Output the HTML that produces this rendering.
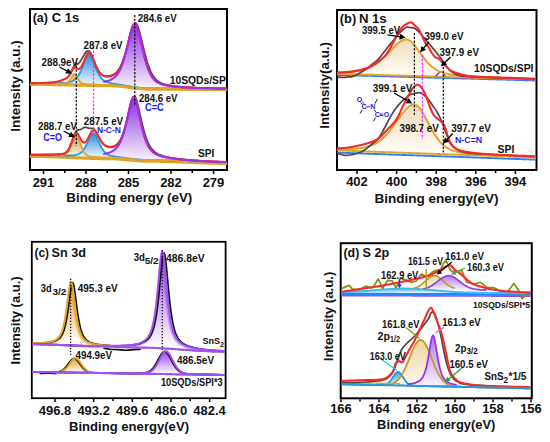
<!DOCTYPE html>
<html><head><meta charset="utf-8"><style>
html,body{margin:0;padding:0;background:#fff;width:550px;height:442px;overflow:hidden}
svg{display:block}
text{font-family:"Liberation Sans",sans-serif}
</style></head><body>
<svg width="550" height="442" viewBox="0 0 550 442">
<defs><linearGradient id="g1" gradientUnits="userSpaceOnUse" x1="0" y1="74.0" x2="0" y2="84.5"><stop offset="0" stop-color="#D4A060" stop-opacity="1"/><stop offset="1" stop-color="#FFF8EC" stop-opacity="1"/></linearGradient>
<linearGradient id="g2" gradientUnits="userSpaceOnUse" x1="0" y1="54.6" x2="0" y2="84.8"><stop offset="0" stop-color="#2F8FE0" stop-opacity="1"/><stop offset="1" stop-color="#EEF5FD" stop-opacity="1"/></linearGradient>
<linearGradient id="g3" gradientUnits="userSpaceOnUse" x1="0" y1="24.0" x2="0" y2="87.5"><stop offset="0" stop-color="#8A2BE2" stop-opacity="1"/><stop offset="1" stop-color="#F7F0FF" stop-opacity="1"/></linearGradient>
<linearGradient id="g4" gradientUnits="userSpaceOnUse" x1="0" y1="136.0" x2="0" y2="156.8"><stop offset="0" stop-color="#D4A060" stop-opacity="1"/><stop offset="1" stop-color="#FFF8EC" stop-opacity="1"/></linearGradient>
<linearGradient id="g5" gradientUnits="userSpaceOnUse" x1="0" y1="133.5" x2="0" y2="157.4"><stop offset="0" stop-color="#2F8FE0" stop-opacity="1"/><stop offset="1" stop-color="#EEF5FD" stop-opacity="1"/></linearGradient>
<linearGradient id="g6" gradientUnits="userSpaceOnUse" x1="0" y1="97.3" x2="0" y2="159.3"><stop offset="0" stop-color="#8A2BE2" stop-opacity="1"/><stop offset="1" stop-color="#F7F0FF" stop-opacity="1"/></linearGradient>
<linearGradient id="g7" gradientUnits="userSpaceOnUse" x1="0" y1="39.4" x2="0" y2="75.7"><stop offset="0" stop-color="#F1DCB8" stop-opacity="1"/><stop offset="1" stop-color="#FFFDF8" stop-opacity="1"/></linearGradient>
<linearGradient id="g8" gradientUnits="userSpaceOnUse" x1="0" y1="104.6" x2="0" y2="153.1"><stop offset="0" stop-color="#F1DCB8" stop-opacity="1"/><stop offset="1" stop-color="#FFFDF8" stop-opacity="1"/></linearGradient>
<linearGradient id="g9" gradientUnits="userSpaceOnUse" x1="0" y1="281.6" x2="0" y2="345.6"><stop offset="0" stop-color="#E2A030" stop-opacity="1"/><stop offset="1" stop-color="#FFFFFF" stop-opacity="1"/></linearGradient>
<clipPath id="clipc1"><path d="M33.00 343.40 L33.50 343.37 L34.00 343.35 L34.50 343.33 L35.00 343.31 L35.50 343.28 L36.00 343.26 L36.50 343.23 L37.00 343.21 L37.50 343.18 L38.00 343.15 L38.50 343.13 L39.00 343.10 L39.50 343.07 L40.00 343.03 L40.50 343.00 L41.00 342.97 L41.50 342.93 L42.00 342.89 L42.50 342.85 L43.00 342.81 L43.50 342.77 L44.00 342.72 L44.50 342.67 L45.00 342.61 L45.50 342.56 L46.00 342.50 L46.50 342.43 L47.00 342.36 L47.50 342.29 L48.00 342.21 L48.50 342.12 L49.00 342.03 L49.50 341.93 L50.00 341.83 L50.50 341.72 L51.00 341.59 L51.50 341.46 L52.00 341.32 L52.50 341.16 L53.00 340.99 L53.50 340.81 L54.00 340.61 L54.50 340.39 L55.00 340.15 L55.50 339.88 L56.00 339.59 L56.50 339.27 L57.00 338.91 L57.50 338.50 L58.00 338.05 L58.50 337.54 L59.00 336.96 L59.50 336.30 L60.00 335.54 L60.50 334.68 L61.00 333.70 L61.50 332.57 L62.00 331.28 L62.50 329.81 L63.00 328.13 L63.50 326.23 L64.00 324.08 L64.50 321.67 L65.00 318.97 L65.50 315.99 L66.00 312.72 L66.50 309.17 L67.00 305.39 L67.50 301.43 L68.00 297.39 L68.50 293.40 L69.00 289.66 L69.50 286.39 L70.00 283.83 L70.50 282.19 L71.00 281.64 L71.50 282.24 L72.00 283.92 L72.50 286.53 L73.00 289.85 L73.50 293.64 L74.00 297.67 L74.50 301.76 L75.00 305.77 L75.50 309.60 L76.00 313.19 L76.50 316.51 L77.00 319.54 L77.50 322.28 L78.00 324.74 L78.50 326.93 L79.00 328.88 L79.50 330.60 L80.00 332.12 L80.50 333.45 L81.00 334.62 L81.50 335.65 L82.00 336.55 L82.50 337.35 L83.00 338.05 L83.50 338.67 L84.00 339.22 L84.50 339.72 L85.00 340.16 L85.50 340.56 L86.00 340.92 L86.50 341.25 L87.00 341.55 L87.50 341.83 L88.00 342.09 L88.50 342.32 L89.00 342.54 L89.50 342.74 L90.00 342.93 L90.50 343.10 L91.00 343.27 L91.50 343.42 L92.00 343.56 L92.50 343.70 L93.00 343.82 L93.50 343.94 L94.00 344.05 L94.50 344.16 L95.00 344.25 L95.50 344.35 L96.00 344.43 L96.50 344.51 L97.00 344.59 L97.50 344.66 L98.00 344.73 L98.50 344.79 L99.00 344.85 L99.50 344.91 L100.00 344.96 L100.50 345.01 L101.00 345.06 L101.50 345.11 L102.00 345.16 L102.50 345.20 L103.00 345.25 L103.50 345.29 L104.00 345.34 L104.50 345.38 L105.00 345.42 L105.50 345.46 L106.00 345.50 L106.50 345.54 L107.00 345.58 L107.50 345.62 L108.00 345.66 L108.50 345.70 L109.00 345.74 L109.50 345.77 L110.00 345.81 L110.50 345.85 L111.00 345.88 L111.50 345.92 L112.00 345.96 L112.50 345.99 L113.00 346.03 L113.50 346.06 L114.00 346.10 L114.50 346.13 L115.00 346.17 L115.50 346.20 L116.00 346.24 L116.50 346.27 L117.00 346.31 L117.50 346.34 L118.00 346.37 L118.50 346.40 L119.00 346.44 L119.50 346.47 L120.00 346.50 L120.50 346.53 L121.00 346.56 L121.50 346.59 L122.00 346.63 L122.50 346.66 L123.00 346.69 L123.50 346.71 L124.00 346.74 L124.50 346.77 L125.00 346.80 L125.50 346.83 L126.00 346.85 L126.50 346.88 L127.00 346.91 L127.50 346.93 L128.00 346.96 L128.50 346.98 L129.00 347.00 L129.50 347.03 L130.00 347.05 L130.50 347.07 L131.00 347.09 L131.50 347.11 L132.00 347.13 L132.50 347.15 L133.00 347.17 L133.50 347.18 L134.00 347.20 L134.50 347.22 L135.00 347.23 L135.50 347.24 L136.00 347.26 L136.50 347.27 L137.00 347.28 L137.50 347.29 L138.00 347.30 L138.50 347.30 L139.00 347.31 L139.50 347.32 L140.00 347.32 L140.50 347.33 L141.00 347.33 L141.50 347.34 L142.00 347.34 L142.50 347.35 L143.00 347.36 L143.50 347.37 L144.00 347.38 L144.50 347.39 L145.00 347.40 L145.50 347.41 L146.00 347.42 L146.50 347.43 L147.00 347.45 L147.50 347.46 L148.00 347.48 L148.50 347.49 L149.00 347.51 L149.50 347.52 L150.00 347.54 L150.50 347.56 L151.00 347.58 L151.50 347.60 L152.00 347.61 L152.50 347.63 L153.00 347.65 L153.50 347.68 L154.00 347.70 L154.50 347.72 L155.00 347.74 L155.50 347.76 L156.00 347.79 L156.50 347.81 L157.00 347.84 L157.50 347.86 L158.00 347.89 L158.50 347.91 L159.00 347.94 L159.50 347.97 L160.00 347.99 L160.50 348.02 L161.00 348.05 L161.50 348.08 L162.00 348.10 L162.50 348.13 L163.00 348.16 L163.50 348.19 L164.00 348.22 L164.50 348.25 L165.00 348.28 L165.50 348.32 L166.00 348.35 L166.50 348.38 L167.00 348.41 L167.50 348.44 L168.00 348.48 L168.50 348.51 L169.00 348.54 L169.50 348.57 L170.00 348.61 L170.50 348.64 L171.00 348.68 L171.50 348.71 L172.00 348.74 L172.50 348.78 L173.00 348.81 L173.50 348.85 L174.00 348.88 L174.50 348.92 L175.00 348.95 L175.50 348.99 L176.00 349.02 L176.50 349.06 L177.00 349.10 L177.50 349.13 L178.00 349.17 L178.50 349.20 L179.00 349.24 L179.50 349.28 L180.00 349.31 L180.50 349.35 L181.00 349.38 L181.50 349.42 L182.00 349.46 L182.50 349.49 L183.00 349.53 L183.50 349.57 L184.00 349.60 L184.50 349.64 L185.00 349.67 L185.50 349.71 L186.00 349.75 L186.50 349.78 L187.00 349.82 L187.50 349.85 L188.00 349.89 L188.50 349.92 L189.00 349.96 L189.50 349.99 L190.00 350.03 L190.50 350.06 L191.00 350.10 L191.50 350.13 L192.00 350.17 L192.50 350.20 L193.00 350.24 L193.50 350.27 L194.00 350.30 L194.50 350.34 L195.00 350.37 L195.50 350.40 L196.00 350.44 L196.50 350.47 L197.00 350.50 L197.50 350.53 L198.00 350.56 L198.50 350.59 L199.00 350.63 L199.50 350.66 L200.00 350.69 L200.50 350.72 L201.00 350.74 L201.50 350.77 L202.00 350.80 L202.50 350.83 L203.00 350.86 L203.50 350.89 L204.00 350.91 L204.50 350.94 L205.00 350.97 L205.50 350.99 L206.00 351.02 L206.50 351.04 L207.00 351.07 L207.50 351.09 L208.00 351.11 L208.50 351.14 L209.00 351.16 L209.50 351.18 L210.00 351.20 L210.50 351.22 L211.00 351.24 L211.50 351.26 L212.00 351.28 L212.50 351.30 L213.00 351.32 L213.50 351.33 L214.00 351.35 L214.50 351.37 L215.00 351.38 L215.50 351.40 L216.00 351.41 L216.50 351.43 L217.00 351.44 L217.50 351.45 L218.00 351.46 L218.50 351.47 L219.00 351.48 L219.50 351.49 L220.00 351.50 L220.50 351.51 L221.00 351.52 L221.50 351.52 L222.00 351.53 L222.50 351.53 L223.00 351.54 L223.50 351.54 L224.00 351.54 L224.00 351.60 L33.00 344.30 Z"/></clipPath>
<linearGradient id="g10" gradientUnits="userSpaceOnUse" x1="0" y1="251.3" x2="0" y2="348.3"><stop offset="0" stop-color="#9A40F0" stop-opacity="1"/><stop offset="1" stop-color="#FFFFFF" stop-opacity="1"/></linearGradient>
<clipPath id="clipc2"><path d="M33.00 344.16 L33.50 344.16 L34.00 344.16 L34.50 344.16 L35.00 344.16 L35.50 344.17 L36.00 344.17 L36.50 344.17 L37.00 344.18 L37.50 344.18 L38.00 344.19 L38.50 344.20 L39.00 344.21 L39.50 344.21 L40.00 344.22 L40.50 344.23 L41.00 344.24 L41.50 344.25 L42.00 344.26 L42.50 344.27 L43.00 344.28 L43.50 344.30 L44.00 344.31 L44.50 344.32 L45.00 344.33 L45.50 344.35 L46.00 344.36 L46.50 344.38 L47.00 344.39 L47.50 344.41 L48.00 344.42 L48.50 344.44 L49.00 344.45 L49.50 344.47 L50.00 344.49 L50.50 344.51 L51.00 344.52 L51.50 344.54 L52.00 344.56 L52.50 344.58 L53.00 344.60 L53.50 344.62 L54.00 344.63 L54.50 344.65 L55.00 344.67 L55.50 344.69 L56.00 344.71 L56.50 344.73 L57.00 344.75 L57.50 344.78 L58.00 344.80 L58.50 344.82 L59.00 344.84 L59.50 344.86 L60.00 344.88 L60.50 344.90 L61.00 344.92 L61.50 344.94 L62.00 344.97 L62.50 344.99 L63.00 345.01 L63.50 345.03 L64.00 345.05 L64.50 345.07 L65.00 345.10 L65.50 345.12 L66.00 345.14 L66.50 345.16 L67.00 345.18 L67.50 345.20 L68.00 345.22 L68.50 345.25 L69.00 345.27 L69.50 345.29 L70.00 345.31 L70.50 345.33 L71.00 345.35 L71.50 345.37 L72.00 345.39 L72.50 345.41 L73.00 345.43 L73.50 345.45 L74.00 345.47 L74.50 345.49 L75.00 345.51 L75.50 345.53 L76.00 345.55 L76.50 345.56 L77.00 345.58 L77.50 345.60 L78.00 345.62 L78.50 345.63 L79.00 345.65 L79.50 345.67 L80.00 345.68 L80.50 345.70 L81.00 345.71 L81.50 345.73 L82.00 345.74 L82.50 345.76 L83.00 345.77 L83.50 345.78 L84.00 345.80 L84.50 345.81 L85.00 345.82 L85.50 345.83 L86.00 345.84 L86.50 345.85 L87.00 345.86 L87.50 345.87 L88.00 345.88 L88.50 345.89 L89.00 345.90 L89.50 345.90 L90.00 345.91 L90.50 345.91 L91.00 345.92 L91.50 345.92 L92.00 345.93 L92.50 345.93 L93.00 345.93 L93.50 345.93 L94.00 345.93 L94.50 345.93 L95.00 345.93 L95.50 345.93 L96.00 345.93 L96.50 345.93 L97.00 345.92 L97.50 345.92 L98.00 345.91 L98.50 345.90 L99.00 345.90 L99.50 345.89 L100.00 345.88 L100.50 345.87 L101.00 345.86 L101.50 345.85 L102.00 345.84 L102.50 345.84 L103.00 345.83 L103.50 345.83 L104.00 345.82 L104.50 345.82 L105.00 345.81 L105.50 345.81 L106.00 345.81 L106.50 345.80 L107.00 345.80 L107.50 345.80 L108.00 345.80 L108.50 345.80 L109.00 345.79 L109.50 345.79 L110.00 345.79 L110.50 345.79 L111.00 345.79 L111.50 345.79 L112.00 345.79 L112.50 345.79 L113.00 345.78 L113.50 345.78 L114.00 345.78 L114.50 345.78 L115.00 345.78 L115.50 345.77 L116.00 345.77 L116.50 345.76 L117.00 345.76 L117.50 345.75 L118.00 345.75 L118.50 345.74 L119.00 345.73 L119.50 345.72 L120.00 345.71 L120.50 345.70 L121.00 345.69 L121.50 345.68 L122.00 345.66 L122.50 345.65 L123.00 345.63 L123.50 345.61 L124.00 345.59 L124.50 345.57 L125.00 345.54 L125.50 345.51 L126.00 345.49 L126.50 345.46 L127.00 345.42 L127.50 345.39 L128.00 345.35 L128.50 345.31 L129.00 345.26 L129.50 345.21 L130.00 345.16 L130.50 345.11 L131.00 345.05 L131.50 344.99 L132.00 344.92 L132.50 344.85 L133.00 344.78 L133.50 344.70 L134.00 344.61 L134.50 344.52 L135.00 344.42 L135.50 344.31 L136.00 344.20 L136.50 344.08 L137.00 343.96 L137.50 343.82 L138.00 343.68 L138.50 343.52 L139.00 343.36 L139.50 343.18 L140.00 343.00 L140.50 342.80 L141.00 342.58 L141.50 342.36 L142.00 342.12 L142.50 341.86 L143.00 341.58 L143.50 341.29 L144.00 340.97 L144.50 340.63 L145.00 340.25 L145.50 339.85 L146.00 339.41 L146.50 338.93 L147.00 338.40 L147.50 337.82 L148.00 337.17 L148.50 336.45 L149.00 335.65 L149.50 334.75 L150.00 333.74 L150.50 332.61 L151.00 331.33 L151.50 329.88 L152.00 328.25 L152.50 326.41 L153.00 324.33 L153.50 322.00 L154.00 319.38 L154.50 316.46 L155.00 313.21 L155.50 309.61 L156.00 305.65 L156.50 301.33 L157.00 296.65 L157.50 291.65 L158.00 286.35 L158.50 280.85 L159.00 275.26 L159.50 269.74 L160.00 264.50 L160.50 259.79 L161.00 255.89 L161.50 253.06 L162.00 251.53 L162.50 251.41 L163.00 252.72 L163.50 255.36 L164.00 259.12 L164.50 263.75 L165.00 268.96 L165.50 274.49 L166.00 280.14 L166.50 285.72 L167.00 291.12 L167.50 296.24 L168.00 301.04 L168.50 305.49 L169.00 309.57 L169.50 313.29 L170.00 316.67 L170.50 319.71 L171.00 322.43 L171.50 324.87 L172.00 327.05 L172.50 328.99 L173.00 330.71 L173.50 332.24 L174.00 333.60 L174.50 334.81 L175.00 335.90 L175.50 336.86 L176.00 337.73 L176.50 338.51 L177.00 339.22 L177.50 339.86 L178.00 340.44 L178.50 340.98 L179.00 341.47 L179.50 341.92 L180.00 342.34 L180.50 342.73 L181.00 343.10 L181.50 343.44 L182.00 343.76 L182.50 344.06 L183.00 344.34 L183.50 344.61 L184.00 344.86 L184.50 345.10 L185.00 345.32 L185.50 345.54 L186.00 345.74 L186.50 345.94 L187.00 346.12 L187.50 346.30 L188.00 346.47 L188.50 346.63 L189.00 346.79 L189.50 346.93 L190.00 347.08 L190.50 347.21 L191.00 347.35 L191.50 347.47 L192.00 347.60 L192.50 347.71 L193.00 347.83 L193.50 347.94 L194.00 348.04 L194.50 348.15 L195.00 348.25 L195.50 348.34 L196.00 348.44 L196.50 348.53 L197.00 348.61 L197.50 348.70 L198.00 348.78 L198.50 348.86 L199.00 348.94 L199.50 349.02 L200.00 349.09 L200.50 349.16 L201.00 349.23 L201.50 349.30 L202.00 349.37 L202.50 349.43 L203.00 349.49 L203.50 349.55 L204.00 349.61 L204.50 349.67 L205.00 349.73 L205.50 349.78 L206.00 349.84 L206.50 349.89 L207.00 349.94 L207.50 349.99 L208.00 350.04 L208.50 350.08 L209.00 350.13 L209.50 350.17 L210.00 350.22 L210.50 350.26 L211.00 350.30 L211.50 350.34 L212.00 350.38 L212.50 350.41 L213.00 350.45 L213.50 350.48 L214.00 350.52 L214.50 350.55 L215.00 350.58 L215.50 350.61 L216.00 350.64 L216.50 350.67 L217.00 350.70 L217.50 350.72 L218.00 350.75 L218.50 350.77 L219.00 350.79 L219.50 350.82 L220.00 350.84 L220.50 350.86 L221.00 350.87 L221.50 350.89 L222.00 350.91 L222.50 350.92 L223.00 350.94 L223.50 350.95 L224.00 350.96 L224.00 351.60 L33.00 344.30 Z"/></clipPath>
<linearGradient id="g11" gradientUnits="userSpaceOnUse" x1="0" y1="358.4" x2="0" y2="372.7"><stop offset="0" stop-color="#E2A030" stop-opacity="1"/><stop offset="1" stop-color="#FFFFFF" stop-opacity="1"/></linearGradient>
<linearGradient id="g12" gradientUnits="userSpaceOnUse" x1="0" y1="351.3" x2="0" y2="374.1"><stop offset="0" stop-color="#9A40F0" stop-opacity="1"/><stop offset="1" stop-color="#FFFFFF" stop-opacity="1"/></linearGradient>
<linearGradient id="g13" gradientUnits="userSpaceOnUse" x1="0" y1="288.6" x2="0" y2="292.8"><stop offset="0" stop-color="#40B0F5" stop-opacity="1"/><stop offset="1" stop-color="#E6F5FF" stop-opacity="1"/></linearGradient>
<linearGradient id="g14" gradientUnits="userSpaceOnUse" x1="0" y1="275.7" x2="0" y2="289.2"><stop offset="0" stop-color="#EDD3A4" stop-opacity="1"/><stop offset="1" stop-color="#FFF8EC" stop-opacity="1"/></linearGradient>
<linearGradient id="g15" gradientUnits="userSpaceOnUse" x1="0" y1="275.7" x2="0" y2="290.2"><stop offset="0" stop-color="#B47CF0" stop-opacity="1"/><stop offset="1" stop-color="#F8F2FF" stop-opacity="1"/></linearGradient>
<linearGradient id="g16" gradientUnits="userSpaceOnUse" x1="0" y1="372.0" x2="0" y2="385.5"><stop offset="0" stop-color="#3AA0F0" stop-opacity="1"/><stop offset="1" stop-color="#E8F4FF" stop-opacity="1"/></linearGradient>
<linearGradient id="g17" gradientUnits="userSpaceOnUse" x1="0" y1="340.0" x2="0" y2="386.0"><stop offset="0" stop-color="#EDD3A4" stop-opacity="1"/><stop offset="1" stop-color="#FFF8EC" stop-opacity="1"/></linearGradient>
<linearGradient id="g18" gradientUnits="userSpaceOnUse" x1="0" y1="335.2" x2="0" y2="386.2"><stop offset="0" stop-color="#B47CF0" stop-opacity="1"/><stop offset="1" stop-color="#F6F0FF" stop-opacity="1"/></linearGradient></defs>
<rect width="550" height="442" fill="#fff"/>
<rect x="30.00" y="9.00" width="197.00" height="161.00" fill="none" stroke="#000" stroke-width="2"/>
<line x1="43.50" y1="171.00" x2="43.50" y2="174.00" stroke="#000" stroke-width="1.5" stroke-linecap="butt"/>
<text x="43.50" y="186.60" font-size="13.00" fill="#111" text-anchor="middle" font-weight="bold">291</text>
<line x1="86.00" y1="171.00" x2="86.00" y2="174.00" stroke="#000" stroke-width="1.5" stroke-linecap="butt"/>
<text x="86.00" y="186.60" font-size="13.00" fill="#111" text-anchor="middle" font-weight="bold">288</text>
<line x1="128.50" y1="171.00" x2="128.50" y2="174.00" stroke="#000" stroke-width="1.5" stroke-linecap="butt"/>
<text x="128.50" y="186.60" font-size="13.00" fill="#111" text-anchor="middle" font-weight="bold">285</text>
<line x1="171.00" y1="171.00" x2="171.00" y2="174.00" stroke="#000" stroke-width="1.5" stroke-linecap="butt"/>
<text x="171.00" y="186.60" font-size="13.00" fill="#111" text-anchor="middle" font-weight="bold">282</text>
<line x1="213.50" y1="171.00" x2="213.50" y2="174.00" stroke="#000" stroke-width="1.5" stroke-linecap="butt"/>
<text x="213.50" y="186.60" font-size="13.00" fill="#111" text-anchor="middle" font-weight="bold">279</text>
<line x1="64.75" y1="171.00" x2="64.75" y2="173.10" stroke="#000" stroke-width="1.5" stroke-linecap="butt"/>
<line x1="107.25" y1="171.00" x2="107.25" y2="173.10" stroke="#000" stroke-width="1.5" stroke-linecap="butt"/>
<line x1="149.75" y1="171.00" x2="149.75" y2="173.10" stroke="#000" stroke-width="1.5" stroke-linecap="butt"/>
<line x1="192.25" y1="171.00" x2="192.25" y2="173.10" stroke="#000" stroke-width="1.5" stroke-linecap="butt"/>
<text x="129.30" y="202.20" font-size="13.30" fill="#111" text-anchor="middle" font-weight="bold" textLength="126.0" lengthAdjust="spacingAndGlyphs">Binding energy (eV)</text>
<text x="20.40" y="86.00" font-size="13.50" fill="#111" text-anchor="middle" font-weight="bold" textLength="91.5" lengthAdjust="spacingAndGlyphs" transform="rotate(-90 20.40 86.00)">Intensity (a.u.)</text>
<path d="M31.00 83.76 L32.00 83.76 L33.00 83.76 L34.00 83.76 L35.00 83.76 L36.00 83.76 L37.00 83.77 L38.00 83.77 L39.00 83.78 L40.00 83.78 L41.00 83.79 L42.00 83.80 L43.00 83.80 L44.00 83.81 L45.00 83.82 L46.00 83.83 L47.00 83.84 L48.00 83.84 L49.00 83.85 L50.00 83.86 L51.00 83.86 L52.00 83.87 L53.00 83.87 L54.00 83.87 L55.00 83.87 L56.00 83.87 L57.00 83.87 L58.00 83.85 L59.00 83.84 L60.00 83.81 L61.00 83.78 L62.00 83.73 L63.00 83.66 L64.00 83.54 L65.00 83.36 L66.00 83.08 L67.00 82.62 L68.00 81.93 L69.00 80.94 L70.00 79.63 L71.00 78.05 L72.00 76.35 L73.00 74.86 L74.00 74.06 L75.00 74.30 L76.00 75.48 L77.00 77.15 L78.00 78.87 L79.00 80.40 L80.00 81.63 L81.00 82.54 L82.00 83.17 L83.00 83.60 L84.00 83.88 L85.00 84.07 L86.00 84.20 L87.00 84.31 L88.00 84.39 L89.00 84.46 L90.00 84.52 L91.00 84.57 L92.00 84.61 L93.00 84.65 L94.00 84.69 L95.00 84.72 L96.00 84.75 L97.00 84.78 L98.00 84.80 L99.00 84.82 L100.00 84.84 L101.00 84.86 L102.00 84.87 L103.00 84.89 L104.00 84.90 L105.00 84.91 L106.00 84.92 L107.00 84.92 L108.00 84.93 L109.00 84.94 L110.00 84.96 L111.00 84.99 L112.00 85.03 L113.00 85.09 L114.00 85.15 L115.00 85.22 L116.00 85.29 L117.00 85.38 L118.00 85.47 L119.00 85.57 L120.00 85.67 L121.00 85.78 L122.00 85.90 L123.00 86.01 L124.00 86.14 L125.00 86.26 L126.00 86.39 L127.00 86.51 L128.00 86.64 L129.00 86.77 L130.00 86.90 L131.00 87.03 L132.00 87.16 L133.00 87.28 L134.00 87.41 L135.00 87.53 L136.00 87.64 L137.00 87.76 L138.00 87.87 L139.00 87.97 L140.00 88.07 L141.00 88.16 L142.00 88.24 L143.00 88.32 L144.00 88.38 L145.00 88.44 L146.00 88.49 L147.00 88.53 L148.00 88.56 L149.00 88.58 L150.00 88.59 L151.00 88.59 L152.00 88.59 L153.00 88.59 L154.00 88.59 L155.00 88.59 L156.00 88.59 L157.00 88.60 L158.00 88.60 L159.00 88.60 L160.00 88.61 L161.00 88.61 L162.00 88.61 L163.00 88.62 L164.00 88.62 L165.00 88.63 L166.00 88.63 L167.00 88.64 L168.00 88.64 L169.00 88.65 L170.00 88.66 L171.00 88.66 L172.00 88.67 L173.00 88.68 L174.00 88.68 L175.00 88.69 L176.00 88.70 L177.00 88.70 L178.00 88.71 L179.00 88.72 L180.00 88.72 L181.00 88.73 L182.00 88.74 L183.00 88.75 L184.00 88.75 L185.00 88.76 L186.00 88.77 L187.00 88.78 L188.00 88.79 L189.00 88.79 L190.00 88.80 L191.00 88.81 L192.00 88.82 L193.00 88.82 L194.00 88.83 L195.00 88.84 L196.00 88.85 L197.00 88.86 L198.00 88.86 L199.00 88.87 L200.00 88.88 L201.00 88.88 L202.00 88.89 L203.00 88.90 L204.00 88.90 L205.00 88.91 L206.00 88.92 L207.00 88.92 L208.00 88.93 L209.00 88.94 L210.00 88.94 L211.00 88.95 L212.00 88.95 L213.00 88.96 L214.00 88.96 L215.00 88.97 L216.00 88.97 L217.00 88.97 L218.00 88.98 L219.00 88.98 L220.00 88.98 L221.00 88.99 L222.00 88.99 L223.00 88.99 L224.00 88.99 L225.00 88.99 L226.00 89.00 L226.00 89.00 L31.00 83.80 Z" fill="url(#g1)" stroke="none"/>
<path d="M31.00 83.50 L32.00 83.49 L33.00 83.49 L34.00 83.48 L35.00 83.47 L36.00 83.46 L37.00 83.46 L38.00 83.45 L39.00 83.45 L40.00 83.44 L41.00 83.43 L42.00 83.43 L43.00 83.42 L44.00 83.41 L45.00 83.40 L46.00 83.40 L47.00 83.39 L48.00 83.38 L49.00 83.36 L50.00 83.35 L51.00 83.33 L52.00 83.32 L53.00 83.30 L54.00 83.28 L55.00 83.25 L56.00 83.22 L57.00 83.19 L58.00 83.15 L59.00 83.11 L60.00 83.06 L61.00 83.00 L62.00 82.94 L63.00 82.87 L64.00 82.78 L65.00 82.69 L66.00 82.57 L67.00 82.44 L68.00 82.27 L69.00 82.08 L70.00 81.84 L71.00 81.54 L72.00 81.17 L73.00 80.71 L74.00 80.14 L75.00 79.42 L76.00 78.53 L77.00 77.44 L78.00 76.13 L79.00 74.58 L80.00 72.77 L81.00 70.70 L82.00 68.40 L83.00 65.91 L84.00 63.31 L85.00 60.72 L86.00 58.33 L87.00 56.37 L88.00 55.07 L89.00 54.62 L90.00 55.10 L91.00 56.44 L92.00 58.44 L93.00 60.86 L94.00 63.48 L95.00 66.11 L96.00 68.64 L97.00 70.97 L98.00 73.07 L99.00 74.91 L100.00 76.49 L101.00 77.83 L102.00 78.95 L103.00 79.87 L104.00 80.61 L105.00 81.22 L106.00 81.70 L107.00 82.10 L108.00 82.42 L109.00 82.68 L110.00 82.92 L111.00 83.13 L112.00 83.33 L113.00 83.52 L114.00 83.70 L115.00 83.87 L116.00 84.04 L117.00 84.21 L118.00 84.38 L119.00 84.55 L120.00 84.71 L121.00 84.88 L122.00 85.04 L123.00 85.21 L124.00 85.37 L125.00 85.54 L126.00 85.70 L127.00 85.86 L128.00 86.03 L129.00 86.18 L130.00 86.34 L131.00 86.50 L132.00 86.65 L133.00 86.80 L134.00 86.94 L135.00 87.08 L136.00 87.22 L137.00 87.35 L138.00 87.47 L139.00 87.59 L140.00 87.70 L141.00 87.81 L142.00 87.90 L143.00 87.99 L144.00 88.07 L145.00 88.14 L146.00 88.20 L147.00 88.25 L148.00 88.29 L149.00 88.32 L150.00 88.33 L151.00 88.34 L152.00 88.35 L153.00 88.36 L154.00 88.36 L155.00 88.37 L156.00 88.38 L157.00 88.39 L158.00 88.40 L159.00 88.41 L160.00 88.42 L161.00 88.43 L162.00 88.44 L163.00 88.45 L164.00 88.45 L165.00 88.46 L166.00 88.47 L167.00 88.48 L168.00 88.49 L169.00 88.50 L170.00 88.51 L171.00 88.52 L172.00 88.53 L173.00 88.54 L174.00 88.55 L175.00 88.56 L176.00 88.57 L177.00 88.58 L178.00 88.59 L179.00 88.60 L180.00 88.61 L181.00 88.62 L182.00 88.63 L183.00 88.64 L184.00 88.65 L185.00 88.66 L186.00 88.67 L187.00 88.68 L188.00 88.69 L189.00 88.70 L190.00 88.71 L191.00 88.72 L192.00 88.73 L193.00 88.74 L194.00 88.75 L195.00 88.76 L196.00 88.76 L197.00 88.77 L198.00 88.78 L199.00 88.79 L200.00 88.80 L201.00 88.81 L202.00 88.82 L203.00 88.82 L204.00 88.83 L205.00 88.84 L206.00 88.85 L207.00 88.86 L208.00 88.86 L209.00 88.87 L210.00 88.88 L211.00 88.88 L212.00 88.89 L213.00 88.90 L214.00 88.90 L215.00 88.91 L216.00 88.91 L217.00 88.92 L218.00 88.92 L219.00 88.93 L220.00 88.93 L221.00 88.93 L222.00 88.94 L223.00 88.94 L224.00 88.94 L225.00 88.94 L226.00 88.95 L226.00 89.00 L31.00 83.80 Z" fill="url(#g2)" stroke="none"/>
<path d="M100.00 82.33 L101.00 82.19 L102.00 82.04 L103.00 81.87 L104.00 81.68 L105.00 81.47 L106.00 81.24 L107.00 80.98 L108.00 80.68 L109.00 80.34 L110.00 79.97 L111.00 79.54 L112.00 79.05 L113.00 78.47 L114.00 77.79 L115.00 76.98 L116.00 76.02 L117.00 74.88 L118.00 73.53 L119.00 71.94 L120.00 70.09 L121.00 67.93 L122.00 65.46 L123.00 62.66 L124.00 59.52 L125.00 56.06 L126.00 52.30 L127.00 48.29 L128.00 44.11 L129.00 39.86 L130.00 35.71 L131.00 31.85 L132.00 28.52 L133.00 25.97 L134.00 24.43 L135.00 24.06 L136.00 24.91 L137.00 26.90 L138.00 29.86 L139.00 33.55 L140.00 37.71 L141.00 42.11 L142.00 46.57 L143.00 50.93 L144.00 55.08 L145.00 58.97 L146.00 62.54 L147.00 65.77 L148.00 68.65 L149.00 71.18 L150.00 73.39 L151.00 75.29 L152.00 76.93 L153.00 78.32 L154.00 79.51 L155.00 80.51 L156.00 81.35 L157.00 82.07 L158.00 82.68 L159.00 83.20 L160.00 83.64 L161.00 84.03 L162.00 84.37 L163.00 84.66 L164.00 84.93 L165.00 85.16 L166.00 85.38 L167.00 85.57 L168.00 85.75 L169.00 85.91 L170.00 86.06 L171.00 86.20 L172.00 86.33 L173.00 86.45 L174.00 86.57 L175.00 86.67 L176.00 86.77 L177.00 86.86 L178.00 86.95 L179.00 87.04 L180.00 87.11 L181.00 87.19 L182.00 87.26 L183.00 87.32 L184.00 87.39 L185.00 87.45 L186.00 87.50 L187.00 87.56 L188.00 87.61 L189.00 87.66 L190.00 87.71 L191.00 87.75 L192.00 87.80 L193.00 87.84 L194.00 87.88 L195.00 87.92 L196.00 87.95 L197.00 87.99 L198.00 88.02 L199.00 88.06 L200.00 88.09 L201.00 88.12 L202.00 88.15 L203.00 88.18 L204.00 88.20 L205.00 88.23 L206.00 88.25 L207.00 88.28 L208.00 88.30 L209.00 88.32 L210.00 88.35 L211.00 88.37 L212.00 88.39 L213.00 88.41 L214.00 88.42 L215.00 88.44 L216.00 88.46 L217.00 88.47 L218.00 88.49 L219.00 88.51 L220.00 88.52 L221.00 88.53 L222.00 88.55 L223.00 88.56 L224.00 88.57 L225.00 88.58 L226.00 88.59 L226.00 89.00 L100.00 84.96 Z" fill="url(#g3)" stroke="none"/>
<path d="M31.00 84.30 L31.50 84.30 L32.00 84.30 L32.50 84.30 L33.00 84.31 L33.50 84.31 L34.00 84.31 L34.50 84.31 L35.00 84.31 L35.50 84.32 L36.00 84.32 L36.50 84.32 L37.00 84.33 L37.50 84.33 L38.00 84.34 L38.50 84.34 L39.00 84.34 L39.50 84.35 L40.00 84.35 L40.50 84.36 L41.00 84.36 L41.50 84.37 L42.00 84.38 L42.50 84.38 L43.00 84.39 L43.50 84.40 L44.00 84.40 L44.50 84.41 L45.00 84.42 L45.50 84.42 L46.00 84.43 L46.50 84.44 L47.00 84.45 L47.50 84.45 L48.00 84.46 L48.50 84.47 L49.00 84.48 L49.50 84.49 L50.00 84.50 L50.50 84.51 L51.00 84.51 L51.50 84.52 L52.00 84.53 L52.50 84.54 L53.00 84.55 L53.50 84.56 L54.00 84.57 L54.50 84.58 L55.00 84.59 L55.50 84.60 L56.00 84.61 L56.50 84.62 L57.00 84.63 L57.50 84.64 L58.00 84.65 L58.50 84.66 L59.00 84.67 L59.50 84.69 L60.00 84.70 L60.50 84.71 L61.00 84.72 L61.50 84.73 L62.00 84.74 L62.50 84.75 L63.00 84.76 L63.50 84.77 L64.00 84.79 L64.50 84.80 L65.00 84.81 L65.50 84.82 L66.00 84.83 L66.50 84.84 L67.00 84.85 L67.50 84.87 L68.00 84.88 L68.50 84.89 L69.00 84.90 L69.50 84.91 L70.00 84.92 L70.50 84.93 L71.00 84.95 L71.50 84.96 L72.00 84.97 L72.50 84.98 L73.00 84.99 L73.50 85.00 L74.00 85.01 L74.50 85.03 L75.00 85.04 L75.50 85.05 L76.00 85.06 L76.50 85.07 L77.00 85.08 L77.50 85.09 L78.00 85.10 L78.50 85.11 L79.00 85.13 L79.50 85.14 L80.00 85.15 L80.50 85.16 L81.00 85.17 L81.50 85.18 L82.00 85.19 L82.50 85.20 L83.00 85.21 L83.50 85.22 L84.00 85.23 L84.50 85.24 L85.00 85.25 L85.50 85.26 L86.00 85.27 L86.50 85.28 L87.00 85.29 L87.50 85.29 L88.00 85.30 L88.50 85.31 L89.00 85.32 L89.50 85.33 L90.00 85.34 L90.50 85.35 L91.00 85.35 L91.50 85.36 L92.00 85.37 L92.50 85.38 L93.00 85.38 L93.50 85.39 L94.00 85.40 L94.50 85.40 L95.00 85.41 L95.50 85.42 L96.00 85.42 L96.50 85.43 L97.00 85.44 L97.50 85.44 L98.00 85.45 L98.50 85.45 L99.00 85.46 L99.50 85.46 L100.00 85.46 L100.50 85.47 L101.00 85.47 L101.50 85.48 L102.00 85.48 L102.50 85.48 L103.00 85.49 L103.50 85.49 L104.00 85.49 L104.50 85.49 L105.00 85.49 L105.50 85.50 L106.00 85.50 L106.50 85.50 L107.00 85.50 L107.50 85.50 L108.00 85.50 L108.50 85.50 L109.00 85.51 L109.50 85.51 L110.00 85.52 L110.50 85.54 L111.00 85.55 L111.50 85.57 L112.00 85.59 L112.50 85.62 L113.00 85.64 L113.50 85.67 L114.00 85.70 L114.50 85.73 L115.00 85.77 L115.50 85.80 L116.00 85.84 L116.50 85.88 L117.00 85.93 L117.50 85.97 L118.00 86.02 L118.50 86.06 L119.00 86.11 L119.50 86.16 L120.00 86.21 L120.50 86.27 L121.00 86.32 L121.50 86.38 L122.00 86.43 L122.50 86.49 L123.00 86.55 L123.50 86.61 L124.00 86.67 L124.50 86.73 L125.00 86.79 L125.50 86.85 L126.00 86.92 L126.50 86.98 L127.00 87.04 L127.50 87.11 L128.00 87.17 L128.50 87.24 L129.00 87.30 L129.50 87.36 L130.00 87.43 L130.50 87.49 L131.00 87.56 L131.50 87.62 L132.00 87.68 L132.50 87.75 L133.00 87.81 L133.50 87.87 L134.00 87.93 L134.50 87.99 L135.00 88.05 L135.50 88.11 L136.00 88.17 L136.50 88.22 L137.00 88.28 L137.50 88.33 L138.00 88.39 L138.50 88.44 L139.00 88.49 L139.50 88.54 L140.00 88.58 L140.50 88.63 L141.00 88.67 L141.50 88.72 L142.00 88.76 L142.50 88.80 L143.00 88.83 L143.50 88.87 L144.00 88.90 L144.50 88.93 L145.00 88.96 L145.50 88.98 L146.00 89.01 L146.50 89.03 L147.00 89.05 L147.50 89.06 L148.00 89.08 L148.50 89.09 L149.00 89.09 L149.50 89.10 L150.00 89.10 L150.50 89.10 L151.00 89.10 L151.50 89.10 L152.00 89.10 L152.50 89.10 L153.00 89.10 L153.50 89.10 L154.00 89.10 L154.50 89.10 L155.00 89.10 L155.50 89.11 L156.00 89.11 L156.50 89.11 L157.00 89.11 L157.50 89.11 L158.00 89.11 L158.50 89.11 L159.00 89.11 L159.50 89.12 L160.00 89.12 L160.50 89.12 L161.00 89.12 L161.50 89.12 L162.00 89.13 L162.50 89.13 L163.00 89.13 L163.50 89.13 L164.00 89.13 L164.50 89.14 L165.00 89.14 L165.50 89.14 L166.00 89.14 L166.50 89.15 L167.00 89.15 L167.50 89.15 L168.00 89.15 L168.50 89.16 L169.00 89.16 L169.50 89.16 L170.00 89.17 L170.50 89.17 L171.00 89.17 L171.50 89.17 L172.00 89.18 L172.50 89.18 L173.00 89.18 L173.50 89.19 L174.00 89.19 L174.50 89.19 L175.00 89.20 L175.50 89.20 L176.00 89.20 L176.50 89.21 L177.00 89.21 L177.50 89.21 L178.00 89.22 L178.50 89.22 L179.00 89.22 L179.50 89.23 L180.00 89.23 L180.50 89.24 L181.00 89.24 L181.50 89.24 L182.00 89.25 L182.50 89.25 L183.00 89.25 L183.50 89.26 L184.00 89.26 L184.50 89.27 L185.00 89.27 L185.50 89.27 L186.00 89.28 L186.50 89.28 L187.00 89.28 L187.50 89.29 L188.00 89.29 L188.50 89.30 L189.00 89.30 L189.50 89.30 L190.00 89.31 L190.50 89.31 L191.00 89.32 L191.50 89.32 L192.00 89.32 L192.50 89.33 L193.00 89.33 L193.50 89.33 L194.00 89.34 L194.50 89.34 L195.00 89.35 L195.50 89.35 L196.00 89.35 L196.50 89.36 L197.00 89.36 L197.50 89.36 L198.00 89.37 L198.50 89.37 L199.00 89.38 L199.50 89.38 L200.00 89.38 L200.50 89.39 L201.00 89.39 L201.50 89.39 L202.00 89.40 L202.50 89.40 L203.00 89.40 L203.50 89.41 L204.00 89.41 L204.50 89.41 L205.00 89.42 L205.50 89.42 L206.00 89.42 L206.50 89.43 L207.00 89.43 L207.50 89.43 L208.00 89.43 L208.50 89.44 L209.00 89.44 L209.50 89.44 L210.00 89.45 L210.50 89.45 L211.00 89.45 L211.50 89.45 L212.00 89.46 L212.50 89.46 L213.00 89.46 L213.50 89.46 L214.00 89.47 L214.50 89.47 L215.00 89.47 L215.50 89.47 L216.00 89.47 L216.50 89.48 L217.00 89.48 L217.50 89.48 L218.00 89.48 L218.50 89.48 L219.00 89.49 L219.50 89.49 L220.00 89.49 L220.50 89.49 L221.00 89.49 L221.50 89.49 L222.00 89.49 L222.50 89.49 L223.00 89.50 L223.50 89.50 L224.00 89.50 L224.50 89.50 L225.00 89.50 L225.50 89.50 L226.00 89.50" fill="none" stroke="#E0A526" stroke-width="3.2" stroke-linejoin="round" stroke-linecap="round"/>
<path d="M31.00 83.50 L32.00 83.49 L33.00 83.49 L34.00 83.48 L35.00 83.47 L36.00 83.46 L37.00 83.46 L38.00 83.45 L39.00 83.45 L40.00 83.44 L41.00 83.43 L42.00 83.43 L43.00 83.42 L44.00 83.41 L45.00 83.40 L46.00 83.40 L47.00 83.39 L48.00 83.38 L49.00 83.36 L50.00 83.35 L51.00 83.33 L52.00 83.32 L53.00 83.30 L54.00 83.28 L55.00 83.25 L56.00 83.22 L57.00 83.19 L58.00 83.15 L59.00 83.11 L60.00 83.06 L61.00 83.00 L62.00 82.94 L63.00 82.87 L64.00 82.78 L65.00 82.69 L66.00 82.57 L67.00 82.44 L68.00 82.27 L69.00 82.08 L70.00 81.84 L71.00 81.54 L72.00 81.17 L73.00 80.71 L74.00 80.14 L75.00 79.42 L76.00 78.53 L77.00 77.44 L78.00 76.13 L79.00 74.58 L80.00 72.77 L81.00 70.70 L82.00 68.40 L83.00 65.91 L84.00 63.31 L85.00 60.72 L86.00 58.33 L87.00 56.37 L88.00 55.07 L89.00 54.62 L90.00 55.10 L91.00 56.44 L92.00 58.44 L93.00 60.86 L94.00 63.48 L95.00 66.11 L96.00 68.64 L97.00 70.97 L98.00 73.07 L99.00 74.91 L100.00 76.49 L101.00 77.83 L102.00 78.95 L103.00 79.87 L104.00 80.61 L105.00 81.22 L106.00 81.70 L107.00 82.10 L108.00 82.42 L109.00 82.68 L110.00 82.92 L111.00 83.13 L112.00 83.33 L113.00 83.52 L114.00 83.70 L115.00 83.87 L116.00 84.04 L117.00 84.21 L118.00 84.38 L119.00 84.55 L120.00 84.71 L121.00 84.88 L122.00 85.04 L123.00 85.21 L124.00 85.37 L125.00 85.54 L126.00 85.70 L127.00 85.86 L128.00 86.03 L129.00 86.18 L130.00 86.34 L131.00 86.50 L132.00 86.65 L133.00 86.80 L134.00 86.94 L135.00 87.08 L136.00 87.22 L137.00 87.35 L138.00 87.47 L139.00 87.59 L140.00 87.70 L141.00 87.81 L142.00 87.90 L143.00 87.99 L144.00 88.07 L145.00 88.14 L146.00 88.20 L147.00 88.25 L148.00 88.29 L149.00 88.32 L150.00 88.33 L151.00 88.34 L152.00 88.35 L153.00 88.36 L154.00 88.36 L155.00 88.37 L156.00 88.38 L157.00 88.39 L158.00 88.40 L159.00 88.41 L160.00 88.42 L161.00 88.43 L162.00 88.44 L163.00 88.45 L164.00 88.45 L165.00 88.46 L166.00 88.47 L167.00 88.48 L168.00 88.49 L169.00 88.50 L170.00 88.51 L171.00 88.52 L172.00 88.53 L173.00 88.54 L174.00 88.55 L175.00 88.56 L176.00 88.57 L177.00 88.58 L178.00 88.59 L179.00 88.60 L180.00 88.61 L181.00 88.62 L182.00 88.63 L183.00 88.64 L184.00 88.65 L185.00 88.66 L186.00 88.67 L187.00 88.68 L188.00 88.69 L189.00 88.70 L190.00 88.71 L191.00 88.72 L192.00 88.73 L193.00 88.74 L194.00 88.75 L195.00 88.76 L196.00 88.76 L197.00 88.77 L198.00 88.78 L199.00 88.79 L200.00 88.80 L201.00 88.81 L202.00 88.82 L203.00 88.82 L204.00 88.83 L205.00 88.84 L206.00 88.85 L207.00 88.86 L208.00 88.86 L209.00 88.87 L210.00 88.88 L211.00 88.88 L212.00 88.89 L213.00 88.90 L214.00 88.90 L215.00 88.91 L216.00 88.91 L217.00 88.92 L218.00 88.92 L219.00 88.93 L220.00 88.93 L221.00 88.93 L222.00 88.94 L223.00 88.94 L224.00 88.94 L225.00 88.94 L226.00 88.95" fill="none" stroke="#1E9AE6" stroke-width="1.8" stroke-linejoin="round" stroke-linecap="round"/>
<path d="M31.00 83.76 L32.00 83.76 L33.00 83.76 L34.00 83.76 L35.00 83.76 L36.00 83.76 L37.00 83.77 L38.00 83.77 L39.00 83.78 L40.00 83.78 L41.00 83.79 L42.00 83.80 L43.00 83.80 L44.00 83.81 L45.00 83.82 L46.00 83.83 L47.00 83.84 L48.00 83.84 L49.00 83.85 L50.00 83.86 L51.00 83.86 L52.00 83.87 L53.00 83.87 L54.00 83.87 L55.00 83.87 L56.00 83.87 L57.00 83.87 L58.00 83.85 L59.00 83.84 L60.00 83.81 L61.00 83.78 L62.00 83.73 L63.00 83.66 L64.00 83.54 L65.00 83.36 L66.00 83.08 L67.00 82.62 L68.00 81.93 L69.00 80.94 L70.00 79.63 L71.00 78.05 L72.00 76.35 L73.00 74.86 L74.00 74.06 L75.00 74.30 L76.00 75.48 L77.00 77.15 L78.00 78.87 L79.00 80.40 L80.00 81.63 L81.00 82.54 L82.00 83.17 L83.00 83.60 L84.00 83.88 L85.00 84.07 L86.00 84.20 L87.00 84.31 L88.00 84.39 L89.00 84.46 L90.00 84.52 L91.00 84.57 L92.00 84.61 L93.00 84.65 L94.00 84.69 L95.00 84.72 L96.00 84.75 L97.00 84.78 L98.00 84.80 L99.00 84.82 L100.00 84.84 L101.00 84.86 L102.00 84.87 L103.00 84.89 L104.00 84.90 L105.00 84.91 L106.00 84.92 L107.00 84.92 L108.00 84.93 L109.00 84.94 L110.00 84.96 L111.00 84.99 L112.00 85.03 L113.00 85.09 L114.00 85.15 L115.00 85.22 L116.00 85.29 L117.00 85.38 L118.00 85.47 L119.00 85.57 L120.00 85.67 L121.00 85.78 L122.00 85.90 L123.00 86.01 L124.00 86.14 L125.00 86.26 L126.00 86.39 L127.00 86.51 L128.00 86.64 L129.00 86.77 L130.00 86.90 L131.00 87.03 L132.00 87.16 L133.00 87.28 L134.00 87.41 L135.00 87.53 L136.00 87.64 L137.00 87.76 L138.00 87.87 L139.00 87.97 L140.00 88.07 L141.00 88.16 L142.00 88.24 L143.00 88.32 L144.00 88.38 L145.00 88.44 L146.00 88.49 L147.00 88.53 L148.00 88.56 L149.00 88.58 L150.00 88.59 L151.00 88.59 L152.00 88.59 L153.00 88.59 L154.00 88.59 L155.00 88.59 L156.00 88.59 L157.00 88.60 L158.00 88.60 L159.00 88.60 L160.00 88.61 L161.00 88.61 L162.00 88.61 L163.00 88.62 L164.00 88.62 L165.00 88.63 L166.00 88.63 L167.00 88.64 L168.00 88.64 L169.00 88.65 L170.00 88.66 L171.00 88.66 L172.00 88.67 L173.00 88.68 L174.00 88.68 L175.00 88.69 L176.00 88.70 L177.00 88.70 L178.00 88.71 L179.00 88.72 L180.00 88.72 L181.00 88.73 L182.00 88.74 L183.00 88.75 L184.00 88.75 L185.00 88.76 L186.00 88.77 L187.00 88.78 L188.00 88.79 L189.00 88.79 L190.00 88.80 L191.00 88.81 L192.00 88.82 L193.00 88.82 L194.00 88.83 L195.00 88.84 L196.00 88.85 L197.00 88.86 L198.00 88.86 L199.00 88.87 L200.00 88.88 L201.00 88.88 L202.00 88.89 L203.00 88.90 L204.00 88.90 L205.00 88.91 L206.00 88.92 L207.00 88.92 L208.00 88.93 L209.00 88.94 L210.00 88.94 L211.00 88.95 L212.00 88.95 L213.00 88.96 L214.00 88.96 L215.00 88.97 L216.00 88.97 L217.00 88.97 L218.00 88.98 L219.00 88.98 L220.00 88.98 L221.00 88.99 L222.00 88.99 L223.00 88.99 L224.00 88.99 L225.00 88.99 L226.00 89.00" fill="none" stroke="#E0A526" stroke-width="1.8" stroke-linejoin="round" stroke-linecap="round"/>
<path d="M31.00 83.10 L31.50 83.09 L32.00 83.08 L32.50 83.07 L33.00 83.06 L33.50 83.05 L34.00 83.04 L34.50 83.04 L35.00 83.03 L35.50 83.02 L36.00 83.01 L36.50 83.00 L37.00 82.99 L37.50 82.98 L38.00 82.97 L38.50 82.96 L39.00 82.96 L39.50 82.95 L40.00 82.94 L40.50 82.93 L41.00 82.92 L41.50 82.91 L42.00 82.90 L42.50 82.89 L43.00 82.87 L43.50 82.86 L44.00 82.85 L44.50 82.84 L45.00 82.83 L45.50 82.81 L46.00 82.80 L46.50 82.78 L47.00 82.77 L47.50 82.75 L48.00 82.73 L48.50 82.71 L49.00 82.69 L49.50 82.66 L50.00 82.64 L50.50 82.61 L51.00 82.58 L51.50 82.54 L52.00 82.50 L52.50 82.45 L53.00 82.40 L53.50 82.35 L54.00 82.29 L54.50 82.22 L55.00 82.14 L55.50 82.06 L56.00 81.96 L56.50 81.86 L57.00 81.75 L57.50 81.63 L58.00 81.50 L58.50 81.36 L59.00 81.21 L59.50 81.06 L60.00 80.89 L60.50 80.72 L61.00 80.54 L61.50 80.35 L62.00 80.16 L62.50 79.97 L63.00 79.76 L63.50 79.56 L64.00 79.34 L64.50 79.11 L65.00 78.87 L65.50 78.61 L66.00 78.33 L66.50 78.01 L67.00 77.65 L67.50 77.23 L68.00 76.76 L68.50 76.20 L69.00 75.57 L69.50 74.84 L70.00 74.02 L70.50 73.12 L71.00 72.12 L71.50 71.07 L72.00 69.97 L72.50 68.87 L73.00 67.82 L73.50 66.88 L74.00 66.09 L74.50 65.48 L75.00 65.06 L75.50 64.80 L76.00 64.63 L76.50 64.50 L77.00 64.35 L77.50 64.14 L78.00 63.85 L78.50 63.46 L79.00 62.97 L79.50 62.39 L80.00 61.72 L80.50 60.98 L81.00 60.18 L81.50 59.35 L82.00 58.49 L82.50 57.63 L83.00 56.76 L83.50 55.91 L84.00 55.08 L84.50 54.28 L85.00 53.52 L85.50 52.82 L86.00 52.19 L86.50 51.65 L87.00 51.22 L87.50 50.91 L88.00 50.76 L88.50 50.79 L89.00 50.99 L89.50 51.38 L90.00 51.95 L90.50 52.70 L91.00 53.59 L91.50 54.62 L92.00 55.76 L92.50 56.97 L93.00 58.23 L93.50 59.52 L94.00 60.82 L94.50 62.11 L95.00 63.37 L95.50 64.59 L96.00 65.76 L96.50 66.87 L97.00 67.93 L97.50 68.91 L98.00 69.83 L98.50 70.68 L99.00 71.45 L99.50 72.16 L100.00 72.80 L100.50 73.36 L101.00 73.87 L101.50 74.31 L102.00 74.70 L102.50 75.03 L103.00 75.31 L103.50 75.54 L104.00 75.73 L104.50 75.88 L105.00 75.99 L105.50 76.08 L106.00 76.13 L106.50 76.15 L107.00 76.15 L107.50 76.12 L108.00 76.07 L108.50 76.00 L109.00 75.92 L109.50 75.82 L110.00 75.71 L110.50 75.57 L111.00 75.42 L111.50 75.25 L112.00 75.06 L112.50 74.85 L113.00 74.62 L113.50 74.36 L114.00 74.06 L114.50 73.74 L115.00 73.38 L115.50 72.99 L116.00 72.55 L116.50 72.07 L117.00 71.53 L117.50 70.95 L118.00 70.31 L118.50 69.61 L119.00 68.85 L119.50 68.02 L120.00 67.13 L120.50 66.16 L121.00 65.13 L121.50 64.01 L122.00 62.82 L122.50 61.55 L123.00 60.21 L123.50 58.79 L124.00 57.29 L124.50 55.71 L125.00 54.07 L125.50 52.35 L126.00 50.58 L126.50 48.74 L127.00 46.86 L127.50 44.94 L128.00 42.98 L128.50 41.01 L129.00 39.04 L129.50 37.08 L130.00 35.16 L130.50 33.29 L131.00 31.50 L131.50 29.81 L132.00 28.25 L132.50 26.85 L133.00 25.63 L133.50 24.61 L134.00 23.82 L134.50 23.28 L135.00 23.00 L135.50 22.99 L136.00 23.25 L136.50 23.78 L137.00 24.55 L137.50 25.57 L138.00 26.81 L138.50 28.25 L139.00 29.86 L139.50 31.61 L140.00 33.48 L140.50 35.45 L141.00 37.48 L141.50 39.56 L142.00 41.66 L142.50 43.77 L143.00 45.88 L143.50 47.96 L144.00 50.00 L144.50 52.01 L145.00 53.96 L145.50 55.85 L146.00 57.68 L146.50 59.43 L147.00 61.12 L147.50 62.73 L148.00 64.26 L148.50 65.71 L149.00 67.09 L149.50 68.39 L150.00 69.61 L150.50 70.76 L151.00 71.84 L151.50 72.85 L152.00 73.80 L152.50 74.68 L153.00 75.51 L153.50 76.27 L154.00 76.98 L154.50 77.64 L155.00 78.25 L155.50 78.82 L156.00 79.35 L156.50 79.83 L157.00 80.28 L157.50 80.70 L158.00 81.08 L158.50 81.43 L159.00 81.76 L159.50 82.07 L160.00 82.35 L160.50 82.61 L161.00 82.86 L161.50 83.09 L162.00 83.30 L162.50 83.50 L163.00 83.68 L163.50 83.86 L164.00 84.02 L164.50 84.18 L165.00 84.32 L165.50 84.46 L166.00 84.59 L166.50 84.71 L167.00 84.83 L167.50 84.95 L168.00 85.05 L168.50 85.15 L169.00 85.25 L169.50 85.35 L170.00 85.44 L170.50 85.52 L171.00 85.61 L171.50 85.69 L172.00 85.76 L172.50 85.84 L173.00 85.91 L173.50 85.98 L174.00 86.05 L174.50 86.11 L175.00 86.17 L175.50 86.23 L176.00 86.29 L176.50 86.35 L177.00 86.40 L177.50 86.46 L178.00 86.51 L178.50 86.56 L179.00 86.61 L179.50 86.66 L180.00 86.70 L180.50 86.75 L181.00 86.79 L181.50 86.83 L182.00 86.87 L182.50 86.91 L183.00 86.95 L183.50 86.99 L184.00 87.03 L184.50 87.07 L185.00 87.10 L185.50 87.14 L186.00 87.17 L186.50 87.20 L187.00 87.23 L187.50 87.27 L188.00 87.30 L188.50 87.33 L189.00 87.36 L189.50 87.38 L190.00 87.41 L190.50 87.44 L191.00 87.47 L191.50 87.49 L192.00 87.52 L192.50 87.54 L193.00 87.57 L193.50 87.59 L194.00 87.62 L194.50 87.64 L195.00 87.66 L195.50 87.68 L196.00 87.71 L196.50 87.73 L197.00 87.75 L197.50 87.77 L198.00 87.79 L198.50 87.81 L199.00 87.83 L199.50 87.85 L200.00 87.86 L200.50 87.88 L201.00 87.90 L201.50 87.92 L202.00 87.94 L202.50 87.95 L203.00 87.97 L203.50 87.99 L204.00 88.00 L204.50 88.02 L205.00 88.03 L205.50 88.05 L206.00 88.06 L206.50 88.08 L207.00 88.09 L207.50 88.10 L208.00 88.12 L208.50 88.13 L209.00 88.14 L209.50 88.16 L210.00 88.17 L210.50 88.18 L211.00 88.20 L211.50 88.21 L212.00 88.22 L212.50 88.23 L213.00 88.24 L213.50 88.25 L214.00 88.26 L214.50 88.27 L215.00 88.28 L215.50 88.29 L216.00 88.30 L216.50 88.31 L217.00 88.32 L217.50 88.33 L218.00 88.34 L218.50 88.35 L219.00 88.36 L219.50 88.37 L220.00 88.38 L220.50 88.39 L221.00 88.39 L221.50 88.40 L222.00 88.41 L222.50 88.42 L223.00 88.42 L223.50 88.43 L224.00 88.44 L224.50 88.44 L225.00 88.45 L225.50 88.46 L226.00 88.46" fill="none" stroke="#6E3B3B" stroke-width="1.7" stroke-linejoin="round" stroke-linecap="round"/>
<path d="M31.00 83.14 L31.50 83.13 L32.00 83.13 L32.50 83.12 L33.00 83.11 L33.50 83.10 L34.00 83.09 L34.50 83.08 L35.00 83.08 L35.50 83.07 L36.00 83.06 L36.50 83.05 L37.00 83.04 L37.50 83.03 L38.00 83.03 L38.50 83.02 L39.00 83.01 L39.50 83.00 L40.00 82.99 L40.50 82.98 L41.00 82.97 L41.50 82.96 L42.00 82.95 L42.50 82.94 L43.00 82.93 L43.50 82.92 L44.00 82.91 L44.50 82.90 L45.00 82.89 L45.50 82.87 L46.00 82.86 L46.50 82.84 L47.00 82.83 L47.50 82.81 L48.00 82.79 L48.50 82.77 L49.00 82.75 L49.50 82.73 L50.00 82.70 L50.50 82.67 L51.00 82.64 L51.50 82.61 L52.00 82.57 L52.50 82.52 L53.00 82.48 L53.50 82.42 L54.00 82.36 L54.50 82.29 L55.00 82.22 L55.50 82.13 L56.00 82.04 L56.50 81.94 L57.00 81.83 L57.50 81.71 L58.00 81.58 L58.50 81.44 L59.00 81.29 L59.50 81.14 L60.00 80.97 L60.50 80.80 L61.00 80.62 L61.50 80.44 L62.00 80.25 L62.50 80.05 L63.00 79.85 L63.50 79.65 L64.00 79.43 L64.50 79.21 L65.00 78.97 L65.50 78.72 L66.00 78.44 L66.50 78.12 L67.00 77.77 L67.50 77.37 L68.00 76.90 L68.50 76.37 L69.00 75.76 L69.50 75.08 L70.00 74.31 L70.50 73.47 L71.00 72.57 L71.50 71.62 L72.00 70.66 L72.50 69.73 L73.00 68.89 L73.50 68.18 L74.00 67.68 L74.50 67.41 L75.00 67.36 L75.50 67.51 L76.00 67.78 L76.50 68.13 L77.00 68.48 L77.50 68.77 L78.00 68.97 L78.50 69.06 L79.00 69.00 L79.50 68.80 L80.00 68.44 L80.50 67.94 L81.00 67.29 L81.50 66.50 L82.00 65.60 L82.50 64.59 L83.00 63.50 L83.50 62.34 L84.00 61.13 L84.50 59.90 L85.00 58.68 L85.50 57.49 L86.00 56.36 L86.50 55.33 L87.00 54.43 L87.50 53.68 L88.00 53.12 L88.50 52.78 L89.00 52.66 L89.50 52.77 L90.00 53.10 L90.50 53.64 L91.00 54.38 L91.50 55.28 L92.00 56.31 L92.50 57.44 L93.00 58.64 L93.50 59.88 L94.00 61.15 L94.50 62.41 L95.00 63.66 L95.50 64.87 L96.00 66.04 L96.50 67.15 L97.00 68.21 L97.50 69.19 L98.00 70.12 L98.50 70.97 L99.00 71.75 L99.50 72.46 L100.00 73.10 L100.50 73.68 L101.00 74.19 L101.50 74.64 L102.00 75.04 L102.50 75.38 L103.00 75.67 L103.50 75.91 L104.00 76.11 L104.50 76.27 L105.00 76.40 L105.50 76.49 L106.00 76.55 L106.50 76.59 L107.00 76.61 L107.50 76.60 L108.00 76.57 L108.50 76.52 L109.00 76.46 L109.50 76.39 L110.00 76.30 L110.50 76.19 L111.00 76.07 L111.50 75.93 L112.00 75.78 L112.50 75.60 L113.00 75.40 L113.50 75.18 L114.00 74.93 L114.50 74.64 L115.00 74.33 L115.50 73.97 L116.00 73.57 L116.50 73.13 L117.00 72.64 L117.50 72.09 L118.00 71.49 L118.50 70.82 L119.00 70.09 L119.50 69.28 L120.00 68.41 L120.50 67.45 L121.00 66.42 L121.50 65.30 L122.00 64.10 L122.50 62.81 L123.00 61.43 L123.50 59.97 L124.00 58.41 L124.50 56.78 L125.00 55.06 L125.50 53.26 L126.00 51.39 L126.50 49.45 L127.00 47.46 L127.50 45.41 L128.00 43.34 L128.50 41.25 L129.00 39.15 L129.50 37.08 L130.00 35.05 L130.50 33.09 L131.00 31.23 L131.50 29.50 L132.00 27.94 L132.50 26.56 L133.00 25.42 L133.50 24.52 L134.00 23.90 L134.50 23.58 L135.00 23.56 L135.50 23.84 L136.00 24.43 L136.50 25.30 L137.00 26.44 L137.50 27.83 L138.00 29.42 L138.50 31.20 L139.00 33.13 L139.50 35.17 L140.00 37.30 L140.50 39.50 L141.00 41.72 L141.50 43.96 L142.00 46.19 L142.50 48.40 L143.00 50.57 L143.50 52.68 L144.00 54.74 L144.50 56.72 L145.00 58.64 L145.50 60.47 L146.00 62.22 L146.50 63.88 L147.00 65.45 L147.50 66.94 L148.00 68.34 L148.50 69.66 L149.00 70.89 L149.50 72.04 L150.00 73.10 L150.50 74.09 L151.00 75.02 L151.50 75.87 L152.00 76.66 L152.50 77.39 L153.00 78.06 L153.50 78.68 L154.00 79.25 L154.50 79.78 L155.00 80.26 L155.50 80.71 L156.00 81.12 L156.50 81.49 L157.00 81.84 L157.50 82.16 L158.00 82.45 L158.50 82.73 L159.00 82.98 L159.50 83.21 L160.00 83.43 L160.50 83.63 L161.00 83.82 L161.50 84.00 L162.00 84.17 L162.50 84.32 L163.00 84.47 L163.50 84.61 L164.00 84.74 L164.50 84.86 L165.00 84.98 L165.50 85.09 L166.00 85.20 L166.50 85.30 L167.00 85.40 L167.50 85.49 L168.00 85.58 L168.50 85.66 L169.00 85.74 L169.50 85.82 L170.00 85.90 L170.50 85.97 L171.00 86.04 L171.50 86.11 L172.00 86.18 L172.50 86.24 L173.00 86.30 L173.50 86.36 L174.00 86.42 L174.50 86.47 L175.00 86.53 L175.50 86.58 L176.00 86.63 L176.50 86.68 L177.00 86.73 L177.50 86.77 L178.00 86.82 L178.50 86.86 L179.00 86.90 L179.50 86.94 L180.00 86.98 L180.50 87.02 L181.00 87.06 L181.50 87.10 L182.00 87.13 L182.50 87.17 L183.00 87.20 L183.50 87.24 L184.00 87.27 L184.50 87.30 L185.00 87.33 L185.50 87.36 L186.00 87.39 L186.50 87.42 L187.00 87.45 L187.50 87.47 L188.00 87.50 L188.50 87.53 L189.00 87.55 L189.50 87.58 L190.00 87.60 L190.50 87.63 L191.00 87.65 L191.50 87.67 L192.00 87.70 L192.50 87.72 L193.00 87.74 L193.50 87.76 L194.00 87.78 L194.50 87.80 L195.00 87.82 L195.50 87.84 L196.00 87.86 L196.50 87.88 L197.00 87.90 L197.50 87.91 L198.00 87.93 L198.50 87.95 L199.00 87.97 L199.50 87.98 L200.00 88.00 L200.50 88.02 L201.00 88.03 L201.50 88.05 L202.00 88.06 L202.50 88.08 L203.00 88.09 L203.50 88.11 L204.00 88.12 L204.50 88.14 L205.00 88.15 L205.50 88.16 L206.00 88.18 L206.50 88.19 L207.00 88.20 L207.50 88.21 L208.00 88.23 L208.50 88.24 L209.00 88.25 L209.50 88.26 L210.00 88.27 L210.50 88.28 L211.00 88.29 L211.50 88.30 L212.00 88.32 L212.50 88.33 L213.00 88.34 L213.50 88.35 L214.00 88.35 L214.50 88.36 L215.00 88.37 L215.50 88.38 L216.00 88.39 L216.50 88.40 L217.00 88.41 L217.50 88.42 L218.00 88.43 L218.50 88.43 L219.00 88.44 L219.50 88.45 L220.00 88.46 L220.50 88.46 L221.00 88.47 L221.50 88.48 L222.00 88.48 L222.50 88.49 L223.00 88.50 L223.50 88.50 L224.00 88.51 L224.50 88.52 L225.00 88.52 L225.50 88.53 L226.00 88.53" fill="none" stroke="#F62A2A" stroke-width="2.1" stroke-linejoin="round" stroke-linecap="round"/>
<path d="M104.00 81.68 L105.00 81.47 L106.00 81.24 L107.00 80.98 L108.00 80.68 L109.00 80.34 L110.00 79.97 L111.00 79.54 L112.00 79.05 L113.00 78.47 L114.00 77.79 L115.00 76.98 L116.00 76.02 L117.00 74.88 L118.00 73.53 L119.00 71.94 L120.00 70.09 L121.00 67.93 L122.00 65.46 L123.00 62.66 L124.00 59.52 L125.00 56.06 L126.00 52.30 L127.00 48.29 L128.00 44.11 L129.00 39.86 L130.00 35.71 L131.00 31.85 L132.00 28.52 L133.00 25.97 L134.00 24.43 L135.00 24.06 L136.00 24.91 L137.00 26.90 L138.00 29.86 L139.00 33.55 L140.00 37.71 L141.00 42.11 L142.00 46.57 L143.00 50.93 L144.00 55.08 L145.00 58.97 L146.00 62.54 L147.00 65.77 L148.00 68.65 L149.00 71.18 L150.00 73.39 L151.00 75.29 L152.00 76.93 L153.00 78.32 L154.00 79.51 L155.00 80.51 L156.00 81.35 L157.00 82.07 L158.00 82.68 L159.00 83.20 L160.00 83.64 L161.00 84.03 L162.00 84.37 L163.00 84.66 L164.00 84.93 L165.00 85.16 L166.00 85.38 L167.00 85.57 L168.00 85.75 L169.00 85.91 L170.00 86.06 L171.00 86.20 L172.00 86.33 L173.00 86.45 L174.00 86.57 L175.00 86.67 L176.00 86.77 L177.00 86.86 L178.00 86.95 L179.00 87.04 L180.00 87.11 L181.00 87.19 L182.00 87.26 L183.00 87.32 L184.00 87.39 L185.00 87.45 L186.00 87.50 L187.00 87.56 L188.00 87.61 L189.00 87.66 L190.00 87.71 L191.00 87.75 L192.00 87.80 L193.00 87.84 L194.00 87.88 L195.00 87.92 L196.00 87.95 L197.00 87.99 L198.00 88.02 L199.00 88.06 L200.00 88.09 L201.00 88.12 L202.00 88.15 L203.00 88.18 L204.00 88.20 L205.00 88.23 L206.00 88.25 L207.00 88.28 L208.00 88.30 L209.00 88.32 L210.00 88.35 L211.00 88.37 L212.00 88.39 L213.00 88.41 L214.00 88.42 L215.00 88.44 L216.00 88.46 L217.00 88.47 L218.00 88.49 L219.00 88.51 L220.00 88.52 L221.00 88.53 L222.00 88.55 L223.00 88.56 L224.00 88.57 L225.00 88.58 L226.00 88.59" fill="none" stroke="#9B30F0" stroke-width="2.0" stroke-linejoin="round" stroke-linecap="round"/>
<path d="M31.00 155.22 L32.00 155.22 L33.00 155.22 L34.00 155.22 L35.00 155.23 L36.00 155.23 L37.00 155.24 L38.00 155.25 L39.00 155.26 L40.00 155.28 L41.00 155.29 L42.00 155.30 L43.00 155.32 L44.00 155.33 L45.00 155.35 L46.00 155.37 L47.00 155.38 L48.00 155.40 L49.00 155.42 L50.00 155.44 L51.00 155.45 L52.00 155.47 L53.00 155.48 L54.00 155.49 L55.00 155.50 L56.00 155.50 L57.00 155.50 L58.00 155.49 L59.00 155.48 L60.00 155.45 L61.00 155.39 L62.00 155.30 L63.00 155.15 L64.00 154.91 L65.00 154.53 L66.00 153.95 L67.00 153.10 L68.00 151.91 L69.00 150.33 L70.00 148.35 L71.00 146.01 L72.00 143.43 L73.00 140.82 L74.00 138.47 L75.00 136.74 L76.00 135.98 L77.00 136.37 L78.00 137.84 L79.00 140.07 L80.00 142.70 L81.00 145.41 L82.00 147.95 L83.00 150.16 L84.00 151.98 L85.00 153.40 L86.00 154.46 L87.00 155.22 L88.00 155.75 L89.00 156.12 L90.00 156.38 L91.00 156.56 L92.00 156.70 L93.00 156.81 L94.00 156.90 L95.00 156.98 L96.00 157.04 L97.00 157.10 L98.00 157.15 L99.00 157.20 L100.00 157.24 L101.00 157.28 L102.00 157.31 L103.00 157.34 L104.00 157.37 L105.00 157.39 L106.00 157.41 L107.00 157.42 L108.00 157.43 L109.00 157.45 L110.00 157.47 L111.00 157.50 L112.00 157.53 L113.00 157.58 L114.00 157.63 L115.00 157.68 L116.00 157.74 L117.00 157.81 L118.00 157.88 L119.00 157.95 L120.00 158.03 L121.00 158.11 L122.00 158.19 L123.00 158.28 L124.00 158.37 L125.00 158.46 L126.00 158.55 L127.00 158.65 L128.00 158.74 L129.00 158.84 L130.00 158.93 L131.00 159.03 L132.00 159.12 L133.00 159.21 L134.00 159.30 L135.00 159.39 L136.00 159.48 L137.00 159.56 L138.00 159.64 L139.00 159.72 L140.00 159.79 L141.00 159.85 L142.00 159.91 L143.00 159.97 L144.00 160.02 L145.00 160.06 L146.00 160.10 L147.00 160.13 L148.00 160.15 L149.00 160.16 L150.00 160.17 L151.00 160.17 L152.00 160.17 L153.00 160.18 L154.00 160.19 L155.00 160.20 L156.00 160.21 L157.00 160.22 L158.00 160.24 L159.00 160.26 L160.00 160.27 L161.00 160.30 L162.00 160.32 L163.00 160.34 L164.00 160.36 L165.00 160.39 L166.00 160.42 L167.00 160.45 L168.00 160.48 L169.00 160.51 L170.00 160.54 L171.00 160.57 L172.00 160.61 L173.00 160.64 L174.00 160.68 L175.00 160.72 L176.00 160.75 L177.00 160.79 L178.00 160.83 L179.00 160.87 L180.00 160.91 L181.00 160.95 L182.00 160.99 L183.00 161.03 L184.00 161.07 L185.00 161.12 L186.00 161.16 L187.00 161.20 L188.00 161.24 L189.00 161.29 L190.00 161.33 L191.00 161.37 L192.00 161.41 L193.00 161.46 L194.00 161.50 L195.00 161.54 L196.00 161.58 L197.00 161.62 L198.00 161.66 L199.00 161.70 L200.00 161.74 L201.00 161.78 L202.00 161.82 L203.00 161.86 L204.00 161.89 L205.00 161.93 L206.00 161.96 L207.00 162.00 L208.00 162.03 L209.00 162.06 L210.00 162.09 L211.00 162.12 L212.00 162.15 L213.00 162.18 L214.00 162.20 L215.00 162.23 L216.00 162.25 L217.00 162.27 L218.00 162.29 L219.00 162.31 L220.00 162.33 L221.00 162.34 L222.00 162.35 L223.00 162.37 L224.00 162.38 L225.00 162.38 L226.00 162.39 L226.00 162.40 L31.00 155.30 Z" fill="url(#g4)" stroke="none"/>
<path d="M31.00 155.15 L32.00 155.14 L33.00 155.14 L34.00 155.15 L35.00 155.15 L36.00 155.16 L37.00 155.16 L38.00 155.17 L39.00 155.18 L40.00 155.19 L41.00 155.21 L42.00 155.22 L43.00 155.23 L44.00 155.25 L45.00 155.27 L46.00 155.28 L47.00 155.30 L48.00 155.32 L49.00 155.34 L50.00 155.36 L51.00 155.38 L52.00 155.40 L53.00 155.42 L54.00 155.44 L55.00 155.46 L56.00 155.47 L57.00 155.49 L58.00 155.51 L59.00 155.52 L60.00 155.54 L61.00 155.55 L62.00 155.55 L63.00 155.56 L64.00 155.56 L65.00 155.56 L66.00 155.56 L67.00 155.54 L68.00 155.53 L69.00 155.50 L70.00 155.47 L71.00 155.42 L72.00 155.36 L73.00 155.28 L74.00 155.17 L75.00 155.02 L76.00 154.83 L77.00 154.58 L78.00 154.24 L79.00 153.80 L80.00 153.23 L81.00 152.50 L82.00 151.58 L83.00 150.45 L84.00 149.09 L85.00 147.51 L86.00 145.70 L87.00 143.70 L88.00 141.57 L89.00 139.40 L90.00 137.33 L91.00 135.53 L92.00 134.20 L93.00 133.54 L94.00 133.65 L95.00 134.51 L96.00 136.00 L97.00 137.92 L98.00 140.08 L99.00 142.30 L100.00 144.46 L101.00 146.48 L102.00 148.29 L103.00 149.88 L104.00 151.24 L105.00 152.37 L106.00 153.30 L107.00 154.04 L108.00 154.62 L109.00 155.09 L110.00 155.46 L111.00 155.77 L112.00 156.02 L113.00 156.23 L114.00 156.42 L115.00 156.59 L116.00 156.75 L117.00 156.90 L118.00 157.04 L119.00 157.18 L120.00 157.31 L121.00 157.44 L122.00 157.57 L123.00 157.70 L124.00 157.83 L125.00 157.95 L126.00 158.07 L127.00 158.20 L128.00 158.32 L129.00 158.44 L130.00 158.55 L131.00 158.67 L132.00 158.78 L133.00 158.89 L134.00 159.00 L135.00 159.10 L136.00 159.20 L137.00 159.29 L138.00 159.39 L139.00 159.47 L140.00 159.55 L141.00 159.63 L142.00 159.70 L143.00 159.76 L144.00 159.82 L145.00 159.87 L146.00 159.92 L147.00 159.95 L148.00 159.98 L149.00 160.00 L150.00 160.01 L151.00 160.02 L152.00 160.03 L153.00 160.04 L154.00 160.05 L155.00 160.07 L156.00 160.08 L157.00 160.10 L158.00 160.12 L159.00 160.14 L160.00 160.16 L161.00 160.19 L162.00 160.21 L163.00 160.24 L164.00 160.27 L165.00 160.29 L166.00 160.32 L167.00 160.36 L168.00 160.39 L169.00 160.42 L170.00 160.46 L171.00 160.49 L172.00 160.53 L173.00 160.57 L174.00 160.60 L175.00 160.64 L176.00 160.68 L177.00 160.72 L178.00 160.76 L179.00 160.80 L180.00 160.85 L181.00 160.89 L182.00 160.93 L183.00 160.97 L184.00 161.02 L185.00 161.06 L186.00 161.10 L187.00 161.15 L188.00 161.19 L189.00 161.23 L190.00 161.28 L191.00 161.32 L192.00 161.36 L193.00 161.41 L194.00 161.45 L195.00 161.49 L196.00 161.54 L197.00 161.58 L198.00 161.62 L199.00 161.66 L200.00 161.70 L201.00 161.74 L202.00 161.78 L203.00 161.82 L204.00 161.85 L205.00 161.89 L206.00 161.93 L207.00 161.96 L208.00 161.99 L209.00 162.03 L210.00 162.06 L211.00 162.09 L212.00 162.12 L213.00 162.14 L214.00 162.17 L215.00 162.20 L216.00 162.22 L217.00 162.24 L218.00 162.26 L219.00 162.28 L220.00 162.30 L221.00 162.31 L222.00 162.33 L223.00 162.34 L224.00 162.35 L225.00 162.36 L226.00 162.36 L226.00 162.40 L31.00 155.30 Z" fill="url(#g5)" stroke="none"/>
<path d="M100.00 154.77 L101.00 154.62 L102.00 154.46 L103.00 154.28 L104.00 154.08 L105.00 153.86 L106.00 153.61 L107.00 153.33 L108.00 153.02 L109.00 152.67 L110.00 152.29 L111.00 151.86 L112.00 151.37 L113.00 150.80 L114.00 150.15 L115.00 149.38 L116.00 148.47 L117.00 147.40 L118.00 146.12 L119.00 144.61 L120.00 142.83 L121.00 140.74 L122.00 138.31 L123.00 135.51 L124.00 132.31 L125.00 128.72 L126.00 124.73 L127.00 120.41 L128.00 115.86 L129.00 111.22 L130.00 106.74 L131.00 102.76 L132.00 99.65 L133.00 97.77 L134.00 97.39 L135.00 98.56 L136.00 101.15 L137.00 104.83 L138.00 109.22 L139.00 113.96 L140.00 118.76 L141.00 123.39 L142.00 127.74 L143.00 131.71 L144.00 135.29 L145.00 138.45 L146.00 141.22 L147.00 143.62 L148.00 145.68 L149.00 147.43 L150.00 148.91 L151.00 150.17 L152.00 151.23 L153.00 152.14 L154.00 152.91 L155.00 153.58 L156.00 154.15 L157.00 154.66 L158.00 155.10 L159.00 155.50 L160.00 155.85 L161.00 156.17 L162.00 156.46 L163.00 156.73 L164.00 156.97 L165.00 157.20 L166.00 157.41 L167.00 157.61 L168.00 157.79 L169.00 157.97 L170.00 158.13 L171.00 158.29 L172.00 158.43 L173.00 158.57 L174.00 158.71 L175.00 158.83 L176.00 158.96 L177.00 159.08 L178.00 159.19 L179.00 159.30 L180.00 159.40 L181.00 159.51 L182.00 159.60 L183.00 159.70 L184.00 159.79 L185.00 159.88 L186.00 159.97 L187.00 160.06 L188.00 160.14 L189.00 160.22 L190.00 160.30 L191.00 160.38 L192.00 160.46 L193.00 160.53 L194.00 160.60 L195.00 160.67 L196.00 160.74 L197.00 160.81 L198.00 160.87 L199.00 160.94 L200.00 161.00 L201.00 161.06 L202.00 161.12 L203.00 161.18 L204.00 161.23 L205.00 161.29 L206.00 161.34 L207.00 161.39 L208.00 161.44 L209.00 161.49 L210.00 161.53 L211.00 161.58 L212.00 161.62 L213.00 161.66 L214.00 161.70 L215.00 161.73 L216.00 161.77 L217.00 161.80 L218.00 161.83 L219.00 161.86 L220.00 161.89 L221.00 161.91 L222.00 161.94 L223.00 161.96 L224.00 161.97 L225.00 161.99 L226.00 162.00 L226.00 162.40 L100.00 157.53 Z" fill="url(#g6)" stroke="none"/>
<path d="M31.00 156.30 L31.50 156.30 L32.00 156.30 L32.50 156.31 L33.00 156.31 L33.50 156.31 L34.00 156.32 L34.50 156.32 L35.00 156.33 L35.50 156.33 L36.00 156.34 L36.50 156.35 L37.00 156.35 L37.50 156.36 L38.00 156.37 L38.50 156.38 L39.00 156.38 L39.50 156.39 L40.00 156.40 L40.50 156.41 L41.00 156.42 L41.50 156.44 L42.00 156.45 L42.50 156.46 L43.00 156.47 L43.50 156.48 L44.00 156.50 L44.50 156.51 L45.00 156.52 L45.50 156.54 L46.00 156.55 L46.50 156.57 L47.00 156.58 L47.50 156.60 L48.00 156.61 L48.50 156.63 L49.00 156.64 L49.50 156.66 L50.00 156.68 L50.50 156.69 L51.00 156.71 L51.50 156.73 L52.00 156.75 L52.50 156.76 L53.00 156.78 L53.50 156.80 L54.00 156.82 L54.50 156.84 L55.00 156.86 L55.50 156.88 L56.00 156.90 L56.50 156.92 L57.00 156.94 L57.50 156.96 L58.00 156.98 L58.50 157.00 L59.00 157.02 L59.50 157.04 L60.00 157.06 L60.50 157.08 L61.00 157.10 L61.50 157.12 L62.00 157.14 L62.50 157.17 L63.00 157.19 L63.50 157.21 L64.00 157.23 L64.50 157.25 L65.00 157.27 L65.50 157.30 L66.00 157.32 L66.50 157.34 L67.00 157.36 L67.50 157.38 L68.00 157.41 L68.50 157.43 L69.00 157.45 L69.50 157.47 L70.00 157.49 L70.50 157.52 L71.00 157.54 L71.50 157.56 L72.00 157.58 L72.50 157.60 L73.00 157.63 L73.50 157.65 L74.00 157.67 L74.50 157.69 L75.00 157.71 L75.50 157.73 L76.00 157.76 L76.50 157.78 L77.00 157.80 L77.50 157.82 L78.00 157.84 L78.50 157.86 L79.00 157.88 L79.50 157.90 L80.00 157.92 L80.50 157.94 L81.00 157.96 L81.50 157.98 L82.00 158.00 L82.50 158.02 L83.00 158.04 L83.50 158.06 L84.00 158.08 L84.50 158.10 L85.00 158.12 L85.50 158.14 L86.00 158.15 L86.50 158.17 L87.00 158.19 L87.50 158.21 L88.00 158.22 L88.50 158.24 L89.00 158.26 L89.50 158.27 L90.00 158.29 L90.50 158.30 L91.00 158.32 L91.50 158.33 L92.00 158.35 L92.50 158.36 L93.00 158.38 L93.50 158.39 L94.00 158.40 L94.50 158.42 L95.00 158.43 L95.50 158.44 L96.00 158.45 L96.50 158.46 L97.00 158.48 L97.50 158.49 L98.00 158.50 L98.50 158.51 L99.00 158.52 L99.50 158.52 L100.00 158.53 L100.50 158.54 L101.00 158.55 L101.50 158.55 L102.00 158.56 L102.50 158.57 L103.00 158.57 L103.50 158.58 L104.00 158.58 L104.50 158.59 L105.00 158.59 L105.50 158.59 L106.00 158.60 L106.50 158.60 L107.00 158.60 L107.50 158.60 L108.00 158.60 L108.50 158.60 L109.00 158.60 L109.50 158.61 L110.00 158.62 L110.50 158.63 L111.00 158.64 L111.50 158.65 L112.00 158.67 L112.50 158.68 L113.00 158.70 L113.50 158.72 L114.00 158.74 L114.50 158.77 L115.00 158.79 L115.50 158.82 L116.00 158.85 L116.50 158.88 L117.00 158.91 L117.50 158.94 L118.00 158.97 L118.50 159.01 L119.00 159.04 L119.50 159.08 L120.00 159.12 L120.50 159.15 L121.00 159.19 L121.50 159.23 L122.00 159.27 L122.50 159.32 L123.00 159.36 L123.50 159.40 L124.00 159.44 L124.50 159.49 L125.00 159.53 L125.50 159.58 L126.00 159.62 L126.50 159.67 L127.00 159.71 L127.50 159.76 L128.00 159.81 L128.50 159.85 L129.00 159.90 L129.50 159.95 L130.00 159.99 L130.50 160.04 L131.00 160.09 L131.50 160.13 L132.00 160.18 L132.50 160.22 L133.00 160.27 L133.50 160.31 L134.00 160.36 L134.50 160.40 L135.00 160.44 L135.50 160.48 L136.00 160.53 L136.50 160.57 L137.00 160.61 L137.50 160.65 L138.00 160.68 L138.50 160.72 L139.00 160.76 L139.50 160.79 L140.00 160.83 L140.50 160.86 L141.00 160.89 L141.50 160.92 L142.00 160.95 L142.50 160.98 L143.00 161.01 L143.50 161.03 L144.00 161.06 L144.50 161.08 L145.00 161.10 L145.50 161.12 L146.00 161.13 L146.50 161.15 L147.00 161.16 L147.50 161.17 L148.00 161.18 L148.50 161.19 L149.00 161.20 L149.50 161.20 L150.00 161.20 L150.50 161.20 L151.00 161.20 L151.50 161.20 L152.00 161.20 L152.50 161.21 L153.00 161.21 L153.50 161.21 L154.00 161.22 L154.50 161.22 L155.00 161.23 L155.50 161.23 L156.00 161.24 L156.50 161.24 L157.00 161.25 L157.50 161.26 L158.00 161.26 L158.50 161.27 L159.00 161.28 L159.50 161.29 L160.00 161.30 L160.50 161.31 L161.00 161.32 L161.50 161.33 L162.00 161.34 L162.50 161.35 L163.00 161.36 L163.50 161.37 L164.00 161.39 L164.50 161.40 L165.00 161.41 L165.50 161.43 L166.00 161.44 L166.50 161.45 L167.00 161.47 L167.50 161.48 L168.00 161.50 L168.50 161.51 L169.00 161.53 L169.50 161.54 L170.00 161.56 L170.50 161.58 L171.00 161.59 L171.50 161.61 L172.00 161.63 L172.50 161.64 L173.00 161.66 L173.50 161.68 L174.00 161.70 L174.50 161.71 L175.00 161.73 L175.50 161.75 L176.00 161.77 L176.50 161.79 L177.00 161.81 L177.50 161.83 L178.00 161.85 L178.50 161.87 L179.00 161.89 L179.50 161.91 L180.00 161.93 L180.50 161.95 L181.00 161.97 L181.50 161.99 L182.00 162.01 L182.50 162.03 L183.00 162.05 L183.50 162.07 L184.00 162.09 L184.50 162.11 L185.00 162.13 L185.50 162.15 L186.00 162.17 L186.50 162.19 L187.00 162.22 L187.50 162.24 L188.00 162.26 L188.50 162.28 L189.00 162.30 L189.50 162.32 L190.00 162.34 L190.50 162.36 L191.00 162.38 L191.50 162.41 L192.00 162.43 L192.50 162.45 L193.00 162.47 L193.50 162.49 L194.00 162.51 L194.50 162.53 L195.00 162.55 L195.50 162.57 L196.00 162.59 L196.50 162.61 L197.00 162.63 L197.50 162.65 L198.00 162.67 L198.50 162.69 L199.00 162.71 L199.50 162.73 L200.00 162.75 L200.50 162.77 L201.00 162.79 L201.50 162.81 L202.00 162.83 L202.50 162.85 L203.00 162.87 L203.50 162.89 L204.00 162.90 L204.50 162.92 L205.00 162.94 L205.50 162.96 L206.00 162.97 L206.50 162.99 L207.00 163.01 L207.50 163.02 L208.00 163.04 L208.50 163.06 L209.00 163.07 L209.50 163.09 L210.00 163.10 L210.50 163.12 L211.00 163.13 L211.50 163.15 L212.00 163.16 L212.50 163.17 L213.00 163.19 L213.50 163.20 L214.00 163.21 L214.50 163.23 L215.00 163.24 L215.50 163.25 L216.00 163.26 L216.50 163.27 L217.00 163.28 L217.50 163.29 L218.00 163.30 L218.50 163.31 L219.00 163.32 L219.50 163.33 L220.00 163.34 L220.50 163.34 L221.00 163.35 L221.50 163.36 L222.00 163.36 L222.50 163.37 L223.00 163.37 L223.50 163.38 L224.00 163.38 L224.50 163.39 L225.00 163.39 L225.50 163.39 L226.00 163.40" fill="none" stroke="#E0A526" stroke-width="3.2" stroke-linejoin="round" stroke-linecap="round"/>
<path d="M31.00 155.15 L32.00 155.14 L33.00 155.14 L34.00 155.15 L35.00 155.15 L36.00 155.16 L37.00 155.16 L38.00 155.17 L39.00 155.18 L40.00 155.19 L41.00 155.21 L42.00 155.22 L43.00 155.23 L44.00 155.25 L45.00 155.27 L46.00 155.28 L47.00 155.30 L48.00 155.32 L49.00 155.34 L50.00 155.36 L51.00 155.38 L52.00 155.40 L53.00 155.42 L54.00 155.44 L55.00 155.46 L56.00 155.47 L57.00 155.49 L58.00 155.51 L59.00 155.52 L60.00 155.54 L61.00 155.55 L62.00 155.55 L63.00 155.56 L64.00 155.56 L65.00 155.56 L66.00 155.56 L67.00 155.54 L68.00 155.53 L69.00 155.50 L70.00 155.47 L71.00 155.42 L72.00 155.36 L73.00 155.28 L74.00 155.17 L75.00 155.02 L76.00 154.83 L77.00 154.58 L78.00 154.24 L79.00 153.80 L80.00 153.23 L81.00 152.50 L82.00 151.58 L83.00 150.45 L84.00 149.09 L85.00 147.51 L86.00 145.70 L87.00 143.70 L88.00 141.57 L89.00 139.40 L90.00 137.33 L91.00 135.53 L92.00 134.20 L93.00 133.54 L94.00 133.65 L95.00 134.51 L96.00 136.00 L97.00 137.92 L98.00 140.08 L99.00 142.30 L100.00 144.46 L101.00 146.48 L102.00 148.29 L103.00 149.88 L104.00 151.24 L105.00 152.37 L106.00 153.30 L107.00 154.04 L108.00 154.62 L109.00 155.09 L110.00 155.46 L111.00 155.77 L112.00 156.02 L113.00 156.23 L114.00 156.42 L115.00 156.59 L116.00 156.75 L117.00 156.90 L118.00 157.04 L119.00 157.18 L120.00 157.31 L121.00 157.44 L122.00 157.57 L123.00 157.70 L124.00 157.83 L125.00 157.95 L126.00 158.07 L127.00 158.20 L128.00 158.32 L129.00 158.44 L130.00 158.55 L131.00 158.67 L132.00 158.78 L133.00 158.89 L134.00 159.00 L135.00 159.10 L136.00 159.20 L137.00 159.29 L138.00 159.39 L139.00 159.47 L140.00 159.55 L141.00 159.63 L142.00 159.70 L143.00 159.76 L144.00 159.82 L145.00 159.87 L146.00 159.92 L147.00 159.95 L148.00 159.98 L149.00 160.00 L150.00 160.01 L151.00 160.02 L152.00 160.03 L153.00 160.04 L154.00 160.05 L155.00 160.07 L156.00 160.08 L157.00 160.10 L158.00 160.12 L159.00 160.14 L160.00 160.16 L161.00 160.19 L162.00 160.21 L163.00 160.24 L164.00 160.27 L165.00 160.29 L166.00 160.32 L167.00 160.36 L168.00 160.39 L169.00 160.42 L170.00 160.46 L171.00 160.49 L172.00 160.53 L173.00 160.57 L174.00 160.60 L175.00 160.64 L176.00 160.68 L177.00 160.72 L178.00 160.76 L179.00 160.80 L180.00 160.85 L181.00 160.89 L182.00 160.93 L183.00 160.97 L184.00 161.02 L185.00 161.06 L186.00 161.10 L187.00 161.15 L188.00 161.19 L189.00 161.23 L190.00 161.28 L191.00 161.32 L192.00 161.36 L193.00 161.41 L194.00 161.45 L195.00 161.49 L196.00 161.54 L197.00 161.58 L198.00 161.62 L199.00 161.66 L200.00 161.70 L201.00 161.74 L202.00 161.78 L203.00 161.82 L204.00 161.85 L205.00 161.89 L206.00 161.93 L207.00 161.96 L208.00 161.99 L209.00 162.03 L210.00 162.06 L211.00 162.09 L212.00 162.12 L213.00 162.14 L214.00 162.17 L215.00 162.20 L216.00 162.22 L217.00 162.24 L218.00 162.26 L219.00 162.28 L220.00 162.30 L221.00 162.31 L222.00 162.33 L223.00 162.34 L224.00 162.35 L225.00 162.36 L226.00 162.36" fill="none" stroke="#1E9AE6" stroke-width="1.8" stroke-linejoin="round" stroke-linecap="round"/>
<path d="M31.00 155.22 L32.00 155.22 L33.00 155.22 L34.00 155.22 L35.00 155.23 L36.00 155.23 L37.00 155.24 L38.00 155.25 L39.00 155.26 L40.00 155.28 L41.00 155.29 L42.00 155.30 L43.00 155.32 L44.00 155.33 L45.00 155.35 L46.00 155.37 L47.00 155.38 L48.00 155.40 L49.00 155.42 L50.00 155.44 L51.00 155.45 L52.00 155.47 L53.00 155.48 L54.00 155.49 L55.00 155.50 L56.00 155.50 L57.00 155.50 L58.00 155.49 L59.00 155.48 L60.00 155.45 L61.00 155.39 L62.00 155.30 L63.00 155.15 L64.00 154.91 L65.00 154.53 L66.00 153.95 L67.00 153.10 L68.00 151.91 L69.00 150.33 L70.00 148.35 L71.00 146.01 L72.00 143.43 L73.00 140.82 L74.00 138.47 L75.00 136.74 L76.00 135.98 L77.00 136.37 L78.00 137.84 L79.00 140.07 L80.00 142.70 L81.00 145.41 L82.00 147.95 L83.00 150.16 L84.00 151.98 L85.00 153.40 L86.00 154.46 L87.00 155.22 L88.00 155.75 L89.00 156.12 L90.00 156.38 L91.00 156.56 L92.00 156.70 L93.00 156.81 L94.00 156.90 L95.00 156.98 L96.00 157.04 L97.00 157.10 L98.00 157.15 L99.00 157.20 L100.00 157.24 L101.00 157.28 L102.00 157.31 L103.00 157.34 L104.00 157.37 L105.00 157.39 L106.00 157.41 L107.00 157.42 L108.00 157.43 L109.00 157.45 L110.00 157.47 L111.00 157.50 L112.00 157.53 L113.00 157.58 L114.00 157.63 L115.00 157.68 L116.00 157.74 L117.00 157.81 L118.00 157.88 L119.00 157.95 L120.00 158.03 L121.00 158.11 L122.00 158.19 L123.00 158.28 L124.00 158.37 L125.00 158.46 L126.00 158.55 L127.00 158.65 L128.00 158.74 L129.00 158.84 L130.00 158.93 L131.00 159.03 L132.00 159.12 L133.00 159.21 L134.00 159.30 L135.00 159.39 L136.00 159.48 L137.00 159.56 L138.00 159.64 L139.00 159.72 L140.00 159.79 L141.00 159.85 L142.00 159.91 L143.00 159.97 L144.00 160.02 L145.00 160.06 L146.00 160.10 L147.00 160.13 L148.00 160.15 L149.00 160.16 L150.00 160.17 L151.00 160.17 L152.00 160.17 L153.00 160.18 L154.00 160.19 L155.00 160.20 L156.00 160.21 L157.00 160.22 L158.00 160.24 L159.00 160.26 L160.00 160.27 L161.00 160.30 L162.00 160.32 L163.00 160.34 L164.00 160.36 L165.00 160.39 L166.00 160.42 L167.00 160.45 L168.00 160.48 L169.00 160.51 L170.00 160.54 L171.00 160.57 L172.00 160.61 L173.00 160.64 L174.00 160.68 L175.00 160.72 L176.00 160.75 L177.00 160.79 L178.00 160.83 L179.00 160.87 L180.00 160.91 L181.00 160.95 L182.00 160.99 L183.00 161.03 L184.00 161.07 L185.00 161.12 L186.00 161.16 L187.00 161.20 L188.00 161.24 L189.00 161.29 L190.00 161.33 L191.00 161.37 L192.00 161.41 L193.00 161.46 L194.00 161.50 L195.00 161.54 L196.00 161.58 L197.00 161.62 L198.00 161.66 L199.00 161.70 L200.00 161.74 L201.00 161.78 L202.00 161.82 L203.00 161.86 L204.00 161.89 L205.00 161.93 L206.00 161.96 L207.00 162.00 L208.00 162.03 L209.00 162.06 L210.00 162.09 L211.00 162.12 L212.00 162.15 L213.00 162.18 L214.00 162.20 L215.00 162.23 L216.00 162.25 L217.00 162.27 L218.00 162.29 L219.00 162.31 L220.00 162.33 L221.00 162.34 L222.00 162.35 L223.00 162.37 L224.00 162.38 L225.00 162.38 L226.00 162.39" fill="none" stroke="#E0A526" stroke-width="1.8" stroke-linejoin="round" stroke-linecap="round"/>
<path d="M31.00 154.70 L31.50 154.70 L32.00 154.69 L32.50 154.68 L33.00 154.68 L33.50 154.67 L34.00 154.67 L34.50 154.66 L35.00 154.66 L35.50 154.66 L36.00 154.65 L36.50 154.65 L37.00 154.65 L37.50 154.64 L38.00 154.64 L38.50 154.64 L39.00 154.64 L39.50 154.63 L40.00 154.63 L40.50 154.63 L41.00 154.63 L41.50 154.63 L42.00 154.62 L42.50 154.62 L43.00 154.62 L43.50 154.62 L44.00 154.62 L44.50 154.62 L45.00 154.61 L45.50 154.61 L46.00 154.61 L46.50 154.61 L47.00 154.60 L47.50 154.60 L48.00 154.60 L48.50 154.59 L49.00 154.59 L49.50 154.58 L50.00 154.58 L50.50 154.57 L51.00 154.57 L51.50 154.56 L52.00 154.55 L52.50 154.54 L53.00 154.53 L53.50 154.52 L54.00 154.51 L54.50 154.50 L55.00 154.49 L55.50 154.47 L56.00 154.45 L56.50 154.44 L57.00 154.42 L57.50 154.39 L58.00 154.37 L58.50 154.34 L59.00 154.31 L59.50 154.27 L60.00 154.23 L60.50 154.18 L61.00 154.13 L61.50 154.06 L62.00 153.98 L62.50 153.89 L63.00 153.77 L63.50 153.64 L64.00 153.47 L64.50 153.27 L65.00 153.02 L65.50 152.72 L66.00 152.37 L66.50 151.94 L67.00 151.43 L67.50 150.84 L68.00 150.16 L68.50 149.37 L69.00 148.48 L69.50 147.48 L70.00 146.38 L70.50 145.18 L71.00 143.89 L71.50 142.53 L72.00 141.11 L72.50 139.66 L73.00 138.20 L73.50 136.78 L74.00 135.42 L74.50 134.16 L75.00 133.03 L75.50 132.08 L76.00 131.31 L76.50 130.73 L77.00 130.33 L77.50 130.08 L78.00 129.94 L78.50 129.87 L79.00 129.83 L79.50 129.77 L80.00 129.67 L80.50 129.52 L81.00 129.31 L81.50 129.05 L82.00 128.75 L82.50 128.43 L83.00 128.12 L83.50 127.83 L84.00 127.59 L84.50 127.42 L85.00 127.31 L85.50 127.29 L86.00 127.33 L86.50 127.43 L87.00 127.58 L87.50 127.75 L88.00 127.92 L88.50 128.08 L89.00 128.20 L89.50 128.29 L90.00 128.34 L90.50 128.36 L91.00 128.35 L91.50 128.35 L92.00 128.38 L92.50 128.46 L93.00 128.61 L93.50 128.86 L94.00 129.22 L94.50 129.70 L95.00 130.28 L95.50 130.97 L96.00 131.75 L96.50 132.61 L97.00 133.51 L97.50 134.45 L98.00 135.40 L98.50 136.36 L99.00 137.30 L99.50 138.22 L100.00 139.10 L100.50 139.94 L101.00 140.74 L101.50 141.48 L102.00 142.17 L102.50 142.80 L103.00 143.38 L103.50 143.89 L104.00 144.36 L104.50 144.77 L105.00 145.13 L105.50 145.45 L106.00 145.72 L106.50 145.95 L107.00 146.14 L107.50 146.30 L108.00 146.42 L108.50 146.52 L109.00 146.59 L109.50 146.63 L110.00 146.66 L110.50 146.66 L111.00 146.64 L111.50 146.59 L112.00 146.52 L112.50 146.43 L113.00 146.31 L113.50 146.16 L114.00 145.98 L114.50 145.77 L115.00 145.52 L115.50 145.23 L116.00 144.89 L116.50 144.51 L117.00 144.07 L117.50 143.59 L118.00 143.04 L118.50 142.42 L119.00 141.74 L119.50 140.99 L120.00 140.17 L120.50 139.26 L121.00 138.28 L121.50 137.20 L122.00 136.04 L122.50 134.79 L123.00 133.45 L123.50 132.02 L124.00 130.49 L124.50 128.86 L125.00 127.15 L125.50 125.34 L126.00 123.46 L126.50 121.49 L127.00 119.45 L127.50 117.36 L128.00 115.22 L128.50 113.06 L129.00 110.90 L129.50 108.76 L130.00 106.67 L130.50 104.67 L131.00 102.80 L131.50 101.09 L132.00 99.59 L132.50 98.34 L133.00 97.37 L133.50 96.71 L134.00 96.38 L134.50 96.40 L135.00 96.77 L135.50 97.47 L136.00 98.49 L136.50 99.80 L137.00 101.36 L137.50 103.13 L138.00 105.09 L138.50 107.17 L139.00 109.35 L139.50 111.59 L140.00 113.87 L140.50 116.14 L141.00 118.40 L141.50 120.61 L142.00 122.78 L142.50 124.88 L143.00 126.90 L143.50 128.84 L144.00 130.70 L144.50 132.46 L145.00 134.14 L145.50 135.73 L146.00 137.22 L146.50 138.63 L147.00 139.95 L147.50 141.18 L148.00 142.33 L148.50 143.41 L149.00 144.41 L149.50 145.34 L150.00 146.20 L150.50 146.99 L151.00 147.73 L151.50 148.42 L152.00 149.06 L152.50 149.64 L153.00 150.19 L153.50 150.70 L154.00 151.17 L154.50 151.60 L155.00 152.01 L155.50 152.39 L156.00 152.74 L156.50 153.06 L157.00 153.37 L157.50 153.66 L158.00 153.92 L158.50 154.18 L159.00 154.41 L159.50 154.64 L160.00 154.85 L160.50 155.05 L161.00 155.24 L161.50 155.42 L162.00 155.59 L162.50 155.76 L163.00 155.91 L163.50 156.06 L164.00 156.21 L164.50 156.35 L165.00 156.48 L165.50 156.61 L166.00 156.73 L166.50 156.85 L167.00 156.96 L167.50 157.07 L168.00 157.18 L168.50 157.28 L169.00 157.38 L169.50 157.48 L170.00 157.57 L170.50 157.67 L171.00 157.76 L171.50 157.84 L172.00 157.93 L172.50 158.01 L173.00 158.09 L173.50 158.17 L174.00 158.24 L174.50 158.32 L175.00 158.39 L175.50 158.46 L176.00 158.53 L176.50 158.60 L177.00 158.67 L177.50 158.73 L178.00 158.80 L178.50 158.86 L179.00 158.92 L179.50 158.98 L180.00 159.04 L180.50 159.10 L181.00 159.16 L181.50 159.21 L182.00 159.27 L182.50 159.32 L183.00 159.37 L183.50 159.43 L184.00 159.48 L184.50 159.53 L185.00 159.58 L185.50 159.63 L186.00 159.68 L186.50 159.73 L187.00 159.77 L187.50 159.82 L188.00 159.87 L188.50 159.91 L189.00 159.96 L189.50 160.00 L190.00 160.04 L190.50 160.09 L191.00 160.13 L191.50 160.17 L192.00 160.21 L192.50 160.25 L193.00 160.29 L193.50 160.33 L194.00 160.37 L194.50 160.41 L195.00 160.45 L195.50 160.49 L196.00 160.52 L196.50 160.56 L197.00 160.60 L197.50 160.63 L198.00 160.67 L198.50 160.70 L199.00 160.74 L199.50 160.77 L200.00 160.81 L200.50 160.84 L201.00 160.87 L201.50 160.90 L202.00 160.93 L202.50 160.97 L203.00 161.00 L203.50 161.03 L204.00 161.06 L204.50 161.09 L205.00 161.12 L205.50 161.14 L206.00 161.17 L206.50 161.20 L207.00 161.23 L207.50 161.25 L208.00 161.28 L208.50 161.31 L209.00 161.33 L209.50 161.36 L210.00 161.38 L210.50 161.40 L211.00 161.43 L211.50 161.45 L212.00 161.47 L212.50 161.49 L213.00 161.52 L213.50 161.54 L214.00 161.56 L214.50 161.58 L215.00 161.60 L215.50 161.62 L216.00 161.64 L216.50 161.65 L217.00 161.67 L217.50 161.69 L218.00 161.70 L218.50 161.72 L219.00 161.74 L219.50 161.75 L220.00 161.77 L220.50 161.78 L221.00 161.79 L221.50 161.81 L222.00 161.82 L222.50 161.83 L223.00 161.84 L223.50 161.85 L224.00 161.86 L224.50 161.87 L225.00 161.88 L225.50 161.89 L226.00 161.90" fill="none" stroke="#4A4A4A" stroke-width="1.7" stroke-linejoin="round" stroke-linecap="round"/>
<path d="M31.00 154.75 L31.50 154.74 L32.00 154.74 L32.50 154.73 L33.00 154.73 L33.50 154.72 L34.00 154.72 L34.50 154.71 L35.00 154.71 L35.50 154.71 L36.00 154.70 L36.50 154.70 L37.00 154.70 L37.50 154.70 L38.00 154.69 L38.50 154.69 L39.00 154.69 L39.50 154.69 L40.00 154.69 L40.50 154.68 L41.00 154.68 L41.50 154.68 L42.00 154.68 L42.50 154.68 L43.00 154.68 L43.50 154.68 L44.00 154.68 L44.50 154.67 L45.00 154.67 L45.50 154.67 L46.00 154.67 L46.50 154.67 L47.00 154.67 L47.50 154.66 L48.00 154.66 L48.50 154.66 L49.00 154.65 L49.50 154.65 L50.00 154.65 L50.50 154.64 L51.00 154.64 L51.50 154.63 L52.00 154.62 L52.50 154.61 L53.00 154.61 L53.50 154.60 L54.00 154.59 L54.50 154.57 L55.00 154.56 L55.50 154.55 L56.00 154.53 L56.50 154.51 L57.00 154.49 L57.50 154.47 L58.00 154.45 L58.50 154.42 L59.00 154.39 L59.50 154.35 L60.00 154.31 L60.50 154.27 L61.00 154.21 L61.50 154.15 L62.00 154.07 L62.50 153.98 L63.00 153.87 L63.50 153.73 L64.00 153.56 L64.50 153.36 L65.00 153.12 L65.50 152.82 L66.00 152.47 L66.50 152.04 L67.00 151.54 L67.50 150.95 L68.00 150.27 L68.50 149.48 L69.00 148.60 L69.50 147.60 L70.00 146.51 L70.50 145.33 L71.00 144.06 L71.50 142.72 L72.00 141.35 L72.50 139.95 L73.00 138.58 L73.50 137.26 L74.00 136.05 L74.50 134.98 L75.00 134.10 L75.50 133.45 L76.00 133.07 L76.50 132.97 L77.00 133.13 L77.50 133.55 L78.00 134.18 L78.50 134.98 L79.00 135.89 L79.50 136.87 L80.00 137.87 L80.50 138.84 L81.00 139.76 L81.50 140.58 L82.00 141.29 L82.50 141.86 L83.00 142.28 L83.50 142.54 L84.00 142.65 L84.50 142.59 L85.00 142.38 L85.50 142.01 L86.00 141.51 L86.50 140.88 L87.00 140.15 L87.50 139.32 L88.00 138.41 L88.50 137.45 L89.00 136.46 L89.50 135.46 L90.00 134.48 L90.50 133.54 L91.00 132.67 L91.50 131.91 L92.00 131.27 L92.50 130.79 L93.00 130.48 L93.50 130.35 L94.00 130.41 L94.50 130.64 L95.00 131.05 L95.50 131.60 L96.00 132.28 L96.50 133.06 L97.00 133.91 L97.50 134.82 L98.00 135.75 L98.50 136.69 L99.00 137.63 L99.50 138.55 L100.00 139.43 L100.50 140.28 L101.00 141.08 L101.50 141.83 L102.00 142.52 L102.50 143.16 L103.00 143.74 L103.50 144.27 L104.00 144.75 L104.50 145.17 L105.00 145.54 L105.50 145.87 L106.00 146.15 L106.50 146.39 L107.00 146.60 L107.50 146.77 L108.00 146.91 L108.50 147.02 L109.00 147.10 L109.50 147.17 L110.00 147.21 L110.50 147.23 L111.00 147.23 L111.50 147.21 L112.00 147.17 L112.50 147.10 L113.00 147.01 L113.50 146.88 L114.00 146.73 L114.50 146.55 L115.00 146.33 L115.50 146.07 L116.00 145.77 L116.50 145.41 L117.00 145.01 L117.50 144.55 L118.00 144.03 L118.50 143.44 L119.00 142.78 L119.50 142.05 L120.00 141.23 L120.50 140.33 L121.00 139.35 L121.50 138.27 L122.00 137.09 L122.50 135.82 L123.00 134.44 L123.50 132.95 L124.00 131.37 L124.50 129.67 L125.00 127.87 L125.50 125.98 L126.00 123.98 L126.50 121.90 L127.00 119.73 L127.50 117.51 L128.00 115.23 L128.50 112.94 L129.00 110.64 L129.50 108.39 L130.00 106.21 L130.50 104.16 L131.00 102.26 L131.50 100.59 L132.00 99.18 L132.50 98.08 L133.00 97.33 L133.50 96.96 L134.00 96.97 L134.50 97.38 L135.00 98.17 L135.50 99.31 L136.00 100.77 L136.50 102.51 L137.00 104.47 L137.50 106.61 L138.00 108.88 L138.50 111.23 L139.00 113.63 L139.50 116.05 L140.00 118.44 L140.50 120.79 L141.00 123.09 L141.50 125.31 L142.00 127.44 L142.50 129.49 L143.00 131.43 L143.50 133.27 L144.00 135.01 L144.50 136.65 L145.00 138.19 L145.50 139.63 L146.00 140.97 L146.50 142.22 L147.00 143.38 L147.50 144.45 L148.00 145.44 L148.50 146.36 L149.00 147.20 L149.50 147.98 L150.00 148.69 L150.50 149.35 L151.00 149.95 L151.50 150.51 L152.00 151.03 L152.50 151.50 L153.00 151.94 L153.50 152.34 L154.00 152.72 L154.50 153.07 L155.00 153.39 L155.50 153.69 L156.00 153.97 L156.50 154.24 L157.00 154.48 L157.50 154.71 L158.00 154.93 L158.50 155.14 L159.00 155.33 L159.50 155.51 L160.00 155.69 L160.50 155.85 L161.00 156.01 L161.50 156.16 L162.00 156.31 L162.50 156.45 L163.00 156.58 L163.50 156.71 L164.00 156.83 L164.50 156.95 L165.00 157.06 L165.50 157.17 L166.00 157.27 L166.50 157.38 L167.00 157.47 L167.50 157.57 L168.00 157.66 L168.50 157.75 L169.00 157.84 L169.50 157.92 L170.00 158.01 L170.50 158.09 L171.00 158.17 L171.50 158.24 L172.00 158.32 L172.50 158.39 L173.00 158.46 L173.50 158.53 L174.00 158.60 L174.50 158.66 L175.00 158.73 L175.50 158.79 L176.00 158.85 L176.50 158.91 L177.00 158.97 L177.50 159.03 L178.00 159.09 L178.50 159.14 L179.00 159.20 L179.50 159.25 L180.00 159.31 L180.50 159.36 L181.00 159.41 L181.50 159.46 L182.00 159.51 L182.50 159.56 L183.00 159.61 L183.50 159.66 L184.00 159.70 L184.50 159.75 L185.00 159.80 L185.50 159.84 L186.00 159.89 L186.50 159.93 L187.00 159.97 L187.50 160.02 L188.00 160.06 L188.50 160.10 L189.00 160.14 L189.50 160.18 L190.00 160.22 L190.50 160.26 L191.00 160.30 L191.50 160.34 L192.00 160.38 L192.50 160.42 L193.00 160.46 L193.50 160.49 L194.00 160.53 L194.50 160.57 L195.00 160.60 L195.50 160.64 L196.00 160.67 L196.50 160.71 L197.00 160.74 L197.50 160.77 L198.00 160.81 L198.50 160.84 L199.00 160.87 L199.50 160.90 L200.00 160.93 L200.50 160.97 L201.00 161.00 L201.50 161.03 L202.00 161.06 L202.50 161.09 L203.00 161.11 L203.50 161.14 L204.00 161.17 L204.50 161.20 L205.00 161.23 L205.50 161.25 L206.00 161.28 L206.50 161.31 L207.00 161.33 L207.50 161.36 L208.00 161.38 L208.50 161.41 L209.00 161.43 L209.50 161.45 L210.00 161.48 L210.50 161.50 L211.00 161.52 L211.50 161.54 L212.00 161.56 L212.50 161.59 L213.00 161.61 L213.50 161.63 L214.00 161.65 L214.50 161.66 L215.00 161.68 L215.50 161.70 L216.00 161.72 L216.50 161.74 L217.00 161.75 L217.50 161.77 L218.00 161.78 L218.50 161.80 L219.00 161.81 L219.50 161.83 L220.00 161.84 L220.50 161.85 L221.00 161.87 L221.50 161.88 L222.00 161.89 L222.50 161.90 L223.00 161.91 L223.50 161.92 L224.00 161.93 L224.50 161.94 L225.00 161.95 L225.50 161.95 L226.00 161.96" fill="none" stroke="#F62A2A" stroke-width="2.1" stroke-linejoin="round" stroke-linecap="round"/>
<path d="M104.00 154.08 L105.00 153.86 L106.00 153.61 L107.00 153.33 L108.00 153.02 L109.00 152.67 L110.00 152.29 L111.00 151.86 L112.00 151.37 L113.00 150.80 L114.00 150.15 L115.00 149.38 L116.00 148.47 L117.00 147.40 L118.00 146.12 L119.00 144.61 L120.00 142.83 L121.00 140.74 L122.00 138.31 L123.00 135.51 L124.00 132.31 L125.00 128.72 L126.00 124.73 L127.00 120.41 L128.00 115.86 L129.00 111.22 L130.00 106.74 L131.00 102.76 L132.00 99.65 L133.00 97.77 L134.00 97.39 L135.00 98.56 L136.00 101.15 L137.00 104.83 L138.00 109.22 L139.00 113.96 L140.00 118.76 L141.00 123.39 L142.00 127.74 L143.00 131.71 L144.00 135.29 L145.00 138.45 L146.00 141.22 L147.00 143.62 L148.00 145.68 L149.00 147.43 L150.00 148.91 L151.00 150.17 L152.00 151.23 L153.00 152.14 L154.00 152.91 L155.00 153.58 L156.00 154.15 L157.00 154.66 L158.00 155.10 L159.00 155.50 L160.00 155.85 L161.00 156.17 L162.00 156.46 L163.00 156.73 L164.00 156.97 L165.00 157.20 L166.00 157.41 L167.00 157.61 L168.00 157.79 L169.00 157.97 L170.00 158.13 L171.00 158.29 L172.00 158.43 L173.00 158.57 L174.00 158.71 L175.00 158.83 L176.00 158.96 L177.00 159.08 L178.00 159.19 L179.00 159.30 L180.00 159.40 L181.00 159.51 L182.00 159.60 L183.00 159.70 L184.00 159.79 L185.00 159.88 L186.00 159.97 L187.00 160.06 L188.00 160.14 L189.00 160.22 L190.00 160.30 L191.00 160.38 L192.00 160.46 L193.00 160.53 L194.00 160.60 L195.00 160.67 L196.00 160.74 L197.00 160.81 L198.00 160.87 L199.00 160.94 L200.00 161.00 L201.00 161.06 L202.00 161.12 L203.00 161.18 L204.00 161.23 L205.00 161.29 L206.00 161.34 L207.00 161.39 L208.00 161.44 L209.00 161.49 L210.00 161.53 L211.00 161.58 L212.00 161.62 L213.00 161.66 L214.00 161.70 L215.00 161.73 L216.00 161.77 L217.00 161.80 L218.00 161.83 L219.00 161.86 L220.00 161.89 L221.00 161.91 L222.00 161.94 L223.00 161.96 L224.00 161.97 L225.00 161.99 L226.00 162.00" fill="none" stroke="#9B30F0" stroke-width="2.0" stroke-linejoin="round" stroke-linecap="round"/>
<line x1="76.30" y1="62.00" x2="76.30" y2="146.00" stroke="#000" stroke-width="1.2" stroke-dasharray="2.2,1.6" stroke-linecap="butt"/>
<line x1="93.50" y1="47.00" x2="93.50" y2="141.00" stroke="#FF22FF" stroke-width="1.2" stroke-dasharray="2.2,1.6" stroke-linecap="butt"/>
<line x1="134.80" y1="15.00" x2="134.80" y2="106.00" stroke="#000" stroke-width="1.2" stroke-dasharray="2.2,1.6" stroke-linecap="butt"/>
<line x1="59.50" y1="67.00" x2="67.14" y2="71.03" stroke="#000" stroke-width="1.3" stroke-linecap="butt"/>
<path d="M72.00 73.60 L65.29 73.45 L68.09 68.15 Z" fill="#000"/>
<line x1="63.60" y1="131.00" x2="70.19" y2="134.64" stroke="#000" stroke-width="1.3" stroke-linecap="butt"/>
<path d="M75.00 137.30 L68.30 137.02 L71.20 131.77 Z" fill="#000"/>
<text x="32.70" y="22.20" font-size="13.20" fill="#111" text-anchor="start" font-weight="bold" textLength="15.3" lengthAdjust="spacingAndGlyphs">(a)</text>
<text x="51.80" y="22.20" font-size="13.60" fill="#111" text-anchor="start" font-weight="bold" textLength="27.3" lengthAdjust="spacingAndGlyphs">C 1s</text>
<text x="41.60" y="66.00" font-size="10.60" fill="#111" text-anchor="start" font-weight="bold" textLength="36.4" lengthAdjust="spacingAndGlyphs">288.9eV</text>
<text x="83.60" y="49.40" font-size="10.60" fill="#111" text-anchor="start" font-weight="bold" textLength="39.0" lengthAdjust="spacingAndGlyphs">287.8 eV</text>
<text x="137.80" y="22.30" font-size="10.60" fill="#111" text-anchor="start" font-weight="bold" textLength="39.0" lengthAdjust="spacingAndGlyphs">284.6 eV</text>
<text x="169.70" y="84.40" font-size="10.60" fill="#111" text-anchor="start" font-weight="bold" textLength="56.2" lengthAdjust="spacingAndGlyphs">10SQDs/SP</text>
<text x="38.00" y="130.20" font-size="10.60" fill="#111" text-anchor="start" font-weight="bold" textLength="39.0" lengthAdjust="spacingAndGlyphs">288.7 eV</text>
<text x="43.20" y="141.20" font-size="10.50" fill="#1A1AF0" text-anchor="start" font-weight="bold" textLength="18.8" lengthAdjust="spacingAndGlyphs">C=O</text>
<text x="83.80" y="125.40" font-size="10.60" fill="#111" text-anchor="start" font-weight="bold" textLength="39.4" lengthAdjust="spacingAndGlyphs">287.5 eV</text>
<text x="96.90" y="133.00" font-size="9.90" fill="#1A1AF0" text-anchor="start" font-weight="bold" textLength="24.0" lengthAdjust="spacingAndGlyphs">N-C-N</text>
<text x="139.00" y="101.50" font-size="10.60" fill="#111" text-anchor="start" font-weight="bold" textLength="38.5" lengthAdjust="spacingAndGlyphs">284.6 eV</text>
<text x="145.00" y="110.60" font-size="10.20" fill="#1A1AF0" text-anchor="start" font-weight="bold" textLength="18.8" lengthAdjust="spacingAndGlyphs">C=C</text>
<text x="198.00" y="157.30" font-size="10.60" fill="#111" text-anchor="start" font-weight="bold" textLength="16.4" lengthAdjust="spacingAndGlyphs">SPI</text>
<rect x="337.00" y="10.00" width="199.50" height="160.00" fill="none" stroke="#000" stroke-width="2"/>
<line x1="357.00" y1="171.00" x2="357.00" y2="174.00" stroke="#000" stroke-width="1.5" stroke-linecap="butt"/>
<text x="357.00" y="185.80" font-size="13.00" fill="#111" text-anchor="middle" font-weight="bold">402</text>
<line x1="396.60" y1="171.00" x2="396.60" y2="174.00" stroke="#000" stroke-width="1.5" stroke-linecap="butt"/>
<text x="396.60" y="185.80" font-size="13.00" fill="#111" text-anchor="middle" font-weight="bold">400</text>
<line x1="436.20" y1="171.00" x2="436.20" y2="174.00" stroke="#000" stroke-width="1.5" stroke-linecap="butt"/>
<text x="436.20" y="185.80" font-size="13.00" fill="#111" text-anchor="middle" font-weight="bold">398</text>
<line x1="475.80" y1="171.00" x2="475.80" y2="174.00" stroke="#000" stroke-width="1.5" stroke-linecap="butt"/>
<text x="475.80" y="185.80" font-size="13.00" fill="#111" text-anchor="middle" font-weight="bold">396</text>
<line x1="515.40" y1="171.00" x2="515.40" y2="174.00" stroke="#000" stroke-width="1.5" stroke-linecap="butt"/>
<text x="515.40" y="185.80" font-size="13.00" fill="#111" text-anchor="middle" font-weight="bold">394</text>
<line x1="376.80" y1="171.00" x2="376.80" y2="173.10" stroke="#000" stroke-width="1.5" stroke-linecap="butt"/>
<line x1="416.40" y1="171.00" x2="416.40" y2="173.10" stroke="#000" stroke-width="1.5" stroke-linecap="butt"/>
<line x1="456.00" y1="171.00" x2="456.00" y2="173.10" stroke="#000" stroke-width="1.5" stroke-linecap="butt"/>
<line x1="495.60" y1="171.00" x2="495.60" y2="173.10" stroke="#000" stroke-width="1.5" stroke-linecap="butt"/>
<text x="436.50" y="203.00" font-size="13.30" fill="#111" text-anchor="middle" font-weight="bold" textLength="124.0" lengthAdjust="spacingAndGlyphs">Binding energy(eV)</text>
<text x="328.80" y="85.40" font-size="13.30" fill="#111" text-anchor="middle" font-weight="bold" textLength="86.8" lengthAdjust="spacingAndGlyphs" transform="rotate(-90 328.80 85.40)">Intensity(a.u.)</text>
<path d="M338.00 72.27 L339.00 72.25 L340.00 72.23 L341.00 72.21 L342.00 72.18 L343.00 72.15 L344.00 72.11 L345.00 72.08 L346.00 72.03 L347.00 71.98 L348.00 71.93 L349.00 71.87 L350.00 71.80 L351.00 71.72 L352.00 71.64 L353.00 71.54 L354.00 71.44 L355.00 71.32 L356.00 71.19 L357.00 71.05 L358.00 70.89 L359.00 70.72 L360.00 70.53 L361.00 70.32 L362.00 70.09 L363.00 69.84 L364.00 69.57 L365.00 69.27 L366.00 68.95 L367.00 68.60 L368.00 68.22 L369.00 67.80 L370.00 67.36 L371.00 66.88 L372.00 66.37 L373.00 65.82 L374.00 65.24 L375.00 64.62 L376.00 63.96 L377.00 63.27 L378.00 62.53 L379.00 61.76 L380.00 60.95 L381.00 60.11 L382.00 59.22 L383.00 58.31 L384.00 57.36 L385.00 56.39 L386.00 55.39 L387.00 54.36 L388.00 53.32 L389.00 52.27 L390.00 51.20 L391.00 50.13 L392.00 49.07 L393.00 48.02 L394.00 46.98 L395.00 45.97 L396.00 45.00 L397.00 44.07 L398.00 43.21 L399.00 42.40 L400.00 41.68 L401.00 41.04 L402.00 40.49 L403.00 40.06 L404.00 39.73 L405.00 39.53 L406.00 39.44 L407.00 39.50 L408.00 39.74 L409.00 40.17 L410.00 40.78 L411.00 41.56 L412.00 42.49 L413.00 43.54 L414.00 44.69 L415.00 45.94 L416.00 47.25 L417.00 48.61 L418.00 50.00 L419.00 51.40 L420.00 52.80 L421.00 54.20 L422.00 55.57 L423.00 56.91 L424.00 58.21 L425.00 59.47 L426.00 60.68 L427.00 61.83 L428.00 62.93 L429.00 63.97 L430.00 64.95 L431.00 65.87 L432.00 66.73 L433.00 67.53 L434.00 68.27 L435.00 68.96 L436.00 69.59 L437.00 70.18 L438.00 70.71 L439.00 71.20 L440.00 71.65 L441.00 72.06 L442.00 72.43 L443.00 72.77 L444.00 73.07 L445.00 73.35 L446.00 73.61 L447.00 73.84 L448.00 74.05 L449.00 74.25 L450.00 74.43 L451.00 74.59 L452.00 74.74 L453.00 74.88 L454.00 75.01 L455.00 75.13 L456.00 75.25 L457.00 75.35 L458.00 75.45 L459.00 75.55 L460.00 75.64 L461.00 75.73 L462.00 75.81 L463.00 75.89 L464.00 75.96 L465.00 76.04 L466.00 76.11 L467.00 76.18 L468.00 76.24 L469.00 76.31 L470.00 76.37 L471.00 76.43 L472.00 76.49 L473.00 76.55 L474.00 76.61 L475.00 76.67 L476.00 76.72 L477.00 76.77 L478.00 76.83 L479.00 76.88 L480.00 76.93 L481.00 76.98 L482.00 77.03 L483.00 77.08 L484.00 77.13 L485.00 77.17 L486.00 77.22 L487.00 77.26 L488.00 77.31 L489.00 77.35 L490.00 77.40 L491.00 77.44 L492.00 77.48 L493.00 77.53 L494.00 77.57 L495.00 77.61 L496.00 77.65 L497.00 77.69 L498.00 77.73 L499.00 77.77 L500.00 77.81 L501.00 77.85 L502.00 77.89 L503.00 77.93 L504.00 77.97 L505.00 78.01 L506.00 78.04 L507.00 78.08 L508.00 78.12 L509.00 78.15 L510.00 78.19 L511.00 78.23 L512.00 78.26 L513.00 78.30 L514.00 78.34 L515.00 78.37 L516.00 78.41 L517.00 78.44 L518.00 78.48 L519.00 78.51 L520.00 78.55 L521.00 78.58 L522.00 78.61 L523.00 78.65 L524.00 78.68 L525.00 78.72 L526.00 78.75 L527.00 78.78 L528.00 78.82 L529.00 78.85 L530.00 78.88 L531.00 78.92 L532.00 78.95 L533.00 78.98 L534.00 79.01 L535.00 79.05 L535.00 79.34 L338.00 73.83 Z" fill="url(#g7)" stroke="none"/>
<path d="M338.00 75.13 L338.50 75.14 L339.00 75.16 L339.50 75.17 L340.00 75.18 L340.50 75.20 L341.00 75.21 L341.50 75.23 L342.00 75.24 L342.50 75.25 L343.00 75.27 L343.50 75.28 L344.00 75.30 L344.50 75.31 L345.00 75.32 L345.50 75.34 L346.00 75.35 L346.50 75.37 L347.00 75.38 L347.50 75.39 L348.00 75.41 L348.50 75.42 L349.00 75.44 L349.50 75.45 L350.00 75.46 L350.50 75.48 L351.00 75.49 L351.50 75.51 L352.00 75.52 L352.50 75.53 L353.00 75.55 L353.50 75.56 L354.00 75.58 L354.50 75.59 L355.00 75.60 L355.50 75.62 L356.00 75.63 L356.50 75.65 L357.00 75.66 L357.50 75.67 L358.00 75.69 L358.50 75.70 L359.00 75.72 L359.50 75.73 L360.00 75.74 L360.50 75.76 L361.00 75.77 L361.50 75.79 L362.00 75.80 L362.50 75.81 L363.00 75.83 L363.50 75.84 L364.00 75.86 L364.50 75.87 L365.00 75.88 L365.50 75.90 L366.00 75.91 L366.50 75.93 L367.00 75.94 L367.50 75.95 L368.00 75.97 L368.50 75.98 L369.00 76.00 L369.50 76.01 L370.00 76.02 L370.50 76.04 L371.00 76.05 L371.50 76.07 L372.00 76.08 L372.50 76.09 L373.00 76.11 L373.50 76.12 L374.00 76.14 L374.50 76.15 L375.00 76.16 L375.50 76.18 L376.00 76.19 L376.50 76.21 L377.00 76.22 L377.50 76.23 L378.00 76.25 L378.50 76.26 L379.00 76.28 L379.50 76.29 L380.00 76.30 L380.50 76.32 L381.00 76.33 L381.50 76.35 L382.00 76.36 L382.50 76.37 L383.00 76.39 L383.50 76.40 L384.00 76.42 L384.50 76.43 L385.00 76.44 L385.50 76.46 L386.00 76.47 L386.50 76.49 L387.00 76.50 L387.50 76.51 L388.00 76.53 L388.50 76.54 L389.00 76.56 L389.50 76.57 L390.00 76.58 L390.50 76.60 L391.00 76.61 L391.50 76.63 L392.00 76.64 L392.50 76.65 L393.00 76.67 L393.50 76.68 L394.00 76.70 L394.50 76.71 L395.00 76.72 L395.50 76.74 L396.00 76.75 L396.50 76.77 L397.00 76.78 L397.50 76.79 L398.00 76.81 L398.50 76.82 L399.00 76.84 L399.50 76.85 L400.00 76.86 L400.50 76.88 L401.00 76.89 L401.50 76.91 L402.00 76.92 L402.50 76.93 L403.00 76.95 L403.50 76.96 L404.00 76.98 L404.50 76.99 L405.00 77.00 L405.50 77.02 L406.00 77.03 L406.50 77.05 L407.00 77.06 L407.50 77.07 L408.00 77.09 L408.50 77.10 L409.00 77.12 L409.50 77.13 L410.00 77.14 L410.50 77.16 L411.00 77.17 L411.50 77.19 L412.00 77.20 L412.50 77.21 L413.00 77.23 L413.50 77.24 L414.00 77.26 L414.50 77.27 L415.00 77.28 L415.50 77.30 L416.00 77.31 L416.50 77.33 L417.00 77.34 L417.50 77.35 L418.00 77.37 L418.50 77.38 L419.00 77.40 L419.50 77.41 L420.00 77.42 L420.50 77.44 L421.00 77.45 L421.50 77.47 L422.00 77.48 L422.50 77.49 L423.00 77.51 L423.50 77.52 L424.00 77.54 L424.50 77.55 L425.00 77.56 L425.50 77.58 L426.00 77.59 L426.50 77.61 L427.00 77.62 L427.50 77.63 L428.00 77.65 L428.50 77.66 L429.00 77.68 L429.50 77.69 L430.00 77.70 L430.50 77.72 L431.00 77.73 L431.50 77.75 L432.00 77.76 L432.50 77.77 L433.00 77.79 L433.50 77.80 L434.00 77.82 L434.50 77.83 L435.00 77.84 L435.50 77.86 L436.00 77.87 L436.50 77.89 L437.00 77.90 L437.50 77.91 L438.00 77.93 L438.50 77.94 L439.00 77.96 L439.50 77.97 L440.00 77.98 L440.50 78.00 L441.00 78.01 L441.50 78.03 L442.00 78.04 L442.50 78.05 L443.00 78.07 L443.50 78.08 L444.00 78.10 L444.50 78.11 L445.00 78.12 L445.50 78.14 L446.00 78.15 L446.50 78.17 L447.00 78.18 L447.50 78.19 L448.00 78.21 L448.50 78.22 L449.00 78.24 L449.50 78.25 L450.00 78.26 L450.50 78.28 L451.00 78.29 L451.50 78.31 L452.00 78.32 L452.50 78.33 L453.00 78.35 L453.50 78.36 L454.00 78.38 L454.50 78.39 L455.00 78.40 L455.50 78.42 L456.00 78.43 L456.50 78.45 L457.00 78.46 L457.50 78.47 L458.00 78.49 L458.50 78.50 L459.00 78.52 L459.50 78.53 L460.00 78.54 L460.50 78.56 L461.00 78.57 L461.50 78.59 L462.00 78.60 L462.50 78.61 L463.00 78.63 L463.50 78.64 L464.00 78.66 L464.50 78.67 L465.00 78.68 L465.50 78.70 L466.00 78.71 L466.50 78.73 L467.00 78.74 L467.50 78.75 L468.00 78.77 L468.50 78.78 L469.00 78.80 L469.50 78.81 L470.00 78.82 L470.50 78.84 L471.00 78.85 L471.50 78.87 L472.00 78.88 L472.50 78.89 L473.00 78.91 L473.50 78.92 L474.00 78.94 L474.50 78.95 L475.00 78.96 L475.50 78.98 L476.00 78.99 L476.50 79.01 L477.00 79.02 L477.50 79.03 L478.00 79.05 L478.50 79.06 L479.00 79.08 L479.50 79.09 L480.00 79.10 L480.50 79.12 L481.00 79.13 L481.50 79.15 L482.00 79.16 L482.50 79.17 L483.00 79.19 L483.50 79.20 L484.00 79.22 L484.50 79.23 L485.00 79.24 L485.50 79.26 L486.00 79.27 L486.50 79.29 L487.00 79.30 L487.50 79.31 L488.00 79.33 L488.50 79.34 L489.00 79.36 L489.50 79.37 L490.00 79.38 L490.50 79.40 L491.00 79.41 L491.50 79.43 L492.00 79.44 L492.50 79.45 L493.00 79.47 L493.50 79.48 L494.00 79.50 L494.50 79.51 L495.00 79.52 L495.50 79.54 L496.00 79.55 L496.50 79.57 L497.00 79.58 L497.50 79.59 L498.00 79.61 L498.50 79.62 L499.00 79.64 L499.50 79.65 L500.00 79.66 L500.50 79.68 L501.00 79.69 L501.50 79.71 L502.00 79.72 L502.50 79.73 L503.00 79.75 L503.50 79.76 L504.00 79.78 L504.50 79.79 L505.00 79.80 L505.50 79.82 L506.00 79.83 L506.50 79.85 L507.00 79.86 L507.50 79.87 L508.00 79.89 L508.50 79.90 L509.00 79.92 L509.50 79.93 L510.00 79.94 L510.50 79.96 L511.00 79.97 L511.50 79.99 L512.00 80.00 L512.50 80.01 L513.00 80.03 L513.50 80.04 L514.00 80.06 L514.50 80.07 L515.00 80.08 L515.50 80.10 L516.00 80.11 L516.50 80.13 L517.00 80.14 L517.50 80.15 L518.00 80.17 L518.50 80.18 L519.00 80.20 L519.50 80.21 L520.00 80.22 L520.50 80.24 L521.00 80.25 L521.50 80.27 L522.00 80.28 L522.50 80.29 L523.00 80.31 L523.50 80.32 L524.00 80.34 L524.50 80.35 L525.00 80.36 L525.50 80.38 L526.00 80.39 L526.50 80.41 L527.00 80.42 L527.50 80.43 L528.00 80.45 L528.50 80.46 L529.00 80.48 L529.50 80.49 L530.00 80.50 L530.50 80.52 L531.00 80.53 L531.50 80.55 L532.00 80.56 L532.50 80.57 L533.00 80.59 L533.50 80.60 L534.00 80.62 L534.50 80.63 L535.00 80.64" fill="none" stroke="#2A7FFF" stroke-width="1.6" stroke-linejoin="round" stroke-linecap="round"/>
<path d="M338.00 74.43 L338.50 74.44 L339.00 74.46 L339.50 74.47 L340.00 74.48 L340.50 74.50 L341.00 74.51 L341.50 74.53 L342.00 74.54 L342.50 74.55 L343.00 74.57 L343.50 74.58 L344.00 74.60 L344.50 74.61 L345.00 74.62 L345.50 74.64 L346.00 74.65 L346.50 74.67 L347.00 74.68 L347.50 74.69 L348.00 74.71 L348.50 74.72 L349.00 74.74 L349.50 74.75 L350.00 74.76 L350.50 74.78 L351.00 74.79 L351.50 74.81 L352.00 74.82 L352.50 74.83 L353.00 74.85 L353.50 74.86 L354.00 74.88 L354.50 74.89 L355.00 74.90 L355.50 74.92 L356.00 74.93 L356.50 74.95 L357.00 74.96 L357.50 74.97 L358.00 74.99 L358.50 75.00 L359.00 75.02 L359.50 75.03 L360.00 75.04 L360.50 75.06 L361.00 75.07 L361.50 75.09 L362.00 75.10 L362.50 75.11 L363.00 75.13 L363.50 75.14 L364.00 75.16 L364.50 75.17 L365.00 75.18 L365.50 75.20 L366.00 75.21 L366.50 75.23 L367.00 75.24 L367.50 75.25 L368.00 75.27 L368.50 75.28 L369.00 75.30 L369.50 75.31 L370.00 75.32 L370.50 75.34 L371.00 75.35 L371.50 75.37 L372.00 75.38 L372.50 75.39 L373.00 75.41 L373.50 75.42 L374.00 75.44 L374.50 75.45 L375.00 75.46 L375.50 75.48 L376.00 75.49 L376.50 75.51 L377.00 75.52 L377.50 75.53 L378.00 75.55 L378.50 75.56 L379.00 75.58 L379.50 75.59 L380.00 75.60 L380.50 75.62 L381.00 75.63 L381.50 75.65 L382.00 75.66 L382.50 75.67 L383.00 75.69 L383.50 75.70 L384.00 75.72 L384.50 75.73 L385.00 75.74 L385.50 75.76 L386.00 75.77 L386.50 75.79 L387.00 75.80 L387.50 75.81 L388.00 75.83 L388.50 75.84 L389.00 75.86 L389.50 75.87 L390.00 75.88 L390.50 75.90 L391.00 75.91 L391.50 75.93 L392.00 75.94 L392.50 75.95 L393.00 75.97 L393.50 75.98 L394.00 76.00 L394.50 76.01 L395.00 76.02 L395.50 76.04 L396.00 76.05 L396.50 76.07 L397.00 76.08 L397.50 76.09 L398.00 76.11 L398.50 76.12 L399.00 76.14 L399.50 76.15 L400.00 76.16 L400.50 76.18 L401.00 76.19 L401.50 76.21 L402.00 76.22 L402.50 76.23 L403.00 76.25 L403.50 76.26 L404.00 76.28 L404.50 76.29 L405.00 76.30 L405.50 76.32 L406.00 76.33 L406.50 76.35 L407.00 76.36 L407.50 76.37 L408.00 76.39 L408.50 76.40 L409.00 76.42 L409.50 76.43 L410.00 76.44 L410.50 76.46 L411.00 76.47 L411.50 76.49 L412.00 76.50 L412.50 76.51 L413.00 76.53 L413.50 76.54 L414.00 76.56 L414.50 76.57 L415.00 76.58 L415.50 76.60 L416.00 76.61 L416.50 76.63 L417.00 76.64 L417.50 76.65 L418.00 76.67 L418.50 76.68 L419.00 76.70 L419.50 76.71 L420.00 76.72 L420.50 76.74 L421.00 76.75 L421.50 76.77 L422.00 76.78 L422.50 76.79 L423.00 76.81 L423.50 76.82 L424.00 76.84 L424.50 76.85 L425.00 76.86 L425.50 76.88 L426.00 76.89 L426.50 76.91 L427.00 76.92 L427.50 76.93 L428.00 76.95 L428.50 76.96 L429.00 76.98 L429.50 76.99 L430.00 77.00 L430.50 77.02 L431.00 77.03 L431.50 77.05 L432.00 77.06 L432.50 77.07 L433.00 77.09 L433.50 77.10 L434.00 77.12 L434.50 77.13 L435.00 77.14 L435.50 77.16 L436.00 77.17 L436.50 77.19 L437.00 77.20 L437.50 77.21 L438.00 77.23 L438.50 77.24 L439.00 77.26 L439.50 77.27 L440.00 77.28 L440.50 77.30 L441.00 77.31 L441.50 77.33 L442.00 77.34 L442.50 77.35 L443.00 77.37 L443.50 77.38 L444.00 77.40 L444.50 77.41 L445.00 77.42 L445.50 77.44 L446.00 77.45 L446.50 77.47 L447.00 77.48 L447.50 77.49 L448.00 77.51 L448.50 77.52 L449.00 77.54 L449.50 77.55 L450.00 77.56 L450.50 77.58 L451.00 77.59 L451.50 77.61 L452.00 77.62 L452.50 77.63 L453.00 77.65 L453.50 77.66 L454.00 77.68 L454.50 77.69 L455.00 77.70 L455.50 77.72 L456.00 77.73 L456.50 77.75 L457.00 77.76 L457.50 77.77 L458.00 77.79 L458.50 77.80 L459.00 77.82 L459.50 77.83 L460.00 77.84 L460.50 77.86 L461.00 77.87 L461.50 77.89 L462.00 77.90 L462.50 77.91 L463.00 77.93 L463.50 77.94 L464.00 77.96 L464.50 77.97 L465.00 77.98 L465.50 78.00 L466.00 78.01 L466.50 78.03 L467.00 78.04 L467.50 78.05 L468.00 78.07 L468.50 78.08 L469.00 78.10 L469.50 78.11 L470.00 78.12 L470.50 78.14 L471.00 78.15 L471.50 78.17 L472.00 78.18 L472.50 78.19 L473.00 78.21 L473.50 78.22 L474.00 78.24 L474.50 78.25 L475.00 78.26 L475.50 78.28 L476.00 78.29 L476.50 78.31 L477.00 78.32 L477.50 78.33 L478.00 78.35 L478.50 78.36 L479.00 78.38 L479.50 78.39 L480.00 78.40 L480.50 78.42 L481.00 78.43 L481.50 78.45 L482.00 78.46 L482.50 78.47 L483.00 78.49 L483.50 78.50 L484.00 78.52 L484.50 78.53 L485.00 78.54 L485.50 78.56 L486.00 78.57 L486.50 78.59 L487.00 78.60 L487.50 78.61 L488.00 78.63 L488.50 78.64 L489.00 78.66 L489.50 78.67 L490.00 78.68 L490.50 78.70 L491.00 78.71 L491.50 78.73 L492.00 78.74 L492.50 78.75 L493.00 78.77 L493.50 78.78 L494.00 78.80 L494.50 78.81 L495.00 78.82 L495.50 78.84 L496.00 78.85 L496.50 78.87 L497.00 78.88 L497.50 78.89 L498.00 78.91 L498.50 78.92 L499.00 78.94 L499.50 78.95 L500.00 78.96 L500.50 78.98 L501.00 78.99 L501.50 79.01 L502.00 79.02 L502.50 79.03 L503.00 79.05 L503.50 79.06 L504.00 79.08 L504.50 79.09 L505.00 79.10 L505.50 79.12 L506.00 79.13 L506.50 79.15 L507.00 79.16 L507.50 79.17 L508.00 79.19 L508.50 79.20 L509.00 79.22 L509.50 79.23 L510.00 79.24 L510.50 79.26 L511.00 79.27 L511.50 79.29 L512.00 79.30 L512.50 79.31 L513.00 79.33 L513.50 79.34 L514.00 79.36 L514.50 79.37 L515.00 79.38 L515.50 79.40 L516.00 79.41 L516.50 79.43 L517.00 79.44 L517.50 79.45 L518.00 79.47 L518.50 79.48 L519.00 79.50 L519.50 79.51 L520.00 79.52 L520.50 79.54 L521.00 79.55 L521.50 79.57 L522.00 79.58 L522.50 79.59 L523.00 79.61 L523.50 79.62 L524.00 79.64 L524.50 79.65 L525.00 79.66 L525.50 79.68 L526.00 79.69 L526.50 79.71 L527.00 79.72 L527.50 79.73 L528.00 79.75 L528.50 79.76 L529.00 79.78 L529.50 79.79 L530.00 79.80 L530.50 79.82 L531.00 79.83 L531.50 79.85 L532.00 79.86 L532.50 79.87 L533.00 79.89 L533.50 79.90 L534.00 79.92 L534.50 79.93 L535.00 79.94" fill="none" stroke="#A040F0" stroke-width="1.2" stroke-linejoin="round" stroke-linecap="round"/>
<path d="M338.00 73.83 L338.50 73.84 L339.00 73.86 L339.50 73.87 L340.00 73.88 L340.50 73.90 L341.00 73.91 L341.50 73.93 L342.00 73.94 L342.50 73.95 L343.00 73.97 L343.50 73.98 L344.00 74.00 L344.50 74.01 L345.00 74.02 L345.50 74.04 L346.00 74.05 L346.50 74.07 L347.00 74.08 L347.50 74.09 L348.00 74.11 L348.50 74.12 L349.00 74.14 L349.50 74.15 L350.00 74.16 L350.50 74.18 L351.00 74.19 L351.50 74.21 L352.00 74.22 L352.50 74.23 L353.00 74.25 L353.50 74.26 L354.00 74.28 L354.50 74.29 L355.00 74.30 L355.50 74.32 L356.00 74.33 L356.50 74.35 L357.00 74.36 L357.50 74.37 L358.00 74.39 L358.50 74.40 L359.00 74.42 L359.50 74.43 L360.00 74.44 L360.50 74.46 L361.00 74.47 L361.50 74.49 L362.00 74.50 L362.50 74.51 L363.00 74.53 L363.50 74.54 L364.00 74.56 L364.50 74.57 L365.00 74.58 L365.50 74.60 L366.00 74.61 L366.50 74.63 L367.00 74.64 L367.50 74.65 L368.00 74.67 L368.50 74.68 L369.00 74.70 L369.50 74.71 L370.00 74.72 L370.50 74.74 L371.00 74.75 L371.50 74.77 L372.00 74.78 L372.50 74.79 L373.00 74.81 L373.50 74.82 L374.00 74.84 L374.50 74.85 L375.00 74.86 L375.50 74.88 L376.00 74.89 L376.50 74.91 L377.00 74.92 L377.50 74.93 L378.00 74.95 L378.50 74.96 L379.00 74.98 L379.50 74.99 L380.00 75.00 L380.50 75.02 L381.00 75.03 L381.50 75.05 L382.00 75.06 L382.50 75.07 L383.00 75.09 L383.50 75.10 L384.00 75.12 L384.50 75.13 L385.00 75.14 L385.50 75.16 L386.00 75.17 L386.50 75.19 L387.00 75.20 L387.50 75.21 L388.00 75.23 L388.50 75.24 L389.00 75.26 L389.50 75.27 L390.00 75.28 L390.50 75.30 L391.00 75.31 L391.50 75.33 L392.00 75.34 L392.50 75.35 L393.00 75.37 L393.50 75.38 L394.00 75.40 L394.50 75.41 L395.00 75.42 L395.50 75.44 L396.00 75.45 L396.50 75.47 L397.00 75.48 L397.50 75.49 L398.00 75.51 L398.50 75.52 L399.00 75.54 L399.50 75.55 L400.00 75.56 L400.50 75.58 L401.00 75.59 L401.50 75.61 L402.00 75.62 L402.50 75.63 L403.00 75.65 L403.50 75.66 L404.00 75.68 L404.50 75.69 L405.00 75.70 L405.50 75.72 L406.00 75.73 L406.50 75.75 L407.00 75.76 L407.50 75.77 L408.00 75.79 L408.50 75.80 L409.00 75.82 L409.50 75.83 L410.00 75.84 L410.50 75.86 L411.00 75.87 L411.50 75.89 L412.00 75.90 L412.50 75.91 L413.00 75.93 L413.50 75.94 L414.00 75.96 L414.50 75.97 L415.00 75.98 L415.50 76.00 L416.00 76.01 L416.50 76.03 L417.00 76.04 L417.50 76.05 L418.00 76.07 L418.50 76.08 L419.00 76.10 L419.50 76.11 L420.00 76.12 L420.50 76.14 L421.00 76.15 L421.50 76.17 L422.00 76.18 L422.50 76.19 L423.00 76.21 L423.50 76.22 L424.00 76.24 L424.50 76.25 L425.00 76.26 L425.50 76.28 L426.00 76.29 L426.50 76.31 L427.00 76.32 L427.50 76.33 L428.00 76.35 L428.50 76.36 L429.00 76.38 L429.50 76.39 L430.00 76.40 L430.50 76.42 L431.00 76.43 L431.50 76.45 L432.00 76.46 L432.50 76.47 L433.00 76.49 L433.50 76.50 L434.00 76.52 L434.50 76.53 L435.00 76.54 L435.50 76.56 L436.00 76.57 L436.50 76.59 L437.00 76.60 L437.50 76.61 L438.00 76.63 L438.50 76.64 L439.00 76.66 L439.50 76.67 L440.00 76.68 L440.50 76.70 L441.00 76.71 L441.50 76.73 L442.00 76.74 L442.50 76.75 L443.00 76.77 L443.50 76.78 L444.00 76.80 L444.50 76.81 L445.00 76.82 L445.50 76.84 L446.00 76.85 L446.50 76.87 L447.00 76.88 L447.50 76.89 L448.00 76.91 L448.50 76.92 L449.00 76.94 L449.50 76.95 L450.00 76.96 L450.50 76.98 L451.00 76.99 L451.50 77.01 L452.00 77.02 L452.50 77.03 L453.00 77.05 L453.50 77.06 L454.00 77.08 L454.50 77.09 L455.00 77.10 L455.50 77.12 L456.00 77.13 L456.50 77.15 L457.00 77.16 L457.50 77.17 L458.00 77.19 L458.50 77.20 L459.00 77.22 L459.50 77.23 L460.00 77.24 L460.50 77.26 L461.00 77.27 L461.50 77.29 L462.00 77.30 L462.50 77.31 L463.00 77.33 L463.50 77.34 L464.00 77.36 L464.50 77.37 L465.00 77.38 L465.50 77.40 L466.00 77.41 L466.50 77.43 L467.00 77.44 L467.50 77.45 L468.00 77.47 L468.50 77.48 L469.00 77.50 L469.50 77.51 L470.00 77.52 L470.50 77.54 L471.00 77.55 L471.50 77.57 L472.00 77.58 L472.50 77.59 L473.00 77.61 L473.50 77.62 L474.00 77.64 L474.50 77.65 L475.00 77.66 L475.50 77.68 L476.00 77.69 L476.50 77.71 L477.00 77.72 L477.50 77.73 L478.00 77.75 L478.50 77.76 L479.00 77.78 L479.50 77.79 L480.00 77.80 L480.50 77.82 L481.00 77.83 L481.50 77.85 L482.00 77.86 L482.50 77.87 L483.00 77.89 L483.50 77.90 L484.00 77.92 L484.50 77.93 L485.00 77.94 L485.50 77.96 L486.00 77.97 L486.50 77.99 L487.00 78.00 L487.50 78.01 L488.00 78.03 L488.50 78.04 L489.00 78.06 L489.50 78.07 L490.00 78.08 L490.50 78.10 L491.00 78.11 L491.50 78.13 L492.00 78.14 L492.50 78.15 L493.00 78.17 L493.50 78.18 L494.00 78.20 L494.50 78.21 L495.00 78.22 L495.50 78.24 L496.00 78.25 L496.50 78.27 L497.00 78.28 L497.50 78.29 L498.00 78.31 L498.50 78.32 L499.00 78.34 L499.50 78.35 L500.00 78.36 L500.50 78.38 L501.00 78.39 L501.50 78.41 L502.00 78.42 L502.50 78.43 L503.00 78.45 L503.50 78.46 L504.00 78.48 L504.50 78.49 L505.00 78.50 L505.50 78.52 L506.00 78.53 L506.50 78.55 L507.00 78.56 L507.50 78.57 L508.00 78.59 L508.50 78.60 L509.00 78.62 L509.50 78.63 L510.00 78.64 L510.50 78.66 L511.00 78.67 L511.50 78.69 L512.00 78.70 L512.50 78.71 L513.00 78.73 L513.50 78.74 L514.00 78.76 L514.50 78.77 L515.00 78.78 L515.50 78.80 L516.00 78.81 L516.50 78.83 L517.00 78.84 L517.50 78.85 L518.00 78.87 L518.50 78.88 L519.00 78.90 L519.50 78.91 L520.00 78.92 L520.50 78.94 L521.00 78.95 L521.50 78.97 L522.00 78.98 L522.50 78.99 L523.00 79.01 L523.50 79.02 L524.00 79.04 L524.50 79.05 L525.00 79.06 L525.50 79.08 L526.00 79.09 L526.50 79.11 L527.00 79.12 L527.50 79.13 L528.00 79.15 L528.50 79.16 L529.00 79.18 L529.50 79.19 L530.00 79.20 L530.50 79.22 L531.00 79.23 L531.50 79.25 L532.00 79.26 L532.50 79.27 L533.00 79.29 L533.50 79.30 L534.00 79.32 L534.50 79.33 L535.00 79.34" fill="none" stroke="#E0A526" stroke-width="1.9" stroke-linejoin="round" stroke-linecap="round"/>
<path d="M436.00 75.72 L437.00 74.96 L438.00 73.89 L439.00 72.76 L440.00 71.92 L441.00 71.73 L442.00 72.26 L443.00 73.32 L444.00 74.52 L445.00 75.54" fill="none" stroke="#9B30F0" stroke-width="1.6" stroke-linejoin="round" stroke-linecap="round"/>
<path d="M338.00 72.27 L339.00 72.25 L340.00 72.23 L341.00 72.21 L342.00 72.18 L343.00 72.15 L344.00 72.11 L345.00 72.08 L346.00 72.03 L347.00 71.98 L348.00 71.93 L349.00 71.87 L350.00 71.80 L351.00 71.72 L352.00 71.64 L353.00 71.54 L354.00 71.44 L355.00 71.32 L356.00 71.19 L357.00 71.05 L358.00 70.89 L359.00 70.72 L360.00 70.53 L361.00 70.32 L362.00 70.09 L363.00 69.84 L364.00 69.57 L365.00 69.27 L366.00 68.95 L367.00 68.60 L368.00 68.22 L369.00 67.80 L370.00 67.36 L371.00 66.88 L372.00 66.37 L373.00 65.82 L374.00 65.24 L375.00 64.62 L376.00 63.96 L377.00 63.27 L378.00 62.53 L379.00 61.76 L380.00 60.95 L381.00 60.11 L382.00 59.22 L383.00 58.31 L384.00 57.36 L385.00 56.39 L386.00 55.39 L387.00 54.36 L388.00 53.32 L389.00 52.27 L390.00 51.20 L391.00 50.13 L392.00 49.07 L393.00 48.02 L394.00 46.98 L395.00 45.97 L396.00 45.00 L397.00 44.07 L398.00 43.21 L399.00 42.40 L400.00 41.68 L401.00 41.04 L402.00 40.49 L403.00 40.06 L404.00 39.73 L405.00 39.53 L406.00 39.44 L407.00 39.50 L408.00 39.74 L409.00 40.17 L410.00 40.78 L411.00 41.56 L412.00 42.49 L413.00 43.54 L414.00 44.69 L415.00 45.94 L416.00 47.25 L417.00 48.61 L418.00 50.00 L419.00 51.40 L420.00 52.80 L421.00 54.20 L422.00 55.57 L423.00 56.91 L424.00 58.21 L425.00 59.47 L426.00 60.68 L427.00 61.83 L428.00 62.93 L429.00 63.97 L430.00 64.95 L431.00 65.87 L432.00 66.73 L433.00 67.53 L434.00 68.27 L435.00 68.96 L436.00 69.59 L437.00 70.18 L438.00 70.71 L439.00 71.20 L440.00 71.65 L441.00 72.06 L442.00 72.43 L443.00 72.77 L444.00 73.07 L445.00 73.35 L446.00 73.61 L447.00 73.84 L448.00 74.05 L449.00 74.25 L450.00 74.43 L451.00 74.59 L452.00 74.74 L453.00 74.88 L454.00 75.01 L455.00 75.13 L456.00 75.25 L457.00 75.35 L458.00 75.45 L459.00 75.55 L460.00 75.64 L461.00 75.73 L462.00 75.81 L463.00 75.89 L464.00 75.96 L465.00 76.04 L466.00 76.11 L467.00 76.18 L468.00 76.24 L469.00 76.31 L470.00 76.37 L471.00 76.43 L472.00 76.49 L473.00 76.55 L474.00 76.61 L475.00 76.67 L476.00 76.72 L477.00 76.77 L478.00 76.83 L479.00 76.88 L480.00 76.93 L481.00 76.98 L482.00 77.03 L483.00 77.08 L484.00 77.13 L485.00 77.17 L486.00 77.22 L487.00 77.26 L488.00 77.31 L489.00 77.35 L490.00 77.40 L491.00 77.44 L492.00 77.48 L493.00 77.53 L494.00 77.57 L495.00 77.61 L496.00 77.65 L497.00 77.69 L498.00 77.73 L499.00 77.77 L500.00 77.81 L501.00 77.85 L502.00 77.89 L503.00 77.93 L504.00 77.97 L505.00 78.01 L506.00 78.04 L507.00 78.08 L508.00 78.12 L509.00 78.15 L510.00 78.19 L511.00 78.23 L512.00 78.26 L513.00 78.30 L514.00 78.34 L515.00 78.37 L516.00 78.41 L517.00 78.44 L518.00 78.48 L519.00 78.51 L520.00 78.55 L521.00 78.58 L522.00 78.61 L523.00 78.65 L524.00 78.68 L525.00 78.72 L526.00 78.75 L527.00 78.78 L528.00 78.82 L529.00 78.85 L530.00 78.88 L531.00 78.92 L532.00 78.95 L533.00 78.98 L534.00 79.01 L535.00 79.05" fill="none" stroke="#E0A526" stroke-width="2.0" stroke-linejoin="round" stroke-linecap="round"/>
<path d="M338.00 77.00 C339.03 77.07 342.53 77.43 344.20 77.40 C345.87 77.37 346.63 76.93 348.00 76.80 C349.37 76.67 350.73 77.07 352.40 76.60 C354.07 76.13 355.82 75.18 358.00 74.00 C360.18 72.82 363.17 71.08 365.50 69.50 C367.83 67.92 369.83 66.22 372.00 64.50 C374.17 62.78 376.50 61.28 378.50 59.20 C380.50 57.12 382.08 54.45 384.00 52.00 C385.92 49.55 387.63 47.40 390.00 44.50 C392.37 41.60 396.20 36.93 398.20 34.60 C400.20 32.27 400.63 31.72 402.00 30.50 C403.37 29.28 405.07 27.80 406.40 27.30 C407.73 26.80 408.63 27.35 410.00 27.50 C411.37 27.65 412.93 27.28 414.60 28.20 C416.27 29.12 418.23 31.12 420.00 33.00 C421.77 34.88 423.78 37.83 425.20 39.50 C426.62 41.17 427.20 41.52 428.50 43.00 C429.80 44.48 431.03 45.97 433.00 48.40 C434.97 50.83 438.13 54.67 440.30 57.60 C442.47 60.53 444.05 63.60 446.00 66.00 C447.95 68.40 449.67 70.40 452.00 72.00 C454.33 73.60 455.33 74.73 460.00 75.60 C464.67 76.47 467.50 76.63 480.00 77.20 C492.50 77.77 525.83 78.70 535.00 79.00" fill="none" stroke="#6E3B3B" stroke-width="1.7" stroke-linejoin="round" stroke-linecap="round"/>
<path d="M338.00 72.60 C340.33 72.43 346.88 72.47 352.00 71.60 C357.12 70.73 364.53 68.92 368.70 67.40 C372.87 65.88 374.27 64.42 377.00 62.50 C379.73 60.58 382.60 58.82 385.10 55.90 C387.60 52.98 389.82 48.82 392.00 45.00 C394.18 41.18 396.37 36.08 398.20 33.00 C400.03 29.92 401.37 28.13 403.00 26.50 C404.63 24.87 406.62 23.88 408.00 23.20 C409.38 22.52 410.13 22.02 411.30 22.40 C412.47 22.78 413.63 24.15 415.00 25.50 C416.37 26.85 417.80 27.62 419.50 30.50 C421.20 33.38 423.70 40.05 425.20 42.80 C426.70 45.55 427.45 45.38 428.50 47.00 C429.55 48.62 430.42 50.83 431.50 52.50 C432.58 54.17 433.78 55.98 435.00 57.00 C436.22 58.02 437.18 57.27 438.80 58.60 C440.42 59.93 442.83 63.10 444.70 65.00 C446.57 66.90 448.03 68.67 450.00 70.00 C451.97 71.33 454.00 72.10 456.50 73.00 C459.00 73.90 461.08 74.77 465.00 75.40 C468.92 76.03 468.33 76.23 480.00 76.80 C491.67 77.37 525.83 78.47 535.00 78.80" fill="none" stroke="#F62A2A" stroke-width="2.1" stroke-linejoin="round" stroke-linecap="round"/>
<path d="M338.00 149.07 L339.00 149.07 L340.00 149.06 L341.00 149.06 L342.00 149.05 L343.00 149.05 L344.00 149.03 L345.00 149.02 L346.00 149.00 L347.00 148.98 L348.00 148.96 L349.00 148.93 L350.00 148.90 L351.00 148.86 L352.00 148.82 L353.00 148.77 L354.00 148.71 L355.00 148.65 L356.00 148.57 L357.00 148.49 L358.00 148.40 L359.00 148.29 L360.00 148.17 L361.00 148.04 L362.00 147.89 L363.00 147.73 L364.00 147.54 L365.00 147.34 L366.00 147.11 L367.00 146.86 L368.00 146.58 L369.00 146.28 L370.00 145.94 L371.00 145.58 L372.00 145.18 L373.00 144.74 L374.00 144.27 L375.00 143.75 L376.00 143.20 L377.00 142.60 L378.00 141.95 L379.00 141.26 L380.00 140.52 L381.00 139.73 L382.00 138.90 L383.00 138.01 L384.00 137.07 L385.00 136.08 L386.00 135.04 L387.00 133.95 L388.00 132.81 L389.00 131.63 L390.00 130.40 L391.00 129.13 L392.00 127.83 L393.00 126.50 L394.00 125.13 L395.00 123.75 L396.00 122.35 L397.00 120.94 L398.00 119.52 L399.00 118.11 L400.00 116.72 L401.00 115.35 L402.00 114.01 L403.00 112.72 L404.00 111.48 L405.00 110.31 L406.00 109.22 L407.00 108.22 L408.00 107.32 L409.00 106.54 L410.00 105.88 L411.00 105.35 L412.00 104.97 L413.00 104.73 L414.00 104.64 L415.00 104.73 L416.00 105.07 L417.00 105.65 L418.00 106.46 L419.00 107.49 L420.00 108.71 L421.00 110.10 L422.00 111.63 L423.00 113.28 L424.00 115.02 L425.00 116.84 L426.00 118.70 L427.00 120.59 L428.00 122.49 L429.00 124.38 L430.00 126.25 L431.00 128.08 L432.00 129.87 L433.00 131.60 L434.00 133.26 L435.00 134.85 L436.00 136.37 L437.00 137.80 L438.00 139.15 L439.00 140.42 L440.00 141.61 L441.00 142.71 L442.00 143.73 L443.00 144.68 L444.00 145.54 L445.00 146.34 L446.00 147.06 L447.00 147.72 L448.00 148.32 L449.00 148.87 L450.00 149.36 L451.00 149.81 L452.00 150.21 L453.00 150.57 L454.00 150.90 L455.00 151.20 L456.00 151.47 L457.00 151.71 L458.00 151.93 L459.00 152.13 L460.00 152.32 L461.00 152.49 L462.00 152.64 L463.00 152.78 L464.00 152.92 L465.00 153.04 L466.00 153.16 L467.00 153.27 L468.00 153.37 L469.00 153.47 L470.00 153.57 L471.00 153.66 L472.00 153.75 L473.00 153.83 L474.00 153.91 L475.00 153.99 L476.00 154.06 L477.00 154.14 L478.00 154.21 L479.00 154.28 L480.00 154.35 L481.00 154.42 L482.00 154.48 L483.00 154.55 L484.00 154.61 L485.00 154.67 L486.00 154.73 L487.00 154.80 L488.00 154.85 L489.00 154.91 L490.00 154.97 L491.00 155.03 L492.00 155.08 L493.00 155.14 L494.00 155.19 L495.00 155.25 L496.00 155.30 L497.00 155.35 L498.00 155.40 L499.00 155.46 L500.00 155.51 L501.00 155.56 L502.00 155.61 L503.00 155.66 L504.00 155.71 L505.00 155.75 L506.00 155.80 L507.00 155.85 L508.00 155.90 L509.00 155.95 L510.00 155.99 L511.00 156.04 L512.00 156.08 L513.00 156.13 L514.00 156.18 L515.00 156.22 L516.00 156.27 L517.00 156.31 L518.00 156.36 L519.00 156.40 L520.00 156.44 L521.00 156.49 L522.00 156.53 L523.00 156.57 L524.00 156.62 L525.00 156.66 L526.00 156.70 L527.00 156.75 L528.00 156.79 L529.00 156.83 L530.00 156.87 L531.00 156.91 L532.00 156.96 L533.00 157.00 L534.00 157.04 L535.00 157.08 L535.00 157.43 L338.00 150.44 Z" fill="url(#g8)" stroke="none"/>
<path d="M338.00 152.64 L338.50 152.65 L339.00 152.67 L339.50 152.69 L340.00 152.71 L340.50 152.72 L341.00 152.74 L341.50 152.76 L342.00 152.78 L342.50 152.80 L343.00 152.81 L343.50 152.83 L344.00 152.85 L344.50 152.87 L345.00 152.88 L345.50 152.90 L346.00 152.92 L346.50 152.94 L347.00 152.95 L347.50 152.97 L348.00 152.99 L348.50 153.01 L349.00 153.03 L349.50 153.04 L350.00 153.06 L350.50 153.08 L351.00 153.10 L351.50 153.11 L352.00 153.13 L352.50 153.15 L353.00 153.17 L353.50 153.19 L354.00 153.20 L354.50 153.22 L355.00 153.24 L355.50 153.26 L356.00 153.27 L356.50 153.29 L357.00 153.31 L357.50 153.33 L358.00 153.35 L358.50 153.36 L359.00 153.38 L359.50 153.40 L360.00 153.42 L360.50 153.43 L361.00 153.45 L361.50 153.47 L362.00 153.49 L362.50 153.51 L363.00 153.52 L363.50 153.54 L364.00 153.56 L364.50 153.58 L365.00 153.59 L365.50 153.61 L366.00 153.63 L366.50 153.65 L367.00 153.66 L367.50 153.68 L368.00 153.70 L368.50 153.72 L369.00 153.74 L369.50 153.75 L370.00 153.77 L370.50 153.79 L371.00 153.81 L371.50 153.82 L372.00 153.84 L372.50 153.86 L373.00 153.88 L373.50 153.90 L374.00 153.91 L374.50 153.93 L375.00 153.95 L375.50 153.97 L376.00 153.98 L376.50 154.00 L377.00 154.02 L377.50 154.04 L378.00 154.06 L378.50 154.07 L379.00 154.09 L379.50 154.11 L380.00 154.13 L380.50 154.14 L381.00 154.16 L381.50 154.18 L382.00 154.20 L382.50 154.22 L383.00 154.23 L383.50 154.25 L384.00 154.27 L384.50 154.29 L385.00 154.30 L385.50 154.32 L386.00 154.34 L386.50 154.36 L387.00 154.38 L387.50 154.39 L388.00 154.41 L388.50 154.43 L389.00 154.45 L389.50 154.46 L390.00 154.48 L390.50 154.50 L391.00 154.52 L391.50 154.53 L392.00 154.55 L392.50 154.57 L393.00 154.59 L393.50 154.61 L394.00 154.62 L394.50 154.64 L395.00 154.66 L395.50 154.68 L396.00 154.69 L396.50 154.71 L397.00 154.73 L397.50 154.75 L398.00 154.77 L398.50 154.78 L399.00 154.80 L399.50 154.82 L400.00 154.84 L400.50 154.85 L401.00 154.87 L401.50 154.89 L402.00 154.91 L402.50 154.93 L403.00 154.94 L403.50 154.96 L404.00 154.98 L404.50 155.00 L405.00 155.01 L405.50 155.03 L406.00 155.05 L406.50 155.07 L407.00 155.08 L407.50 155.10 L408.00 155.12 L408.50 155.14 L409.00 155.16 L409.50 155.17 L410.00 155.19 L410.50 155.21 L411.00 155.23 L411.50 155.24 L412.00 155.26 L412.50 155.28 L413.00 155.30 L413.50 155.32 L414.00 155.33 L414.50 155.35 L415.00 155.37 L415.50 155.39 L416.00 155.40 L416.50 155.42 L417.00 155.44 L417.50 155.46 L418.00 155.48 L418.50 155.49 L419.00 155.51 L419.50 155.53 L420.00 155.55 L420.50 155.56 L421.00 155.58 L421.50 155.60 L422.00 155.62 L422.50 155.64 L423.00 155.65 L423.50 155.67 L424.00 155.69 L424.50 155.71 L425.00 155.72 L425.50 155.74 L426.00 155.76 L426.50 155.78 L427.00 155.79 L427.50 155.81 L428.00 155.83 L428.50 155.85 L429.00 155.87 L429.50 155.88 L430.00 155.90 L430.50 155.92 L431.00 155.94 L431.50 155.95 L432.00 155.97 L432.50 155.99 L433.00 156.01 L433.50 156.03 L434.00 156.04 L434.50 156.06 L435.00 156.08 L435.50 156.10 L436.00 156.11 L436.50 156.13 L437.00 156.15 L437.50 156.17 L438.00 156.19 L438.50 156.20 L439.00 156.22 L439.50 156.24 L440.00 156.26 L440.50 156.27 L441.00 156.29 L441.50 156.31 L442.00 156.33 L442.50 156.35 L443.00 156.36 L443.50 156.38 L444.00 156.40 L444.50 156.42 L445.00 156.43 L445.50 156.45 L446.00 156.47 L446.50 156.49 L447.00 156.50 L447.50 156.52 L448.00 156.54 L448.50 156.56 L449.00 156.58 L449.50 156.59 L450.00 156.61 L450.50 156.63 L451.00 156.65 L451.50 156.66 L452.00 156.68 L452.50 156.70 L453.00 156.72 L453.50 156.74 L454.00 156.75 L454.50 156.77 L455.00 156.79 L455.50 156.81 L456.00 156.82 L456.50 156.84 L457.00 156.86 L457.50 156.88 L458.00 156.90 L458.50 156.91 L459.00 156.93 L459.50 156.95 L460.00 156.97 L460.50 156.98 L461.00 157.00 L461.50 157.02 L462.00 157.04 L462.50 157.06 L463.00 157.07 L463.50 157.09 L464.00 157.11 L464.50 157.13 L465.00 157.14 L465.50 157.16 L466.00 157.18 L466.50 157.20 L467.00 157.22 L467.50 157.23 L468.00 157.25 L468.50 157.27 L469.00 157.29 L469.50 157.30 L470.00 157.32 L470.50 157.34 L471.00 157.36 L471.50 157.37 L472.00 157.39 L472.50 157.41 L473.00 157.43 L473.50 157.45 L474.00 157.46 L474.50 157.48 L475.00 157.50 L475.50 157.52 L476.00 157.53 L476.50 157.55 L477.00 157.57 L477.50 157.59 L478.00 157.61 L478.50 157.62 L479.00 157.64 L479.50 157.66 L480.00 157.68 L480.50 157.69 L481.00 157.71 L481.50 157.73 L482.00 157.75 L482.50 157.77 L483.00 157.78 L483.50 157.80 L484.00 157.82 L484.50 157.84 L485.00 157.85 L485.50 157.87 L486.00 157.89 L486.50 157.91 L487.00 157.92 L487.50 157.94 L488.00 157.96 L488.50 157.98 L489.00 158.00 L489.50 158.01 L490.00 158.03 L490.50 158.05 L491.00 158.07 L491.50 158.08 L492.00 158.10 L492.50 158.12 L493.00 158.14 L493.50 158.16 L494.00 158.17 L494.50 158.19 L495.00 158.21 L495.50 158.23 L496.00 158.24 L496.50 158.26 L497.00 158.28 L497.50 158.30 L498.00 158.32 L498.50 158.33 L499.00 158.35 L499.50 158.37 L500.00 158.39 L500.50 158.40 L501.00 158.42 L501.50 158.44 L502.00 158.46 L502.50 158.48 L503.00 158.49 L503.50 158.51 L504.00 158.53 L504.50 158.55 L505.00 158.56 L505.50 158.58 L506.00 158.60 L506.50 158.62 L507.00 158.63 L507.50 158.65 L508.00 158.67 L508.50 158.69 L509.00 158.71 L509.50 158.72 L510.00 158.74 L510.50 158.76 L511.00 158.78 L511.50 158.79 L512.00 158.81 L512.50 158.83 L513.00 158.85 L513.50 158.87 L514.00 158.88 L514.50 158.90 L515.00 158.92 L515.50 158.94 L516.00 158.95 L516.50 158.97 L517.00 158.99 L517.50 159.01 L518.00 159.03 L518.50 159.04 L519.00 159.06 L519.50 159.08 L520.00 159.10 L520.50 159.11 L521.00 159.13 L521.50 159.15 L522.00 159.17 L522.50 159.19 L523.00 159.20 L523.50 159.22 L524.00 159.24 L524.50 159.26 L525.00 159.27 L525.50 159.29 L526.00 159.31 L526.50 159.33 L527.00 159.34 L527.50 159.36 L528.00 159.38 L528.50 159.40 L529.00 159.42 L529.50 159.43 L530.00 159.45 L530.50 159.47 L531.00 159.49 L531.50 159.50 L532.00 159.52 L532.50 159.54 L533.00 159.56 L533.50 159.58 L534.00 159.59 L534.50 159.61 L535.00 159.63" fill="none" stroke="#2A7FFF" stroke-width="1.9" stroke-linejoin="round" stroke-linecap="round"/>
<path d="M338.00 150.44 L338.50 150.45 L339.00 150.47 L339.50 150.49 L340.00 150.51 L340.50 150.52 L341.00 150.54 L341.50 150.56 L342.00 150.58 L342.50 150.60 L343.00 150.61 L343.50 150.63 L344.00 150.65 L344.50 150.67 L345.00 150.68 L345.50 150.70 L346.00 150.72 L346.50 150.74 L347.00 150.75 L347.50 150.77 L348.00 150.79 L348.50 150.81 L349.00 150.83 L349.50 150.84 L350.00 150.86 L350.50 150.88 L351.00 150.90 L351.50 150.91 L352.00 150.93 L352.50 150.95 L353.00 150.97 L353.50 150.99 L354.00 151.00 L354.50 151.02 L355.00 151.04 L355.50 151.06 L356.00 151.07 L356.50 151.09 L357.00 151.11 L357.50 151.13 L358.00 151.15 L358.50 151.16 L359.00 151.18 L359.50 151.20 L360.00 151.22 L360.50 151.23 L361.00 151.25 L361.50 151.27 L362.00 151.29 L362.50 151.31 L363.00 151.32 L363.50 151.34 L364.00 151.36 L364.50 151.38 L365.00 151.39 L365.50 151.41 L366.00 151.43 L366.50 151.45 L367.00 151.47 L367.50 151.48 L368.00 151.50 L368.50 151.52 L369.00 151.54 L369.50 151.55 L370.00 151.57 L370.50 151.59 L371.00 151.61 L371.50 151.62 L372.00 151.64 L372.50 151.66 L373.00 151.68 L373.50 151.70 L374.00 151.71 L374.50 151.73 L375.00 151.75 L375.50 151.77 L376.00 151.78 L376.50 151.80 L377.00 151.82 L377.50 151.84 L378.00 151.86 L378.50 151.87 L379.00 151.89 L379.50 151.91 L380.00 151.93 L380.50 151.94 L381.00 151.96 L381.50 151.98 L382.00 152.00 L382.50 152.02 L383.00 152.03 L383.50 152.05 L384.00 152.07 L384.50 152.09 L385.00 152.10 L385.50 152.12 L386.00 152.14 L386.50 152.16 L387.00 152.18 L387.50 152.19 L388.00 152.21 L388.50 152.23 L389.00 152.25 L389.50 152.26 L390.00 152.28 L390.50 152.30 L391.00 152.32 L391.50 152.33 L392.00 152.35 L392.50 152.37 L393.00 152.39 L393.50 152.41 L394.00 152.42 L394.50 152.44 L395.00 152.46 L395.50 152.48 L396.00 152.49 L396.50 152.51 L397.00 152.53 L397.50 152.55 L398.00 152.57 L398.50 152.58 L399.00 152.60 L399.50 152.62 L400.00 152.64 L400.50 152.65 L401.00 152.67 L401.50 152.69 L402.00 152.71 L402.50 152.73 L403.00 152.74 L403.50 152.76 L404.00 152.78 L404.50 152.80 L405.00 152.81 L405.50 152.83 L406.00 152.85 L406.50 152.87 L407.00 152.88 L407.50 152.90 L408.00 152.92 L408.50 152.94 L409.00 152.96 L409.50 152.97 L410.00 152.99 L410.50 153.01 L411.00 153.03 L411.50 153.04 L412.00 153.06 L412.50 153.08 L413.00 153.10 L413.50 153.12 L414.00 153.13 L414.50 153.15 L415.00 153.17 L415.50 153.19 L416.00 153.20 L416.50 153.22 L417.00 153.24 L417.50 153.26 L418.00 153.28 L418.50 153.29 L419.00 153.31 L419.50 153.33 L420.00 153.35 L420.50 153.36 L421.00 153.38 L421.50 153.40 L422.00 153.42 L422.50 153.44 L423.00 153.45 L423.50 153.47 L424.00 153.49 L424.50 153.51 L425.00 153.52 L425.50 153.54 L426.00 153.56 L426.50 153.58 L427.00 153.59 L427.50 153.61 L428.00 153.63 L428.50 153.65 L429.00 153.67 L429.50 153.68 L430.00 153.70 L430.50 153.72 L431.00 153.74 L431.50 153.75 L432.00 153.77 L432.50 153.79 L433.00 153.81 L433.50 153.83 L434.00 153.84 L434.50 153.86 L435.00 153.88 L435.50 153.90 L436.00 153.91 L436.50 153.93 L437.00 153.95 L437.50 153.97 L438.00 153.99 L438.50 154.00 L439.00 154.02 L439.50 154.04 L440.00 154.06 L440.50 154.07 L441.00 154.09 L441.50 154.11 L442.00 154.13 L442.50 154.15 L443.00 154.16 L443.50 154.18 L444.00 154.20 L444.50 154.22 L445.00 154.23 L445.50 154.25 L446.00 154.27 L446.50 154.29 L447.00 154.31 L447.50 154.32 L448.00 154.34 L448.50 154.36 L449.00 154.38 L449.50 154.39 L450.00 154.41 L450.50 154.43 L451.00 154.45 L451.50 154.46 L452.00 154.48 L452.50 154.50 L453.00 154.52 L453.50 154.54 L454.00 154.55 L454.50 154.57 L455.00 154.59 L455.50 154.61 L456.00 154.62 L456.50 154.64 L457.00 154.66 L457.50 154.68 L458.00 154.70 L458.50 154.71 L459.00 154.73 L459.50 154.75 L460.00 154.77 L460.50 154.78 L461.00 154.80 L461.50 154.82 L462.00 154.84 L462.50 154.86 L463.00 154.87 L463.50 154.89 L464.00 154.91 L464.50 154.93 L465.00 154.94 L465.50 154.96 L466.00 154.98 L466.50 155.00 L467.00 155.02 L467.50 155.03 L468.00 155.05 L468.50 155.07 L469.00 155.09 L469.50 155.10 L470.00 155.12 L470.50 155.14 L471.00 155.16 L471.50 155.17 L472.00 155.19 L472.50 155.21 L473.00 155.23 L473.50 155.25 L474.00 155.26 L474.50 155.28 L475.00 155.30 L475.50 155.32 L476.00 155.33 L476.50 155.35 L477.00 155.37 L477.50 155.39 L478.00 155.41 L478.50 155.42 L479.00 155.44 L479.50 155.46 L480.00 155.48 L480.50 155.49 L481.00 155.51 L481.50 155.53 L482.00 155.55 L482.50 155.57 L483.00 155.58 L483.50 155.60 L484.00 155.62 L484.50 155.64 L485.00 155.65 L485.50 155.67 L486.00 155.69 L486.50 155.71 L487.00 155.72 L487.50 155.74 L488.00 155.76 L488.50 155.78 L489.00 155.80 L489.50 155.81 L490.00 155.83 L490.50 155.85 L491.00 155.87 L491.50 155.88 L492.00 155.90 L492.50 155.92 L493.00 155.94 L493.50 155.96 L494.00 155.97 L494.50 155.99 L495.00 156.01 L495.50 156.03 L496.00 156.04 L496.50 156.06 L497.00 156.08 L497.50 156.10 L498.00 156.12 L498.50 156.13 L499.00 156.15 L499.50 156.17 L500.00 156.19 L500.50 156.20 L501.00 156.22 L501.50 156.24 L502.00 156.26 L502.50 156.28 L503.00 156.29 L503.50 156.31 L504.00 156.33 L504.50 156.35 L505.00 156.36 L505.50 156.38 L506.00 156.40 L506.50 156.42 L507.00 156.44 L507.50 156.45 L508.00 156.47 L508.50 156.49 L509.00 156.51 L509.50 156.52 L510.00 156.54 L510.50 156.56 L511.00 156.58 L511.50 156.59 L512.00 156.61 L512.50 156.63 L513.00 156.65 L513.50 156.67 L514.00 156.68 L514.50 156.70 L515.00 156.72 L515.50 156.74 L516.00 156.75 L516.50 156.77 L517.00 156.79 L517.50 156.81 L518.00 156.83 L518.50 156.84 L519.00 156.86 L519.50 156.88 L520.00 156.90 L520.50 156.91 L521.00 156.93 L521.50 156.95 L522.00 156.97 L522.50 156.99 L523.00 157.00 L523.50 157.02 L524.00 157.04 L524.50 157.06 L525.00 157.07 L525.50 157.09 L526.00 157.11 L526.50 157.13 L527.00 157.15 L527.50 157.16 L528.00 157.18 L528.50 157.20 L529.00 157.22 L529.50 157.23 L530.00 157.25 L530.50 157.27 L531.00 157.29 L531.50 157.30 L532.00 157.32 L532.50 157.34 L533.00 157.36 L533.50 157.38 L534.00 157.39 L534.50 157.41 L535.00 157.43" fill="none" stroke="#E0A526" stroke-width="1.9" stroke-linejoin="round" stroke-linecap="round"/>
<path d="M338.00 149.07 L339.00 149.07 L340.00 149.06 L341.00 149.06 L342.00 149.05 L343.00 149.05 L344.00 149.03 L345.00 149.02 L346.00 149.00 L347.00 148.98 L348.00 148.96 L349.00 148.93 L350.00 148.90 L351.00 148.86 L352.00 148.82 L353.00 148.77 L354.00 148.71 L355.00 148.65 L356.00 148.57 L357.00 148.49 L358.00 148.40 L359.00 148.29 L360.00 148.17 L361.00 148.04 L362.00 147.89 L363.00 147.73 L364.00 147.54 L365.00 147.34 L366.00 147.11 L367.00 146.86 L368.00 146.58 L369.00 146.28 L370.00 145.94 L371.00 145.58 L372.00 145.18 L373.00 144.74 L374.00 144.27 L375.00 143.75 L376.00 143.20 L377.00 142.60 L378.00 141.95 L379.00 141.26 L380.00 140.52 L381.00 139.73 L382.00 138.90 L383.00 138.01 L384.00 137.07 L385.00 136.08 L386.00 135.04 L387.00 133.95 L388.00 132.81 L389.00 131.63 L390.00 130.40 L391.00 129.13 L392.00 127.83 L393.00 126.50 L394.00 125.13 L395.00 123.75 L396.00 122.35 L397.00 120.94 L398.00 119.52 L399.00 118.11 L400.00 116.72 L401.00 115.35 L402.00 114.01 L403.00 112.72 L404.00 111.48 L405.00 110.31 L406.00 109.22 L407.00 108.22 L408.00 107.32 L409.00 106.54 L410.00 105.88 L411.00 105.35 L412.00 104.97 L413.00 104.73 L414.00 104.64 L415.00 104.73 L416.00 105.07 L417.00 105.65 L418.00 106.46 L419.00 107.49 L420.00 108.71 L421.00 110.10 L422.00 111.63 L423.00 113.28 L424.00 115.02 L425.00 116.84 L426.00 118.70 L427.00 120.59 L428.00 122.49 L429.00 124.38 L430.00 126.25 L431.00 128.08 L432.00 129.87 L433.00 131.60 L434.00 133.26 L435.00 134.85 L436.00 136.37 L437.00 137.80 L438.00 139.15 L439.00 140.42 L440.00 141.61 L441.00 142.71 L442.00 143.73 L443.00 144.68 L444.00 145.54 L445.00 146.34 L446.00 147.06 L447.00 147.72 L448.00 148.32 L449.00 148.87 L450.00 149.36 L451.00 149.81 L452.00 150.21 L453.00 150.57 L454.00 150.90 L455.00 151.20 L456.00 151.47 L457.00 151.71 L458.00 151.93 L459.00 152.13 L460.00 152.32 L461.00 152.49 L462.00 152.64 L463.00 152.78 L464.00 152.92 L465.00 153.04 L466.00 153.16 L467.00 153.27 L468.00 153.37 L469.00 153.47 L470.00 153.57 L471.00 153.66 L472.00 153.75 L473.00 153.83 L474.00 153.91 L475.00 153.99 L476.00 154.06 L477.00 154.14 L478.00 154.21 L479.00 154.28 L480.00 154.35 L481.00 154.42 L482.00 154.48 L483.00 154.55 L484.00 154.61 L485.00 154.67 L486.00 154.73 L487.00 154.80 L488.00 154.85 L489.00 154.91 L490.00 154.97 L491.00 155.03 L492.00 155.08 L493.00 155.14 L494.00 155.19 L495.00 155.25 L496.00 155.30 L497.00 155.35 L498.00 155.40 L499.00 155.46 L500.00 155.51 L501.00 155.56 L502.00 155.61 L503.00 155.66 L504.00 155.71 L505.00 155.75 L506.00 155.80 L507.00 155.85 L508.00 155.90 L509.00 155.95 L510.00 155.99 L511.00 156.04 L512.00 156.08 L513.00 156.13 L514.00 156.18 L515.00 156.22 L516.00 156.27 L517.00 156.31 L518.00 156.36 L519.00 156.40 L520.00 156.44 L521.00 156.49 L522.00 156.53 L523.00 156.57 L524.00 156.62 L525.00 156.66 L526.00 156.70 L527.00 156.75 L528.00 156.79 L529.00 156.83 L530.00 156.87 L531.00 156.91 L532.00 156.96 L533.00 157.00 L534.00 157.04 L535.00 157.08" fill="none" stroke="#E0A526" stroke-width="2.0" stroke-linejoin="round" stroke-linecap="round"/>
<path d="M338.00 153.50 C339.17 153.82 342.67 155.22 345.00 155.40 C347.33 155.58 349.50 155.08 352.00 154.60 C354.50 154.12 357.67 153.43 360.00 152.50 C362.33 151.57 364.00 150.42 366.00 149.00 C368.00 147.58 370.00 145.67 372.00 144.00 C374.00 142.33 376.00 141.50 378.00 139.00 C380.00 136.50 381.87 132.80 384.00 129.00 C386.13 125.20 388.80 119.70 390.80 116.20 C392.80 112.70 394.18 110.42 396.00 108.00 C397.82 105.58 399.53 103.80 401.70 101.70 C403.87 99.60 406.95 96.77 409.00 95.40 C411.05 94.03 412.20 93.95 414.00 93.50 C415.80 93.05 418.13 92.45 419.80 92.70 C421.47 92.95 422.50 93.78 424.00 95.00 C425.50 96.22 427.30 98.17 428.80 100.00 C430.30 101.83 431.48 103.75 433.00 106.00 C434.52 108.25 436.40 110.83 437.90 113.50 C439.40 116.17 440.80 119.13 442.00 122.00 C443.20 124.87 443.77 127.37 445.10 130.70 C446.43 134.03 448.18 138.95 450.00 142.00 C451.82 145.05 453.50 147.25 456.00 149.00 C458.50 150.75 461.00 151.67 465.00 152.50 C469.00 153.33 468.33 153.33 480.00 154.00 C491.67 154.67 525.83 156.08 535.00 156.50" fill="none" stroke="#4A4A4A" stroke-width="1.7" stroke-linejoin="round" stroke-linecap="round"/>
<path d="M338.00 148.40 C340.00 148.20 346.33 147.73 350.00 147.20 C353.67 146.67 356.67 145.98 360.00 145.20 C363.33 144.42 367.00 143.55 370.00 142.50 C373.00 141.45 375.17 140.98 378.00 138.90 C380.83 136.82 383.97 133.17 387.00 130.00 C390.03 126.83 393.53 123.90 396.20 119.90 C398.87 115.90 400.87 110.23 403.00 106.00 C405.13 101.77 407.33 97.50 409.00 94.50 C410.67 91.50 411.67 89.62 413.00 88.00 C414.33 86.38 415.83 85.17 417.00 84.80 C418.17 84.43 419.08 85.10 420.00 85.80 C420.92 86.50 421.50 87.30 422.50 89.00 C423.50 90.70 424.63 92.67 426.00 96.00 C427.37 99.33 429.37 105.75 430.70 109.00 C432.03 112.25 432.80 113.83 434.00 115.50 C435.20 117.17 436.73 118.00 437.90 119.00 C439.07 120.00 440.10 120.75 441.00 121.50 C441.90 122.25 442.47 122.08 443.30 123.50 C444.13 124.92 445.08 127.28 446.00 130.00 C446.92 132.72 447.80 137.22 448.80 139.80 C449.80 142.38 450.80 144.05 452.00 145.50 C453.20 146.95 454.42 147.62 456.00 148.50 C457.58 149.38 457.50 149.97 461.50 150.80 C465.50 151.63 467.75 152.55 480.00 153.50 C492.25 154.45 525.83 156.00 535.00 156.50" fill="none" stroke="#F62A2A" stroke-width="2.1" stroke-linejoin="round" stroke-linecap="round"/>
<line x1="414.40" y1="33.00" x2="414.40" y2="114.70" stroke="#000" stroke-width="1.2" stroke-dasharray="2.2,1.6" stroke-linecap="butt"/>
<line x1="422.40" y1="55.00" x2="422.40" y2="139.00" stroke="#FF22FF" stroke-width="1.2" stroke-dasharray="2.2,1.6" stroke-linecap="butt"/>
<line x1="443.30" y1="67.00" x2="443.30" y2="152.50" stroke="#000" stroke-width="1.2" stroke-dasharray="2.2,1.6" stroke-linecap="butt"/>
<line x1="387.50" y1="34.90" x2="400.26" y2="36.79" stroke="#000" stroke-width="1.3" stroke-linecap="butt"/>
<path d="M405.70 37.60 L399.32 39.69 L400.21 33.75 Z" fill="#000"/>
<line x1="429.00" y1="41.80" x2="423.54" y2="48.29" stroke="#000" stroke-width="1.3" stroke-linecap="butt"/>
<path d="M420.00 52.50 L421.57 45.98 L426.16 49.84 Z" fill="#000"/>
<line x1="450.50" y1="57.00" x2="444.65" y2="62.67" stroke="#000" stroke-width="1.3" stroke-linecap="butt"/>
<path d="M440.70 66.50 L442.92 60.17 L447.10 64.48 Z" fill="#000"/>
<line x1="394.00" y1="93.00" x2="407.62" y2="100.77" stroke="#000" stroke-width="1.3" stroke-linecap="butt"/>
<path d="M412.40 103.50 L405.70 103.13 L408.68 97.92 Z" fill="#000"/>
<line x1="452.70" y1="133.50" x2="446.79" y2="139.71" stroke="#000" stroke-width="1.3" stroke-linecap="butt"/>
<path d="M443.00 143.70 L444.96 137.28 L449.31 141.42 Z" fill="#000"/>
<text x="339.80" y="22.70" font-size="13.20" fill="#111" text-anchor="start" font-weight="bold" textLength="16.4" lengthAdjust="spacingAndGlyphs">(b)</text>
<text x="358.90" y="22.70" font-size="13.60" fill="#111" text-anchor="start" font-weight="bold" textLength="27.8" lengthAdjust="spacingAndGlyphs">N 1s</text>
<text x="362.00" y="34.00" font-size="10.60" fill="#111" text-anchor="start" font-weight="bold" textLength="38.2" lengthAdjust="spacingAndGlyphs">399.5 eV</text>
<text x="424.40" y="40.00" font-size="10.60" fill="#111" text-anchor="start" font-weight="bold" textLength="39.2" lengthAdjust="spacingAndGlyphs">399.0 eV</text>
<text x="439.60" y="56.20" font-size="10.60" fill="#111" text-anchor="start" font-weight="bold" textLength="39.4" lengthAdjust="spacingAndGlyphs">397.9 eV</text>
<text x="474.00" y="72.40" font-size="10.60" fill="#111" text-anchor="start" font-weight="bold" textLength="59.5" lengthAdjust="spacingAndGlyphs">10SQDs/SPI</text>
<text x="372.70" y="91.70" font-size="10.60" fill="#111" text-anchor="start" font-weight="bold" textLength="39.7" lengthAdjust="spacingAndGlyphs">399.1 eV</text>
<text x="399.50" y="132.00" font-size="10.60" fill="#111" text-anchor="start" font-weight="bold" textLength="39.3" lengthAdjust="spacingAndGlyphs">398.7 eV</text>
<text x="451.20" y="132.20" font-size="10.60" fill="#111" text-anchor="start" font-weight="bold" textLength="39.8" lengthAdjust="spacingAndGlyphs">397.7 eV</text>
<text x="455.00" y="142.60" font-size="9.80" fill="#1A1AF0" text-anchor="start" font-weight="bold" textLength="27.2" lengthAdjust="spacingAndGlyphs">N-C=N</text>
<text x="497.50" y="153.00" font-size="10.60" fill="#111" text-anchor="start" font-weight="bold" textLength="16.8" lengthAdjust="spacingAndGlyphs">SPI</text>
<g font-size="7" font-weight="bold" fill="#2020F0" text-anchor="middle">
<text x="359.5" y="101.9">O</text>
<text x="364.0" y="109.2">C</text>
<text x="372.7" y="109.2">N</text>
<text x="377.3" y="117.0">C</text>
<text x="386.4" y="117.0">O</text>
</g>
<line x1="360.80" y1="102.40" x2="362.60" y2="104.60" stroke="#333" stroke-width="1.0" stroke-linecap="butt"/>
<line x1="362.20" y1="101.60" x2="364.00" y2="103.80" stroke="#2626F0" stroke-width="1.0" stroke-linecap="butt"/>
<line x1="366.40" y1="106.80" x2="369.80" y2="106.80" stroke="#2626F0" stroke-width="1.0" stroke-linecap="butt"/>
<line x1="375.00" y1="103.60" x2="377.30" y2="99.00" stroke="#222" stroke-width="1.0" stroke-linecap="butt"/>
<line x1="362.30" y1="109.80" x2="360.00" y2="113.60" stroke="#222" stroke-width="1.0" stroke-linecap="butt"/>
<line x1="374.20" y1="109.80" x2="376.00" y2="112.30" stroke="#222" stroke-width="1.0" stroke-linecap="butt"/>
<line x1="379.80" y1="114.10" x2="383.20" y2="114.10" stroke="#2626F0" stroke-width="1.0" stroke-linecap="butt"/>
<line x1="379.80" y1="115.50" x2="383.20" y2="115.50" stroke="#2626F0" stroke-width="1.0" stroke-linecap="butt"/>
<line x1="375.50" y1="117.60" x2="373.50" y2="121.40" stroke="#222" stroke-width="1.0" stroke-linecap="butt"/>
<rect x="31.80" y="241.80" width="193.80" height="156.40" fill="none" stroke="#000" stroke-width="1.8"/>
<line x1="55.00" y1="399.00" x2="55.00" y2="402.00" stroke="#000" stroke-width="1.5" stroke-linecap="butt"/>
<text x="55.00" y="414.60" font-size="12.80" fill="#111" text-anchor="middle" font-weight="bold" textLength="32.5" lengthAdjust="spacingAndGlyphs">496.8</text>
<line x1="93.65" y1="399.00" x2="93.65" y2="402.00" stroke="#000" stroke-width="1.5" stroke-linecap="butt"/>
<text x="93.65" y="414.60" font-size="12.80" fill="#111" text-anchor="middle" font-weight="bold" textLength="32.5" lengthAdjust="spacingAndGlyphs">493.2</text>
<line x1="132.30" y1="399.00" x2="132.30" y2="402.00" stroke="#000" stroke-width="1.5" stroke-linecap="butt"/>
<text x="132.30" y="414.60" font-size="12.80" fill="#111" text-anchor="middle" font-weight="bold" textLength="32.5" lengthAdjust="spacingAndGlyphs">489.6</text>
<line x1="170.95" y1="399.00" x2="170.95" y2="402.00" stroke="#000" stroke-width="1.5" stroke-linecap="butt"/>
<text x="170.95" y="414.60" font-size="12.80" fill="#111" text-anchor="middle" font-weight="bold" textLength="32.5" lengthAdjust="spacingAndGlyphs">486.0</text>
<line x1="209.60" y1="399.00" x2="209.60" y2="402.00" stroke="#000" stroke-width="1.5" stroke-linecap="butt"/>
<text x="209.60" y="414.60" font-size="12.80" fill="#111" text-anchor="middle" font-weight="bold" textLength="32.5" lengthAdjust="spacingAndGlyphs">482.4</text>
<line x1="74.33" y1="399.00" x2="74.33" y2="401.10" stroke="#000" stroke-width="1.5" stroke-linecap="butt"/>
<line x1="112.98" y1="399.00" x2="112.98" y2="401.10" stroke="#000" stroke-width="1.5" stroke-linecap="butt"/>
<line x1="151.62" y1="399.00" x2="151.62" y2="401.10" stroke="#000" stroke-width="1.5" stroke-linecap="butt"/>
<line x1="190.27" y1="399.00" x2="190.27" y2="401.10" stroke="#000" stroke-width="1.5" stroke-linecap="butt"/>
<text x="129.00" y="431.40" font-size="13.30" fill="#111" text-anchor="middle" font-weight="bold" textLength="120.0" lengthAdjust="spacingAndGlyphs">Binding energy(eV)</text>
<text x="20.40" y="320.40" font-size="13.30" fill="#111" text-anchor="middle" font-weight="bold" textLength="88.2" lengthAdjust="spacingAndGlyphs" transform="rotate(-90 20.40 320.40)">Intensity (a.u.)</text>
<path d="M33.00 343.40 L34.00 343.35 L35.00 343.31 L36.00 343.26 L37.00 343.21 L38.00 343.15 L39.00 343.10 L40.00 343.03 L41.00 342.97 L42.00 342.89 L43.00 342.81 L44.00 342.72 L45.00 342.61 L46.00 342.50 L47.00 342.36 L48.00 342.21 L49.00 342.03 L50.00 341.83 L51.00 341.59 L52.00 341.32 L53.00 340.99 L54.00 340.61 L55.00 340.15 L56.00 339.59 L57.00 338.91 L58.00 338.05 L59.00 336.96 L60.00 335.54 L61.00 333.70 L62.00 331.28 L63.00 328.13 L64.00 324.08 L65.00 318.97 L66.00 312.72 L67.00 305.39 L68.00 297.39 L69.00 289.66 L70.00 283.83 L71.00 281.64 L72.00 283.92 L73.00 289.85 L74.00 297.67 L75.00 305.77 L76.00 313.19 L77.00 319.54 L78.00 324.74 L79.00 328.88 L80.00 332.12 L81.00 334.62 L82.00 336.55 L83.00 338.05 L84.00 339.22 L85.00 340.16 L86.00 340.92 L87.00 341.55 L88.00 342.09 L89.00 342.54 L90.00 342.93 L91.00 343.27 L92.00 343.56 L93.00 343.82 L94.00 344.05 L95.00 344.25 L96.00 344.43 L97.00 344.59 L98.00 344.73 L99.00 344.85 L100.00 344.96 L101.00 345.06 L102.00 345.16 L103.00 345.25 L104.00 345.34 L105.00 345.42 L106.00 345.50 L107.00 345.58 L108.00 345.66 L109.00 345.74 L110.00 345.81 L111.00 345.88 L112.00 345.96 L113.00 346.03 L114.00 346.10 L115.00 346.17 L116.00 346.24 L117.00 346.31 L118.00 346.37 L119.00 346.44 L120.00 346.50 L121.00 346.56 L122.00 346.63 L123.00 346.69 L124.00 346.74 L125.00 346.80 L126.00 346.85 L127.00 346.91 L128.00 346.96 L129.00 347.00 L130.00 347.05 L131.00 347.09 L132.00 347.13 L133.00 347.17 L134.00 347.20 L135.00 347.23 L136.00 347.26 L137.00 347.28 L138.00 347.30 L139.00 347.31 L140.00 347.32 L141.00 347.33 L142.00 347.34 L143.00 347.36 L144.00 347.38 L145.00 347.40 L146.00 347.42 L147.00 347.45 L148.00 347.48 L149.00 347.51 L150.00 347.54 L151.00 347.58 L152.00 347.61 L153.00 347.65 L154.00 347.70 L155.00 347.74 L156.00 347.79 L157.00 347.84 L158.00 347.89 L159.00 347.94 L160.00 347.99 L161.00 348.05 L162.00 348.10 L163.00 348.16 L164.00 348.22 L165.00 348.28 L166.00 348.35 L167.00 348.41 L168.00 348.48 L169.00 348.54 L170.00 348.61 L171.00 348.68 L172.00 348.74 L173.00 348.81 L174.00 348.88 L175.00 348.95 L176.00 349.02 L177.00 349.10 L178.00 349.17 L179.00 349.24 L180.00 349.31 L181.00 349.38 L182.00 349.46 L183.00 349.53 L184.00 349.60 L185.00 349.67 L186.00 349.75 L187.00 349.82 L188.00 349.89 L189.00 349.96 L190.00 350.03 L191.00 350.10 L192.00 350.17 L193.00 350.24 L194.00 350.30 L195.00 350.37 L196.00 350.44 L197.00 350.50 L198.00 350.56 L199.00 350.63 L200.00 350.69 L201.00 350.74 L202.00 350.80 L203.00 350.86 L204.00 350.91 L205.00 350.97 L206.00 351.02 L207.00 351.07 L208.00 351.11 L209.00 351.16 L210.00 351.20 L211.00 351.24 L212.00 351.28 L213.00 351.32 L214.00 351.35 L215.00 351.38 L216.00 351.41 L217.00 351.44 L218.00 351.46 L219.00 351.48 L220.00 351.50 L221.00 351.52 L222.00 351.53 L223.00 351.54 L224.00 351.54 L224.00 351.60 L33.00 344.30 Z" fill="url(#g9)" stroke="none"/>
<path d="M33.00 343.40 L33.50 343.37 L34.00 343.35 L34.50 343.33 L35.00 343.31 L35.50 343.28 L36.00 343.26 L36.50 343.23 L37.00 343.21 L37.50 343.18 L38.00 343.15 L38.50 343.13 L39.00 343.10 L39.50 343.07 L40.00 343.03 L40.50 343.00 L41.00 342.97 L41.50 342.93 L42.00 342.89 L42.50 342.85 L43.00 342.81 L43.50 342.77 L44.00 342.72 L44.50 342.67 L45.00 342.61 L45.50 342.56 L46.00 342.50 L46.50 342.43 L47.00 342.36 L47.50 342.29 L48.00 342.21 L48.50 342.12 L49.00 342.03 L49.50 341.93 L50.00 341.83 L50.50 341.72 L51.00 341.59 L51.50 341.46 L52.00 341.32 L52.50 341.16 L53.00 340.99 L53.50 340.81 L54.00 340.61 L54.50 340.39 L55.00 340.15 L55.50 339.88 L56.00 339.59 L56.50 339.27 L57.00 338.91 L57.50 338.50 L58.00 338.05 L58.50 337.54 L59.00 336.96 L59.50 336.30 L60.00 335.54 L60.50 334.68 L61.00 333.70 L61.50 332.57 L62.00 331.28 L62.50 329.81 L63.00 328.13 L63.50 326.23 L64.00 324.08 L64.50 321.67 L65.00 318.97 L65.50 315.99 L66.00 312.72 L66.50 309.17 L67.00 305.39 L67.50 301.43 L68.00 297.39 L68.50 293.40 L69.00 289.66 L69.50 286.39 L70.00 283.83 L70.50 282.19 L71.00 281.64 L71.50 282.24 L72.00 283.92 L72.50 286.53 L73.00 289.85 L73.50 293.64 L74.00 297.67 L74.50 301.76 L75.00 305.77 L75.50 309.60 L76.00 313.19 L76.50 316.51 L77.00 319.54 L77.50 322.28 L78.00 324.74 L78.50 326.93 L79.00 328.88 L79.50 330.60 L80.00 332.12 L80.50 333.45 L81.00 334.62 L81.50 335.65 L82.00 336.55 L82.50 337.35 L83.00 338.05 L83.50 338.67 L84.00 339.22 L84.50 339.72 L85.00 340.16 L85.50 340.56 L86.00 340.92 L86.50 341.25 L87.00 341.55 L87.50 341.83 L88.00 342.09 L88.50 342.32 L89.00 342.54 L89.50 342.74 L90.00 342.93 L90.50 343.10 L91.00 343.27 L91.50 343.42 L92.00 343.56 L92.50 343.70 L93.00 343.82 L93.50 343.94 L94.00 344.05 L94.50 344.16 L95.00 344.25 L95.50 344.35 L96.00 344.43 L96.50 344.51 L97.00 344.59 L97.50 344.66 L98.00 344.73 L98.50 344.79 L99.00 344.85 L99.50 344.91 L100.00 344.96 L100.50 345.01 L101.00 345.06 L101.50 345.11 L102.00 345.16 L102.50 345.20 L103.00 345.25 L103.50 345.29 L104.00 345.34 L104.50 345.38 L105.00 345.42 L105.50 345.46 L106.00 345.50 L106.50 345.54 L107.00 345.58 L107.50 345.62 L108.00 345.66 L108.50 345.70 L109.00 345.74 L109.50 345.77 L110.00 345.81 L110.50 345.85 L111.00 345.88 L111.50 345.92 L112.00 345.96 L112.50 345.99 L113.00 346.03 L113.50 346.06 L114.00 346.10 L114.50 346.13 L115.00 346.17 L115.50 346.20 L116.00 346.24 L116.50 346.27 L117.00 346.31 L117.50 346.34 L118.00 346.37 L118.50 346.40 L119.00 346.44 L119.50 346.47 L120.00 346.50 L120.50 346.53 L121.00 346.56 L121.50 346.59 L122.00 346.63 L122.50 346.66 L123.00 346.69 L123.50 346.71 L124.00 346.74 L124.50 346.77 L125.00 346.80 L125.50 346.83 L126.00 346.85 L126.50 346.88 L127.00 346.91 L127.50 346.93 L128.00 346.96 L128.50 346.98 L129.00 347.00 L129.50 347.03 L130.00 347.05 L130.50 347.07 L131.00 347.09 L131.50 347.11 L132.00 347.13 L132.50 347.15 L133.00 347.17 L133.50 347.18 L134.00 347.20 L134.50 347.22 L135.00 347.23 L135.50 347.24 L136.00 347.26 L136.50 347.27 L137.00 347.28 L137.50 347.29 L138.00 347.30 L138.50 347.30 L139.00 347.31 L139.50 347.32 L140.00 347.32 L140.50 347.33 L141.00 347.33 L141.50 347.34 L142.00 347.34 L142.50 347.35 L143.00 347.36 L143.50 347.37 L144.00 347.38 L144.50 347.39 L145.00 347.40 L145.50 347.41 L146.00 347.42 L146.50 347.43 L147.00 347.45 L147.50 347.46 L148.00 347.48 L148.50 347.49 L149.00 347.51 L149.50 347.52 L150.00 347.54 L150.50 347.56 L151.00 347.58 L151.50 347.60 L152.00 347.61 L152.50 347.63 L153.00 347.65 L153.50 347.68 L154.00 347.70 L154.50 347.72 L155.00 347.74 L155.50 347.76 L156.00 347.79 L156.50 347.81 L157.00 347.84 L157.50 347.86 L158.00 347.89 L158.50 347.91 L159.00 347.94 L159.50 347.97 L160.00 347.99 L160.50 348.02 L161.00 348.05 L161.50 348.08 L162.00 348.10 L162.50 348.13 L163.00 348.16 L163.50 348.19 L164.00 348.22 L164.50 348.25 L165.00 348.28 L165.50 348.32 L166.00 348.35 L166.50 348.38 L167.00 348.41 L167.50 348.44 L168.00 348.48 L168.50 348.51 L169.00 348.54 L169.50 348.57 L170.00 348.61 L170.50 348.64 L171.00 348.68 L171.50 348.71 L172.00 348.74 L172.50 348.78 L173.00 348.81 L173.50 348.85 L174.00 348.88 L174.50 348.92 L175.00 348.95 L175.50 348.99 L176.00 349.02 L176.50 349.06 L177.00 349.10 L177.50 349.13 L178.00 349.17 L178.50 349.20 L179.00 349.24 L179.50 349.28 L180.00 349.31 L180.50 349.35 L181.00 349.38 L181.50 349.42 L182.00 349.46 L182.50 349.49 L183.00 349.53 L183.50 349.57 L184.00 349.60 L184.50 349.64 L185.00 349.67 L185.50 349.71 L186.00 349.75 L186.50 349.78 L187.00 349.82 L187.50 349.85 L188.00 349.89 L188.50 349.92 L189.00 349.96 L189.50 349.99 L190.00 350.03 L190.50 350.06 L191.00 350.10 L191.50 350.13 L192.00 350.17 L192.50 350.20 L193.00 350.24 L193.50 350.27 L194.00 350.30 L194.50 350.34 L195.00 350.37 L195.50 350.40 L196.00 350.44 L196.50 350.47 L197.00 350.50 L197.50 350.53 L198.00 350.56 L198.50 350.59 L199.00 350.63 L199.50 350.66 L200.00 350.69 L200.50 350.72 L201.00 350.74 L201.50 350.77 L202.00 350.80 L202.50 350.83 L203.00 350.86 L203.50 350.89 L204.00 350.91 L204.50 350.94 L205.00 350.97 L205.50 350.99 L206.00 351.02 L206.50 351.04 L207.00 351.07 L207.50 351.09 L208.00 351.11 L208.50 351.14 L209.00 351.16 L209.50 351.18 L210.00 351.20 L210.50 351.22 L211.00 351.24 L211.50 351.26 L212.00 351.28 L212.50 351.30 L213.00 351.32 L213.50 351.33 L214.00 351.35 L214.50 351.37 L215.00 351.38 L215.50 351.40 L216.00 351.41 L216.50 351.43 L217.00 351.44 L217.50 351.45 L218.00 351.46 L218.50 351.47 L219.00 351.48 L219.50 351.49 L220.00 351.50 L220.50 351.51 L221.00 351.52 L221.50 351.52 L222.00 351.53 L222.50 351.53 L223.00 351.54 L223.50 351.54 L224.00 351.54" fill="none" stroke="#E2A030" stroke-width="5" stroke-opacity="0.45" clip-path="url(#clipc1)"/>
<path d="M33.00 343.45 L33.50 343.43 L34.00 343.41 L34.50 343.39 L35.00 343.37 L35.50 343.34 L36.00 343.32 L36.50 343.30 L37.00 343.28 L37.50 343.26 L38.00 343.23 L38.50 343.21 L39.00 343.18 L39.50 343.16 L40.00 343.13 L40.50 343.10 L41.00 343.07 L41.50 343.04 L42.00 343.01 L42.50 342.98 L43.00 342.94 L43.50 342.91 L44.00 342.87 L44.50 342.82 L45.00 342.78 L45.50 342.73 L46.00 342.68 L46.50 342.63 L47.00 342.57 L47.50 342.51 L48.00 342.45 L48.50 342.38 L49.00 342.31 L49.50 342.23 L50.00 342.14 L50.50 342.05 L51.00 341.95 L51.50 341.85 L52.00 341.74 L52.50 341.61 L53.00 341.48 L53.50 341.34 L54.00 341.18 L54.50 341.01 L55.00 340.83 L55.50 340.63 L56.00 340.41 L56.50 340.17 L57.00 339.90 L57.50 339.61 L58.00 339.28 L58.50 338.92 L59.00 338.52 L59.50 338.06 L60.00 337.55 L60.50 336.97 L61.00 336.31 L61.50 335.56 L62.00 334.71 L62.50 333.73 L63.00 332.62 L63.50 331.35 L64.00 329.90 L64.50 328.25 L65.00 326.39 L65.50 324.29 L66.00 321.94 L66.50 319.33 L67.00 316.44 L67.50 313.28 L68.00 309.86 L68.50 306.22 L69.00 302.40 L69.50 298.50 L70.00 294.64 L70.50 290.99 L71.00 287.76 L71.50 285.17 L72.00 283.43 L72.50 282.69 L73.00 283.04 L73.50 284.44 L74.00 286.76 L74.50 289.81 L75.00 293.37 L75.50 297.21 L76.00 301.16 L76.50 305.07 L77.00 308.84 L77.50 312.40 L78.00 315.71 L78.50 318.75 L79.00 321.52 L79.50 324.02 L80.00 326.26 L80.50 328.26 L81.00 330.03 L81.50 331.60 L82.00 332.98 L82.50 334.20 L83.00 335.27 L83.50 336.22 L84.00 337.05 L84.50 337.78 L85.00 338.43 L85.50 339.01 L86.00 339.53 L86.50 339.99 L87.00 340.41 L87.50 340.78 L88.00 341.12 L88.50 341.44 L89.00 341.72 L89.50 341.99 L90.00 342.23 L90.50 342.45 L91.00 342.66 L91.50 342.85 L92.00 343.03 L92.50 343.20 L93.00 343.36 L93.50 343.50 L94.00 343.64 L94.50 343.77 L95.00 343.89 L95.50 344.00 L96.00 344.10 L96.50 344.20 L97.00 344.29 L97.50 344.38 L98.00 344.46 L98.50 344.54 L99.00 344.61 L99.50 344.68 L100.00 344.75 L100.50 344.81 L101.00 344.86 L101.50 344.92 L102.00 344.98 L102.50 345.03 L103.00 345.08 L103.50 345.13 L104.00 345.18 L104.50 345.23 L105.00 345.28 L105.50 345.33 L106.00 345.37 L106.50 345.42 L107.00 345.46 L107.50 345.51 L108.00 345.55 L108.50 345.59 L109.00 345.63 L109.50 345.67 L110.00 345.71 L110.50 345.76 L111.00 345.79 L111.50 345.83 L112.00 345.87 L112.50 345.91 L113.00 345.95 L113.50 345.99 L114.00 346.03 L114.50 346.06 L115.00 346.10 L115.50 346.14 L116.00 346.17 L116.50 346.21 L117.00 346.24 L117.50 346.28 L118.00 346.31 L118.50 346.35 L119.00 346.38 L119.50 346.42 L120.00 346.45 L120.50 346.48 L121.00 346.52 L121.50 346.55 L122.00 346.58 L122.50 346.61 L123.00 346.64 L123.50 346.67 L124.00 346.70 L124.50 346.73 L125.00 346.76 L125.50 346.79 L126.00 346.82 L126.50 346.84 L127.00 346.87 L127.50 346.90 L128.00 346.92 L128.50 346.95 L129.00 346.97 L129.50 346.99 L130.00 347.02 L130.50 347.04 L131.00 347.06 L131.50 347.08 L132.00 347.10 L132.50 347.12 L133.00 347.14 L133.50 347.16 L134.00 347.17 L134.50 347.19 L135.00 347.20 L135.50 347.22 L136.00 347.23 L136.50 347.24 L137.00 347.26 L137.50 347.27 L138.00 347.27 L138.50 347.28 L139.00 347.29 L139.50 347.30 L140.00 347.30 L140.50 347.31 L141.00 347.31 L141.50 347.32 L142.00 347.32 L142.50 347.33 L143.00 347.34 L143.50 347.35 L144.00 347.36 L144.50 347.37 L145.00 347.38 L145.50 347.39 L146.00 347.40 L146.50 347.42 L147.00 347.43 L147.50 347.45 L148.00 347.46 L148.50 347.48 L149.00 347.49 L149.50 347.51 L150.00 347.53 L150.50 347.54 L151.00 347.56 L151.50 347.58 L152.00 347.60 L152.50 347.62 L153.00 347.64 L153.50 347.66 L154.00 347.68 L154.50 347.71 L155.00 347.73 L155.50 347.75 L156.00 347.78 L156.50 347.80 L157.00 347.83 L157.50 347.85 L158.00 347.88 L158.50 347.90 L159.00 347.93 L159.50 347.95 L160.00 347.98 L160.50 348.01 L161.00 348.04 L161.50 348.07 L162.00 348.09 L162.50 348.12 L163.00 348.15 L163.50 348.18 L164.00 348.21 L164.50 348.24 L165.00 348.28 L165.50 348.31 L166.00 348.34 L166.50 348.37 L167.00 348.40 L167.50 348.43 L168.00 348.47 L168.50 348.50 L169.00 348.53 L169.50 348.57 L170.00 348.60 L170.50 348.63 L171.00 348.67 L171.50 348.70 L172.00 348.74 L172.50 348.77 L173.00 348.81 L173.50 348.84 L174.00 348.88 L174.50 348.91 L175.00 348.95 L175.50 348.98 L176.00 349.02 L176.50 349.05 L177.00 349.09 L177.50 349.12 L178.00 349.16 L178.50 349.20 L179.00 349.23 L179.50 349.27 L180.00 349.31 L180.50 349.34 L181.00 349.38 L181.50 349.41 L182.00 349.45 L182.50 349.49 L183.00 349.52 L183.50 349.56 L184.00 349.60 L184.50 349.63 L185.00 349.67 L185.50 349.70 L186.00 349.74 L186.50 349.78 L187.00 349.81 L187.50 349.85 L188.00 349.88 L188.50 349.92 L189.00 349.95 L189.50 349.99 L190.00 350.03 L190.50 350.06 L191.00 350.09 L191.50 350.13 L192.00 350.16 L192.50 350.20 L193.00 350.23 L193.50 350.27 L194.00 350.30 L194.50 350.33 L195.00 350.37 L195.50 350.40 L196.00 350.43 L196.50 350.46 L197.00 350.50 L197.50 350.53 L198.00 350.56 L198.50 350.59 L199.00 350.62 L199.50 350.65 L200.00 350.68 L200.50 350.71 L201.00 350.74 L201.50 350.77 L202.00 350.80 L202.50 350.83 L203.00 350.85 L203.50 350.88 L204.00 350.91 L204.50 350.94 L205.00 350.96 L205.50 350.99 L206.00 351.01 L206.50 351.04 L207.00 351.06 L207.50 351.09 L208.00 351.11 L208.50 351.13 L209.00 351.15 L209.50 351.18 L210.00 351.20 L210.50 351.22 L211.00 351.24 L211.50 351.26 L212.00 351.28 L212.50 351.30 L213.00 351.31 L213.50 351.33 L214.00 351.35 L214.50 351.36 L215.00 351.38 L215.50 351.39 L216.00 351.41 L216.50 351.42 L217.00 351.44 L217.50 351.45 L218.00 351.46 L218.50 351.47 L219.00 351.48 L219.50 351.49 L220.00 351.50 L220.50 351.51 L221.00 351.51 L221.50 351.52 L222.00 351.52 L222.50 351.53 L223.00 351.53 L223.50 351.54 L224.00 351.54" fill="none" stroke="#111" stroke-width="1.8" stroke-linejoin="round" stroke-linecap="round"/>
<path d="M33.00 343.40 L34.00 343.35 L35.00 343.31 L36.00 343.26 L37.00 343.21 L38.00 343.15 L39.00 343.10 L40.00 343.03 L41.00 342.97 L42.00 342.89 L43.00 342.81 L44.00 342.72 L45.00 342.61 L46.00 342.50 L47.00 342.36 L48.00 342.21 L49.00 342.03 L50.00 341.83 L51.00 341.59 L52.00 341.32 L53.00 340.99 L54.00 340.61 L55.00 340.15 L56.00 339.59 L57.00 338.91 L58.00 338.05 L59.00 336.96 L60.00 335.54 L61.00 333.70 L62.00 331.28 L63.00 328.13 L64.00 324.08 L65.00 318.97 L66.00 312.72 L67.00 305.39 L68.00 297.39 L69.00 289.66 L70.00 283.83 L71.00 281.64 L72.00 283.92 L73.00 289.85 L74.00 297.67 L75.00 305.77 L76.00 313.19 L77.00 319.54 L78.00 324.74 L79.00 328.88 L80.00 332.12 L81.00 334.62 L82.00 336.55 L83.00 338.05 L84.00 339.22 L85.00 340.16 L86.00 340.92 L87.00 341.55 L88.00 342.09 L89.00 342.54 L90.00 342.93 L91.00 343.27 L92.00 343.56 L93.00 343.82 L94.00 344.05 L95.00 344.25 L96.00 344.43 L97.00 344.59 L98.00 344.73 L99.00 344.85 L100.00 344.96 L101.00 345.06 L102.00 345.16 L103.00 345.25 L104.00 345.34 L105.00 345.42 L106.00 345.50 L107.00 345.58 L108.00 345.66 L109.00 345.74 L110.00 345.81 L111.00 345.88 L112.00 345.96 L113.00 346.03 L114.00 346.10 L115.00 346.17 L116.00 346.24 L117.00 346.31 L118.00 346.37 L119.00 346.44 L120.00 346.50 L121.00 346.56 L122.00 346.63 L123.00 346.69 L124.00 346.74 L125.00 346.80 L126.00 346.85 L127.00 346.91 L128.00 346.96 L129.00 347.00 L130.00 347.05 L131.00 347.09 L132.00 347.13 L133.00 347.17 L134.00 347.20 L135.00 347.23 L136.00 347.26 L137.00 347.28 L138.00 347.30 L139.00 347.31 L140.00 347.32 L141.00 347.33 L142.00 347.34 L143.00 347.36 L144.00 347.38 L145.00 347.40 L146.00 347.42 L147.00 347.45 L148.00 347.48 L149.00 347.51 L150.00 347.54 L151.00 347.58 L152.00 347.61 L153.00 347.65 L154.00 347.70 L155.00 347.74 L156.00 347.79 L157.00 347.84 L158.00 347.89 L159.00 347.94 L160.00 347.99 L161.00 348.05 L162.00 348.10 L163.00 348.16 L164.00 348.22 L165.00 348.28 L166.00 348.35 L167.00 348.41 L168.00 348.48 L169.00 348.54 L170.00 348.61 L171.00 348.68 L172.00 348.74 L173.00 348.81 L174.00 348.88 L175.00 348.95 L176.00 349.02 L177.00 349.10 L178.00 349.17 L179.00 349.24 L180.00 349.31 L181.00 349.38 L182.00 349.46 L183.00 349.53 L184.00 349.60 L185.00 349.67 L186.00 349.75 L187.00 349.82 L188.00 349.89 L189.00 349.96 L190.00 350.03 L191.00 350.10 L192.00 350.17 L193.00 350.24 L194.00 350.30 L195.00 350.37 L196.00 350.44 L197.00 350.50 L198.00 350.56 L199.00 350.63 L200.00 350.69 L201.00 350.74 L202.00 350.80 L203.00 350.86 L204.00 350.91 L205.00 350.97 L206.00 351.02 L207.00 351.07 L208.00 351.11 L209.00 351.16 L210.00 351.20 L211.00 351.24 L212.00 351.28 L213.00 351.32 L214.00 351.35 L215.00 351.38 L216.00 351.41 L217.00 351.44 L218.00 351.46 L219.00 351.48 L220.00 351.50 L221.00 351.52 L222.00 351.53 L223.00 351.54 L224.00 351.54" fill="none" stroke="#E0A526" stroke-width="2.0" stroke-linejoin="round" stroke-linecap="round"/>
<path d="M33.00 344.16 L34.00 344.16 L35.00 344.16 L36.00 344.17 L37.00 344.18 L38.00 344.19 L39.00 344.21 L40.00 344.22 L41.00 344.24 L42.00 344.26 L43.00 344.28 L44.00 344.31 L45.00 344.33 L46.00 344.36 L47.00 344.39 L48.00 344.42 L49.00 344.45 L50.00 344.49 L51.00 344.52 L52.00 344.56 L53.00 344.60 L54.00 344.63 L55.00 344.67 L56.00 344.71 L57.00 344.75 L58.00 344.80 L59.00 344.84 L60.00 344.88 L61.00 344.92 L62.00 344.97 L63.00 345.01 L64.00 345.05 L65.00 345.10 L66.00 345.14 L67.00 345.18 L68.00 345.22 L69.00 345.27 L70.00 345.31 L71.00 345.35 L72.00 345.39 L73.00 345.43 L74.00 345.47 L75.00 345.51 L76.00 345.55 L77.00 345.58 L78.00 345.62 L79.00 345.65 L80.00 345.68 L81.00 345.71 L82.00 345.74 L83.00 345.77 L84.00 345.80 L85.00 345.82 L86.00 345.84 L87.00 345.86 L88.00 345.88 L89.00 345.90 L90.00 345.91 L91.00 345.92 L92.00 345.93 L93.00 345.93 L94.00 345.93 L95.00 345.93 L96.00 345.93 L97.00 345.92 L98.00 345.91 L99.00 345.90 L100.00 345.88 L101.00 345.86 L102.00 345.84 L103.00 345.83 L104.00 345.82 L105.00 345.81 L106.00 345.81 L107.00 345.80 L108.00 345.80 L109.00 345.79 L110.00 345.79 L111.00 345.79 L112.00 345.79 L113.00 345.78 L114.00 345.78 L115.00 345.78 L116.00 345.77 L117.00 345.76 L118.00 345.75 L119.00 345.73 L120.00 345.71 L121.00 345.69 L122.00 345.66 L123.00 345.63 L124.00 345.59 L125.00 345.54 L126.00 345.49 L127.00 345.42 L128.00 345.35 L129.00 345.26 L130.00 345.16 L131.00 345.05 L132.00 344.92 L133.00 344.78 L134.00 344.61 L135.00 344.42 L136.00 344.20 L137.00 343.96 L138.00 343.68 L139.00 343.36 L140.00 343.00 L141.00 342.58 L142.00 342.12 L143.00 341.58 L144.00 340.97 L145.00 340.25 L146.00 339.41 L147.00 338.40 L148.00 337.17 L149.00 335.65 L150.00 333.74 L151.00 331.33 L152.00 328.25 L153.00 324.33 L154.00 319.38 L155.00 313.21 L156.00 305.65 L157.00 296.65 L158.00 286.35 L159.00 275.26 L160.00 264.50 L161.00 255.89 L162.00 251.53 L163.00 252.72 L164.00 259.12 L165.00 268.96 L166.00 280.14 L167.00 291.12 L168.00 301.04 L169.00 309.57 L170.00 316.67 L171.00 322.43 L172.00 327.05 L173.00 330.71 L174.00 333.60 L175.00 335.90 L176.00 337.73 L177.00 339.22 L178.00 340.44 L179.00 341.47 L180.00 342.34 L181.00 343.10 L182.00 343.76 L183.00 344.34 L184.00 344.86 L185.00 345.32 L186.00 345.74 L187.00 346.12 L188.00 346.47 L189.00 346.79 L190.00 347.08 L191.00 347.35 L192.00 347.60 L193.00 347.83 L194.00 348.04 L195.00 348.25 L196.00 348.44 L197.00 348.61 L198.00 348.78 L199.00 348.94 L200.00 349.09 L201.00 349.23 L202.00 349.37 L203.00 349.49 L204.00 349.61 L205.00 349.73 L206.00 349.84 L207.00 349.94 L208.00 350.04 L209.00 350.13 L210.00 350.22 L211.00 350.30 L212.00 350.38 L213.00 350.45 L214.00 350.52 L215.00 350.58 L216.00 350.64 L217.00 350.70 L218.00 350.75 L219.00 350.79 L220.00 350.84 L221.00 350.87 L222.00 350.91 L223.00 350.94 L224.00 350.96 L224.00 351.60 L33.00 344.30 Z" fill="url(#g10)" stroke="none"/>
<path d="M33.00 344.16 L33.50 344.16 L34.00 344.16 L34.50 344.16 L35.00 344.16 L35.50 344.17 L36.00 344.17 L36.50 344.17 L37.00 344.18 L37.50 344.18 L38.00 344.19 L38.50 344.20 L39.00 344.21 L39.50 344.21 L40.00 344.22 L40.50 344.23 L41.00 344.24 L41.50 344.25 L42.00 344.26 L42.50 344.27 L43.00 344.28 L43.50 344.30 L44.00 344.31 L44.50 344.32 L45.00 344.33 L45.50 344.35 L46.00 344.36 L46.50 344.38 L47.00 344.39 L47.50 344.41 L48.00 344.42 L48.50 344.44 L49.00 344.45 L49.50 344.47 L50.00 344.49 L50.50 344.51 L51.00 344.52 L51.50 344.54 L52.00 344.56 L52.50 344.58 L53.00 344.60 L53.50 344.62 L54.00 344.63 L54.50 344.65 L55.00 344.67 L55.50 344.69 L56.00 344.71 L56.50 344.73 L57.00 344.75 L57.50 344.78 L58.00 344.80 L58.50 344.82 L59.00 344.84 L59.50 344.86 L60.00 344.88 L60.50 344.90 L61.00 344.92 L61.50 344.94 L62.00 344.97 L62.50 344.99 L63.00 345.01 L63.50 345.03 L64.00 345.05 L64.50 345.07 L65.00 345.10 L65.50 345.12 L66.00 345.14 L66.50 345.16 L67.00 345.18 L67.50 345.20 L68.00 345.22 L68.50 345.25 L69.00 345.27 L69.50 345.29 L70.00 345.31 L70.50 345.33 L71.00 345.35 L71.50 345.37 L72.00 345.39 L72.50 345.41 L73.00 345.43 L73.50 345.45 L74.00 345.47 L74.50 345.49 L75.00 345.51 L75.50 345.53 L76.00 345.55 L76.50 345.56 L77.00 345.58 L77.50 345.60 L78.00 345.62 L78.50 345.63 L79.00 345.65 L79.50 345.67 L80.00 345.68 L80.50 345.70 L81.00 345.71 L81.50 345.73 L82.00 345.74 L82.50 345.76 L83.00 345.77 L83.50 345.78 L84.00 345.80 L84.50 345.81 L85.00 345.82 L85.50 345.83 L86.00 345.84 L86.50 345.85 L87.00 345.86 L87.50 345.87 L88.00 345.88 L88.50 345.89 L89.00 345.90 L89.50 345.90 L90.00 345.91 L90.50 345.91 L91.00 345.92 L91.50 345.92 L92.00 345.93 L92.50 345.93 L93.00 345.93 L93.50 345.93 L94.00 345.93 L94.50 345.93 L95.00 345.93 L95.50 345.93 L96.00 345.93 L96.50 345.93 L97.00 345.92 L97.50 345.92 L98.00 345.91 L98.50 345.90 L99.00 345.90 L99.50 345.89 L100.00 345.88 L100.50 345.87 L101.00 345.86 L101.50 345.85 L102.00 345.84 L102.50 345.84 L103.00 345.83 L103.50 345.83 L104.00 345.82 L104.50 345.82 L105.00 345.81 L105.50 345.81 L106.00 345.81 L106.50 345.80 L107.00 345.80 L107.50 345.80 L108.00 345.80 L108.50 345.80 L109.00 345.79 L109.50 345.79 L110.00 345.79 L110.50 345.79 L111.00 345.79 L111.50 345.79 L112.00 345.79 L112.50 345.79 L113.00 345.78 L113.50 345.78 L114.00 345.78 L114.50 345.78 L115.00 345.78 L115.50 345.77 L116.00 345.77 L116.50 345.76 L117.00 345.76 L117.50 345.75 L118.00 345.75 L118.50 345.74 L119.00 345.73 L119.50 345.72 L120.00 345.71 L120.50 345.70 L121.00 345.69 L121.50 345.68 L122.00 345.66 L122.50 345.65 L123.00 345.63 L123.50 345.61 L124.00 345.59 L124.50 345.57 L125.00 345.54 L125.50 345.51 L126.00 345.49 L126.50 345.46 L127.00 345.42 L127.50 345.39 L128.00 345.35 L128.50 345.31 L129.00 345.26 L129.50 345.21 L130.00 345.16 L130.50 345.11 L131.00 345.05 L131.50 344.99 L132.00 344.92 L132.50 344.85 L133.00 344.78 L133.50 344.70 L134.00 344.61 L134.50 344.52 L135.00 344.42 L135.50 344.31 L136.00 344.20 L136.50 344.08 L137.00 343.96 L137.50 343.82 L138.00 343.68 L138.50 343.52 L139.00 343.36 L139.50 343.18 L140.00 343.00 L140.50 342.80 L141.00 342.58 L141.50 342.36 L142.00 342.12 L142.50 341.86 L143.00 341.58 L143.50 341.29 L144.00 340.97 L144.50 340.63 L145.00 340.25 L145.50 339.85 L146.00 339.41 L146.50 338.93 L147.00 338.40 L147.50 337.82 L148.00 337.17 L148.50 336.45 L149.00 335.65 L149.50 334.75 L150.00 333.74 L150.50 332.61 L151.00 331.33 L151.50 329.88 L152.00 328.25 L152.50 326.41 L153.00 324.33 L153.50 322.00 L154.00 319.38 L154.50 316.46 L155.00 313.21 L155.50 309.61 L156.00 305.65 L156.50 301.33 L157.00 296.65 L157.50 291.65 L158.00 286.35 L158.50 280.85 L159.00 275.26 L159.50 269.74 L160.00 264.50 L160.50 259.79 L161.00 255.89 L161.50 253.06 L162.00 251.53 L162.50 251.41 L163.00 252.72 L163.50 255.36 L164.00 259.12 L164.50 263.75 L165.00 268.96 L165.50 274.49 L166.00 280.14 L166.50 285.72 L167.00 291.12 L167.50 296.24 L168.00 301.04 L168.50 305.49 L169.00 309.57 L169.50 313.29 L170.00 316.67 L170.50 319.71 L171.00 322.43 L171.50 324.87 L172.00 327.05 L172.50 328.99 L173.00 330.71 L173.50 332.24 L174.00 333.60 L174.50 334.81 L175.00 335.90 L175.50 336.86 L176.00 337.73 L176.50 338.51 L177.00 339.22 L177.50 339.86 L178.00 340.44 L178.50 340.98 L179.00 341.47 L179.50 341.92 L180.00 342.34 L180.50 342.73 L181.00 343.10 L181.50 343.44 L182.00 343.76 L182.50 344.06 L183.00 344.34 L183.50 344.61 L184.00 344.86 L184.50 345.10 L185.00 345.32 L185.50 345.54 L186.00 345.74 L186.50 345.94 L187.00 346.12 L187.50 346.30 L188.00 346.47 L188.50 346.63 L189.00 346.79 L189.50 346.93 L190.00 347.08 L190.50 347.21 L191.00 347.35 L191.50 347.47 L192.00 347.60 L192.50 347.71 L193.00 347.83 L193.50 347.94 L194.00 348.04 L194.50 348.15 L195.00 348.25 L195.50 348.34 L196.00 348.44 L196.50 348.53 L197.00 348.61 L197.50 348.70 L198.00 348.78 L198.50 348.86 L199.00 348.94 L199.50 349.02 L200.00 349.09 L200.50 349.16 L201.00 349.23 L201.50 349.30 L202.00 349.37 L202.50 349.43 L203.00 349.49 L203.50 349.55 L204.00 349.61 L204.50 349.67 L205.00 349.73 L205.50 349.78 L206.00 349.84 L206.50 349.89 L207.00 349.94 L207.50 349.99 L208.00 350.04 L208.50 350.08 L209.00 350.13 L209.50 350.17 L210.00 350.22 L210.50 350.26 L211.00 350.30 L211.50 350.34 L212.00 350.38 L212.50 350.41 L213.00 350.45 L213.50 350.48 L214.00 350.52 L214.50 350.55 L215.00 350.58 L215.50 350.61 L216.00 350.64 L216.50 350.67 L217.00 350.70 L217.50 350.72 L218.00 350.75 L218.50 350.77 L219.00 350.79 L219.50 350.82 L220.00 350.84 L220.50 350.86 L221.00 350.87 L221.50 350.89 L222.00 350.91 L222.50 350.92 L223.00 350.94 L223.50 350.95 L224.00 350.96" fill="none" stroke="#9A40F0" stroke-width="5" stroke-opacity="0.45" clip-path="url(#clipc2)"/>
<path d="M33.00 344.16 L33.50 344.16 L34.00 344.16 L34.50 344.16 L35.00 344.16 L35.50 344.17 L36.00 344.17 L36.50 344.17 L37.00 344.18 L37.50 344.19 L38.00 344.19 L38.50 344.20 L39.00 344.21 L39.50 344.21 L40.00 344.22 L40.50 344.23 L41.00 344.24 L41.50 344.25 L42.00 344.26 L42.50 344.27 L43.00 344.28 L43.50 344.30 L44.00 344.31 L44.50 344.32 L45.00 344.33 L45.50 344.35 L46.00 344.36 L46.50 344.38 L47.00 344.39 L47.50 344.41 L48.00 344.42 L48.50 344.44 L49.00 344.46 L49.50 344.47 L50.00 344.49 L50.50 344.51 L51.00 344.52 L51.50 344.54 L52.00 344.56 L52.50 344.58 L53.00 344.60 L53.50 344.62 L54.00 344.64 L54.50 344.66 L55.00 344.68 L55.50 344.69 L56.00 344.72 L56.50 344.74 L57.00 344.76 L57.50 344.78 L58.00 344.80 L58.50 344.82 L59.00 344.84 L59.50 344.86 L60.00 344.88 L60.50 344.90 L61.00 344.92 L61.50 344.95 L62.00 344.97 L62.50 344.99 L63.00 345.01 L63.50 345.03 L64.00 345.05 L64.50 345.08 L65.00 345.10 L65.50 345.12 L66.00 345.14 L66.50 345.16 L67.00 345.18 L67.50 345.21 L68.00 345.23 L68.50 345.25 L69.00 345.27 L69.50 345.29 L70.00 345.31 L70.50 345.33 L71.00 345.35 L71.50 345.37 L72.00 345.39 L72.50 345.41 L73.00 345.43 L73.50 345.45 L74.00 345.47 L74.50 345.49 L75.00 345.51 L75.50 345.53 L76.00 345.55 L76.50 345.57 L77.00 345.59 L77.50 345.60 L78.00 345.62 L78.50 345.64 L79.00 345.66 L79.50 345.67 L80.00 345.69 L80.50 345.70 L81.00 345.72 L81.50 345.73 L82.00 345.75 L82.50 345.76 L83.00 345.78 L83.50 345.79 L84.00 345.80 L84.50 345.82 L85.00 345.83 L85.50 345.84 L86.00 345.85 L86.50 345.86 L87.00 345.87 L87.50 345.88 L88.00 345.89 L88.50 345.90 L89.00 345.90 L89.50 345.91 L90.00 345.92 L90.50 345.92 L91.00 345.93 L91.50 345.93 L92.00 345.94 L92.50 345.94 L93.00 345.94 L93.50 345.94 L94.00 345.94 L94.50 345.94 L95.00 345.94 L95.50 345.94 L96.00 345.94 L96.50 345.94 L97.00 345.93 L97.50 345.93 L98.00 345.92 L98.50 345.92 L99.00 345.91 L99.50 345.90 L100.00 345.89 L100.50 345.89 L101.00 345.88 L101.50 345.87 L102.00 345.86 L102.50 345.86 L103.00 345.85 L103.50 345.85 L104.00 345.84 L104.50 345.84 L105.00 345.84 L105.50 345.83 L106.00 345.83 L106.50 345.83 L107.00 345.83 L107.50 345.83 L108.00 345.82 L108.50 345.82 L109.00 345.82 L109.50 345.82 L110.00 345.82 L110.50 345.82 L111.00 345.82 L111.50 345.82 L112.00 345.82 L112.50 345.82 L113.00 345.82 L113.50 345.82 L114.00 345.82 L114.50 345.82 L115.00 345.82 L115.50 345.82 L116.00 345.82 L116.50 345.81 L117.00 345.81 L117.50 345.81 L118.00 345.80 L118.50 345.80 L119.00 345.79 L119.50 345.78 L120.00 345.78 L120.50 345.77 L121.00 345.76 L121.50 345.75 L122.00 345.74 L122.50 345.72 L123.00 345.71 L123.50 345.69 L124.00 345.68 L124.50 345.66 L125.00 345.64 L125.50 345.62 L126.00 345.59 L126.50 345.57 L127.00 345.54 L127.50 345.51 L128.00 345.48 L128.50 345.44 L129.00 345.40 L129.50 345.36 L130.00 345.32 L130.50 345.27 L131.00 345.22 L131.50 345.17 L132.00 345.11 L132.50 345.05 L133.00 344.99 L133.50 344.92 L134.00 344.84 L134.50 344.76 L135.00 344.68 L135.50 344.59 L136.00 344.49 L136.50 344.39 L137.00 344.28 L137.50 344.17 L138.00 344.05 L138.50 343.92 L139.00 343.78 L139.50 343.63 L140.00 343.47 L140.50 343.30 L141.00 343.12 L141.50 342.94 L142.00 342.74 L142.50 342.53 L143.00 342.30 L143.50 342.06 L144.00 341.80 L144.50 341.53 L145.00 341.23 L145.50 340.92 L146.00 340.57 L146.50 340.20 L147.00 339.80 L147.50 339.36 L148.00 338.87 L148.50 338.34 L149.00 337.76 L149.50 337.11 L150.00 336.40 L150.50 335.59 L151.00 334.70 L151.50 333.69 L152.00 332.56 L152.50 331.29 L153.00 329.85 L153.50 328.24 L154.00 326.42 L154.50 324.37 L155.00 322.08 L155.50 319.51 L156.00 316.66 L156.50 313.49 L157.00 309.98 L157.50 306.14 L158.00 301.96 L158.50 297.44 L159.00 292.60 L159.50 287.50 L160.00 282.19 L160.50 276.80 L161.00 271.46 L161.50 266.36 L162.00 261.75 L162.50 257.86 L163.00 254.95 L163.50 253.24 L164.00 252.86 L164.50 253.84 L165.00 256.11 L165.50 259.49 L166.00 263.76 L166.50 268.65 L167.00 273.93 L167.50 279.37 L168.00 284.80 L168.50 290.09 L169.00 295.15 L169.50 299.92 L170.00 304.37 L170.50 308.47 L171.00 312.23 L171.50 315.65 L172.00 318.75 L172.50 321.54 L173.00 324.05 L173.50 326.29 L174.00 328.30 L174.50 330.09 L175.00 331.68 L175.50 333.10 L176.00 334.36 L176.50 335.49 L177.00 336.50 L177.50 337.41 L178.00 338.23 L178.50 338.97 L179.00 339.63 L179.50 340.24 L180.00 340.80 L180.50 341.31 L181.00 341.78 L181.50 342.22 L182.00 342.62 L182.50 343.00 L183.00 343.35 L183.50 343.68 L184.00 343.99 L184.50 344.28 L185.00 344.56 L185.50 344.81 L186.00 345.06 L186.50 345.29 L187.00 345.51 L187.50 345.72 L188.00 345.92 L188.50 346.11 L189.00 346.29 L189.50 346.46 L190.00 346.63 L190.50 346.79 L191.00 346.94 L191.50 347.09 L192.00 347.23 L192.50 347.36 L193.00 347.49 L193.50 347.61 L194.00 347.74 L194.50 347.85 L195.00 347.96 L195.50 348.07 L196.00 348.17 L196.50 348.28 L197.00 348.37 L197.50 348.47 L198.00 348.56 L198.50 348.65 L199.00 348.73 L199.50 348.82 L200.00 348.90 L200.50 348.98 L201.00 349.05 L201.50 349.13 L202.00 349.20 L202.50 349.27 L203.00 349.34 L203.50 349.40 L204.00 349.47 L204.50 349.53 L205.00 349.59 L205.50 349.65 L206.00 349.71 L206.50 349.76 L207.00 349.82 L207.50 349.87 L208.00 349.92 L208.50 349.97 L209.00 350.02 L209.50 350.07 L210.00 350.11 L210.50 350.16 L211.00 350.20 L211.50 350.24 L212.00 350.29 L212.50 350.32 L213.00 350.36 L213.50 350.40 L214.00 350.44 L214.50 350.47 L215.00 350.50 L215.50 350.54 L216.00 350.57 L216.50 350.60 L217.00 350.63 L217.50 350.65 L218.00 350.68 L218.50 350.71 L219.00 350.73 L219.50 350.75 L220.00 350.78 L220.50 350.80 L221.00 350.82 L221.50 350.84 L222.00 350.85 L222.50 350.87 L223.00 350.89 L223.50 350.90 L224.00 350.91" fill="none" stroke="#111" stroke-width="1.8" stroke-linejoin="round" stroke-linecap="round"/>
<path d="M33.00 344.16 L34.00 344.16 L35.00 344.16 L36.00 344.17 L37.00 344.18 L38.00 344.19 L39.00 344.21 L40.00 344.22 L41.00 344.24 L42.00 344.26 L43.00 344.28 L44.00 344.31 L45.00 344.33 L46.00 344.36 L47.00 344.39 L48.00 344.42 L49.00 344.45 L50.00 344.49 L51.00 344.52 L52.00 344.56 L53.00 344.60 L54.00 344.63 L55.00 344.67 L56.00 344.71 L57.00 344.75 L58.00 344.80 L59.00 344.84 L60.00 344.88 L61.00 344.92 L62.00 344.97 L63.00 345.01 L64.00 345.05 L65.00 345.10 L66.00 345.14 L67.00 345.18 L68.00 345.22 L69.00 345.27 L70.00 345.31 L71.00 345.35 L72.00 345.39 L73.00 345.43 L74.00 345.47 L75.00 345.51 L76.00 345.55 L77.00 345.58 L78.00 345.62 L79.00 345.65 L80.00 345.68 L81.00 345.71 L82.00 345.74 L83.00 345.77 L84.00 345.80 L85.00 345.82 L86.00 345.84 L87.00 345.86 L88.00 345.88 L89.00 345.90 L90.00 345.91 L91.00 345.92 L92.00 345.93 L93.00 345.93 L94.00 345.93 L95.00 345.93 L96.00 345.93 L97.00 345.92 L98.00 345.91 L99.00 345.90 L100.00 345.88 L101.00 345.86 L102.00 345.84 L103.00 345.83 L104.00 345.82 L105.00 345.81 L106.00 345.81 L107.00 345.80 L108.00 345.80 L109.00 345.79 L110.00 345.79 L111.00 345.79 L112.00 345.79 L113.00 345.78 L114.00 345.78 L115.00 345.78 L116.00 345.77 L117.00 345.76 L118.00 345.75 L119.00 345.73 L120.00 345.71 L121.00 345.69 L122.00 345.66 L123.00 345.63 L124.00 345.59 L125.00 345.54 L126.00 345.49 L127.00 345.42 L128.00 345.35 L129.00 345.26 L130.00 345.16 L131.00 345.05 L132.00 344.92 L133.00 344.78 L134.00 344.61 L135.00 344.42 L136.00 344.20 L137.00 343.96 L138.00 343.68 L139.00 343.36 L140.00 343.00 L141.00 342.58 L142.00 342.12 L143.00 341.58 L144.00 340.97 L145.00 340.25 L146.00 339.41 L147.00 338.40 L148.00 337.17 L149.00 335.65 L150.00 333.74 L151.00 331.33 L152.00 328.25 L153.00 324.33 L154.00 319.38 L155.00 313.21 L156.00 305.65 L157.00 296.65 L158.00 286.35 L159.00 275.26 L160.00 264.50 L161.00 255.89 L162.00 251.53 L163.00 252.72 L164.00 259.12 L165.00 268.96 L166.00 280.14 L167.00 291.12 L168.00 301.04 L169.00 309.57 L170.00 316.67 L171.00 322.43 L172.00 327.05 L173.00 330.71 L174.00 333.60 L175.00 335.90 L176.00 337.73 L177.00 339.22 L178.00 340.44 L179.00 341.47 L180.00 342.34 L181.00 343.10 L182.00 343.76 L183.00 344.34 L184.00 344.86 L185.00 345.32 L186.00 345.74 L187.00 346.12 L188.00 346.47 L189.00 346.79 L190.00 347.08 L191.00 347.35 L192.00 347.60 L193.00 347.83 L194.00 348.04 L195.00 348.25 L196.00 348.44 L197.00 348.61 L198.00 348.78 L199.00 348.94 L200.00 349.09 L201.00 349.23 L202.00 349.37 L203.00 349.49 L204.00 349.61 L205.00 349.73 L206.00 349.84 L207.00 349.94 L208.00 350.04 L209.00 350.13 L210.00 350.22 L211.00 350.30 L212.00 350.38 L213.00 350.45 L214.00 350.52 L215.00 350.58 L216.00 350.64 L217.00 350.70 L218.00 350.75 L219.00 350.79 L220.00 350.84 L221.00 350.87 L222.00 350.91 L223.00 350.94 L224.00 350.96" fill="none" stroke="#A050F0" stroke-width="2.0" stroke-linejoin="round" stroke-linecap="round"/>
<path d="M33.00 371.98 L34.00 371.99 L35.00 372.01 L36.00 372.02 L37.00 372.03 L38.00 372.05 L39.00 372.06 L40.00 372.07 L41.00 372.08 L42.00 372.10 L43.00 372.11 L44.00 372.12 L45.00 372.13 L46.00 372.14 L47.00 372.15 L48.00 372.16 L49.00 372.17 L50.00 372.18 L51.00 372.18 L52.00 372.19 L53.00 372.19 L54.00 372.19 L55.00 372.17 L56.00 372.15 L57.00 372.11 L58.00 372.04 L59.00 371.93 L60.00 371.76 L61.00 371.52 L62.00 371.19 L63.00 370.73 L64.00 370.13 L65.00 369.37 L66.00 368.44 L67.00 367.33 L68.00 366.09 L69.00 364.73 L70.00 363.32 L71.00 361.93 L72.00 360.66 L73.00 359.59 L74.00 358.82 L75.00 358.42 L76.00 358.44 L77.00 358.87 L78.00 359.67 L79.00 360.76 L80.00 362.07 L81.00 363.49 L82.00 364.93 L83.00 366.32 L84.00 367.60 L85.00 368.73 L86.00 369.69 L87.00 370.49 L88.00 371.12 L89.00 371.61 L90.00 371.97 L91.00 372.24 L92.00 372.44 L93.00 372.58 L94.00 372.68 L95.00 372.76 L96.00 372.81 L97.00 372.85 L98.00 372.89 L99.00 372.92 L100.00 372.95 L101.00 372.97 L102.00 372.99 L103.00 373.02 L104.00 373.04 L105.00 373.06 L106.00 373.08 L107.00 373.10 L108.00 373.12 L109.00 373.14 L110.00 373.16 L111.00 373.17 L112.00 373.19 L113.00 373.21 L114.00 373.23 L115.00 373.25 L116.00 373.26 L117.00 373.28 L118.00 373.30 L119.00 373.32 L120.00 373.33 L121.00 373.35 L122.00 373.37 L123.00 373.38 L124.00 373.40 L125.00 373.42 L126.00 373.43 L127.00 373.45 L128.00 373.47 L129.00 373.48 L130.00 373.50 L131.00 373.52 L132.00 373.53 L133.00 373.55 L134.00 373.57 L135.00 373.58 L136.00 373.60 L137.00 373.61 L138.00 373.63 L139.00 373.65 L140.00 373.66 L141.00 373.68 L142.00 373.69 L143.00 373.71 L144.00 373.73 L145.00 373.74 L146.00 373.76 L147.00 373.77 L148.00 373.79 L149.00 373.81 L150.00 373.82 L151.00 373.84 L152.00 373.85 L153.00 373.87 L154.00 373.89 L155.00 373.90 L156.00 373.92 L157.00 373.93 L158.00 373.95 L159.00 373.96 L160.00 373.98 L161.00 374.00 L162.00 374.01 L163.00 374.03 L164.00 374.04 L165.00 374.06 L166.00 374.07 L167.00 374.09 L168.00 374.11 L169.00 374.12 L170.00 374.14 L171.00 374.15 L172.00 374.17 L173.00 374.18 L174.00 374.20 L175.00 374.22 L176.00 374.23 L177.00 374.25 L178.00 374.26 L179.00 374.28 L180.00 374.29 L181.00 374.31 L182.00 374.33 L183.00 374.34 L184.00 374.36 L185.00 374.37 L186.00 374.39 L187.00 374.40 L188.00 374.42 L189.00 374.43 L190.00 374.45 L191.00 374.47 L192.00 374.48 L193.00 374.50 L194.00 374.51 L195.00 374.53 L196.00 374.54 L197.00 374.56 L198.00 374.58 L199.00 374.59 L200.00 374.61 L201.00 374.62 L202.00 374.64 L203.00 374.65 L204.00 374.67 L205.00 374.68 L206.00 374.70 L207.00 374.72 L208.00 374.73 L209.00 374.75 L210.00 374.76 L211.00 374.78 L212.00 374.79 L213.00 374.81 L214.00 374.83 L215.00 374.84 L216.00 374.86 L217.00 374.87 L218.00 374.89 L219.00 374.90 L220.00 374.92 L221.00 374.93 L222.00 374.95 L223.00 374.97 L224.00 374.98 L224.00 374.98 L33.00 372.02 Z" fill="url(#g11)" stroke="none"/>
<path d="M33.00 371.97 L33.50 371.98 L34.00 371.99 L34.50 371.99 L35.00 372.00 L35.50 372.01 L36.00 372.01 L36.50 372.02 L37.00 372.03 L37.50 372.03 L38.00 372.04 L38.50 372.05 L39.00 372.05 L39.50 372.06 L40.00 372.07 L40.50 372.07 L41.00 372.08 L41.50 372.08 L42.00 372.09 L42.50 372.10 L43.00 372.10 L43.50 372.11 L44.00 372.11 L44.50 372.12 L45.00 372.12 L45.50 372.13 L46.00 372.13 L46.50 372.14 L47.00 372.14 L47.50 372.15 L48.00 372.15 L48.50 372.15 L49.00 372.16 L49.50 372.16 L50.00 372.16 L50.50 372.16 L51.00 372.17 L51.50 372.16 L52.00 372.16 L52.50 372.16 L53.00 372.15 L53.50 372.15 L54.00 372.14 L54.50 372.12 L55.00 372.10 L55.50 372.08 L56.00 372.04 L56.50 372.00 L57.00 371.95 L57.50 371.89 L58.00 371.82 L58.50 371.73 L59.00 371.62 L59.50 371.49 L60.00 371.33 L60.50 371.15 L61.00 370.95 L61.50 370.71 L62.00 370.43 L62.50 370.12 L63.00 369.77 L63.50 369.38 L64.00 368.95 L64.50 368.48 L65.00 367.97 L65.50 367.42 L66.00 366.84 L66.50 366.22 L67.00 365.58 L67.50 364.92 L68.00 364.24 L68.50 363.56 L69.00 362.88 L69.50 362.21 L70.00 361.57 L70.50 360.96 L71.00 360.40 L71.50 359.90 L72.00 359.47 L72.50 359.11 L73.00 358.84 L73.50 358.66 L74.00 358.58 L74.50 358.59 L75.00 358.71 L75.50 358.92 L76.00 359.23 L76.50 359.62 L77.00 360.08 L77.50 360.61 L78.00 361.20 L78.50 361.83 L79.00 362.49 L79.50 363.18 L80.00 363.87 L80.50 364.57 L81.00 365.26 L81.50 365.94 L82.00 366.59 L82.50 367.22 L83.00 367.81 L83.50 368.37 L84.00 368.89 L84.50 369.36 L85.00 369.80 L85.50 370.20 L86.00 370.55 L86.50 370.87 L87.00 371.15 L87.50 371.40 L88.00 371.62 L88.50 371.81 L89.00 371.98 L89.50 372.12 L90.00 372.24 L90.50 372.34 L91.00 372.43 L91.50 372.50 L92.00 372.57 L92.50 372.62 L93.00 372.67 L93.50 372.71 L94.00 372.74 L94.50 372.77 L95.00 372.80 L95.50 372.82 L96.00 372.84 L96.50 372.86 L97.00 372.87 L97.50 372.89 L98.00 372.90 L98.50 372.92 L99.00 372.93 L99.50 372.94 L100.00 372.96 L100.50 372.97 L101.00 372.98 L101.50 372.99 L102.00 373.00 L102.50 373.01 L103.00 373.02 L103.50 373.03 L104.00 373.04 L104.50 373.05 L105.00 373.06 L105.50 373.07 L106.00 373.08 L106.50 373.09 L107.00 373.10 L107.50 373.11 L108.00 373.12 L108.50 373.13 L109.00 373.14 L109.50 373.15 L110.00 373.16 L110.50 373.17 L111.00 373.18 L111.50 373.19 L112.00 373.19 L112.50 373.20 L113.00 373.21 L113.50 373.22 L114.00 373.23 L114.50 373.24 L115.00 373.25 L115.50 373.26 L116.00 373.27 L116.50 373.27 L117.00 373.28 L117.50 373.29 L118.00 373.30 L118.50 373.31 L119.00 373.32 L119.50 373.33 L120.00 373.33 L120.50 373.34 L121.00 373.35 L121.50 373.36 L122.00 373.37 L122.50 373.38 L123.00 373.38 L123.50 373.39 L124.00 373.40 L124.50 373.41 L125.00 373.42 L125.50 373.43 L126.00 373.43 L126.50 373.44 L127.00 373.45 L127.50 373.46 L128.00 373.47 L128.50 373.48 L129.00 373.48 L129.50 373.49 L130.00 373.50 L130.50 373.51 L131.00 373.52 L131.50 373.53 L132.00 373.53 L132.50 373.54 L133.00 373.55 L133.50 373.56 L134.00 373.57 L134.50 373.57 L135.00 373.58 L135.50 373.59 L136.00 373.60 L136.50 373.61 L137.00 373.61 L137.50 373.62 L138.00 373.63 L138.50 373.64 L139.00 373.65 L139.50 373.65 L140.00 373.66 L140.50 373.67 L141.00 373.68 L141.50 373.69 L142.00 373.69 L142.50 373.70 L143.00 373.71 L143.50 373.72 L144.00 373.73 L144.50 373.73 L145.00 373.74 L145.50 373.75 L146.00 373.76 L146.50 373.77 L147.00 373.77 L147.50 373.78 L148.00 373.79 L148.50 373.80 L149.00 373.81 L149.50 373.81 L150.00 373.82 L150.50 373.83 L151.00 373.84 L151.50 373.85 L152.00 373.85 L152.50 373.86 L153.00 373.87 L153.50 373.88 L154.00 373.89 L154.50 373.89 L155.00 373.90 L155.50 373.91 L156.00 373.92 L156.50 373.92 L157.00 373.93 L157.50 373.94 L158.00 373.95 L158.50 373.96 L159.00 373.96 L159.50 373.97 L160.00 373.98 L160.50 373.99 L161.00 374.00 L161.50 374.00 L162.00 374.01 L162.50 374.02 L163.00 374.03 L163.50 374.04 L164.00 374.04 L164.50 374.05 L165.00 374.06 L165.50 374.07 L166.00 374.07 L166.50 374.08 L167.00 374.09 L167.50 374.10 L168.00 374.11 L168.50 374.11 L169.00 374.12 L169.50 374.13 L170.00 374.14 L170.50 374.15 L171.00 374.15 L171.50 374.16 L172.00 374.17 L172.50 374.18 L173.00 374.18 L173.50 374.19 L174.00 374.20 L174.50 374.21 L175.00 374.22 L175.50 374.22 L176.00 374.23 L176.50 374.24 L177.00 374.25 L177.50 374.25 L178.00 374.26 L178.50 374.27 L179.00 374.28 L179.50 374.29 L180.00 374.29 L180.50 374.30 L181.00 374.31 L181.50 374.32 L182.00 374.33 L182.50 374.33 L183.00 374.34 L183.50 374.35 L184.00 374.36 L184.50 374.36 L185.00 374.37 L185.50 374.38 L186.00 374.39 L186.50 374.40 L187.00 374.40 L187.50 374.41 L188.00 374.42 L188.50 374.43 L189.00 374.43 L189.50 374.44 L190.00 374.45 L190.50 374.46 L191.00 374.47 L191.50 374.47 L192.00 374.48 L192.50 374.49 L193.00 374.50 L193.50 374.51 L194.00 374.51 L194.50 374.52 L195.00 374.53 L195.50 374.54 L196.00 374.54 L196.50 374.55 L197.00 374.56 L197.50 374.57 L198.00 374.58 L198.50 374.58 L199.00 374.59 L199.50 374.60 L200.00 374.61 L200.50 374.61 L201.00 374.62 L201.50 374.63 L202.00 374.64 L202.50 374.65 L203.00 374.65 L203.50 374.66 L204.00 374.67 L204.50 374.68 L205.00 374.68 L205.50 374.69 L206.00 374.70 L206.50 374.71 L207.00 374.72 L207.50 374.72 L208.00 374.73 L208.50 374.74 L209.00 374.75 L209.50 374.76 L210.00 374.76 L210.50 374.77 L211.00 374.78 L211.50 374.79 L212.00 374.79 L212.50 374.80 L213.00 374.81 L213.50 374.82 L214.00 374.83 L214.50 374.83 L215.00 374.84 L215.50 374.85 L216.00 374.86 L216.50 374.86 L217.00 374.87 L217.50 374.88 L218.00 374.89 L218.50 374.90 L219.00 374.90 L219.50 374.91 L220.00 374.92 L220.50 374.93 L221.00 374.93 L221.50 374.94 L222.00 374.95 L222.50 374.96 L223.00 374.97 L223.50 374.97 L224.00 374.98" fill="none" stroke="#111" stroke-width="1.8" stroke-linejoin="round" stroke-linecap="round"/>
<path d="M33.00 371.98 L34.00 371.99 L35.00 372.01 L36.00 372.02 L37.00 372.03 L38.00 372.05 L39.00 372.06 L40.00 372.07 L41.00 372.08 L42.00 372.10 L43.00 372.11 L44.00 372.12 L45.00 372.13 L46.00 372.14 L47.00 372.15 L48.00 372.16 L49.00 372.17 L50.00 372.18 L51.00 372.18 L52.00 372.19 L53.00 372.19 L54.00 372.19 L55.00 372.17 L56.00 372.15 L57.00 372.11 L58.00 372.04 L59.00 371.93 L60.00 371.76 L61.00 371.52 L62.00 371.19 L63.00 370.73 L64.00 370.13 L65.00 369.37 L66.00 368.44 L67.00 367.33 L68.00 366.09 L69.00 364.73 L70.00 363.32 L71.00 361.93 L72.00 360.66 L73.00 359.59 L74.00 358.82 L75.00 358.42 L76.00 358.44 L77.00 358.87 L78.00 359.67 L79.00 360.76 L80.00 362.07 L81.00 363.49 L82.00 364.93 L83.00 366.32 L84.00 367.60 L85.00 368.73 L86.00 369.69 L87.00 370.49 L88.00 371.12 L89.00 371.61 L90.00 371.97 L91.00 372.24 L92.00 372.44 L93.00 372.58 L94.00 372.68 L95.00 372.76 L96.00 372.81 L97.00 372.85 L98.00 372.89 L99.00 372.92 L100.00 372.95 L101.00 372.97 L102.00 372.99 L103.00 373.02 L104.00 373.04 L105.00 373.06 L106.00 373.08 L107.00 373.10 L108.00 373.12 L109.00 373.14 L110.00 373.16 L111.00 373.17 L112.00 373.19 L113.00 373.21 L114.00 373.23 L115.00 373.25 L116.00 373.26 L117.00 373.28 L118.00 373.30 L119.00 373.32 L120.00 373.33 L121.00 373.35 L122.00 373.37 L123.00 373.38 L124.00 373.40 L125.00 373.42 L126.00 373.43 L127.00 373.45 L128.00 373.47 L129.00 373.48 L130.00 373.50 L131.00 373.52 L132.00 373.53 L133.00 373.55 L134.00 373.57 L135.00 373.58 L136.00 373.60 L137.00 373.61 L138.00 373.63 L139.00 373.65 L140.00 373.66 L141.00 373.68 L142.00 373.69 L143.00 373.71 L144.00 373.73 L145.00 373.74 L146.00 373.76 L147.00 373.77 L148.00 373.79 L149.00 373.81 L150.00 373.82 L151.00 373.84 L152.00 373.85 L153.00 373.87 L154.00 373.89 L155.00 373.90 L156.00 373.92 L157.00 373.93 L158.00 373.95 L159.00 373.96 L160.00 373.98 L161.00 374.00 L162.00 374.01 L163.00 374.03 L164.00 374.04 L165.00 374.06 L166.00 374.07 L167.00 374.09 L168.00 374.11 L169.00 374.12 L170.00 374.14 L171.00 374.15 L172.00 374.17 L173.00 374.18 L174.00 374.20 L175.00 374.22 L176.00 374.23 L177.00 374.25 L178.00 374.26 L179.00 374.28 L180.00 374.29 L181.00 374.31 L182.00 374.33 L183.00 374.34 L184.00 374.36 L185.00 374.37 L186.00 374.39 L187.00 374.40 L188.00 374.42 L189.00 374.43 L190.00 374.45 L191.00 374.47 L192.00 374.48 L193.00 374.50 L194.00 374.51 L195.00 374.53 L196.00 374.54 L197.00 374.56 L198.00 374.58 L199.00 374.59 L200.00 374.61 L201.00 374.62 L202.00 374.64 L203.00 374.65 L204.00 374.67 L205.00 374.68 L206.00 374.70 L207.00 374.72 L208.00 374.73 L209.00 374.75 L210.00 374.76 L211.00 374.78 L212.00 374.79 L213.00 374.81 L214.00 374.83 L215.00 374.84 L216.00 374.86 L217.00 374.87 L218.00 374.89 L219.00 374.90 L220.00 374.92 L221.00 374.93 L222.00 374.95 L223.00 374.97 L224.00 374.98" fill="none" stroke="#E0A526" stroke-width="2.0" stroke-linejoin="round" stroke-linecap="round"/>
<path d="M33.00 372.00 L34.00 372.01 L35.00 372.03 L36.00 372.04 L37.00 372.06 L38.00 372.08 L39.00 372.09 L40.00 372.11 L41.00 372.12 L42.00 372.14 L43.00 372.15 L44.00 372.17 L45.00 372.18 L46.00 372.20 L47.00 372.21 L48.00 372.23 L49.00 372.24 L50.00 372.26 L51.00 372.27 L52.00 372.29 L53.00 372.30 L54.00 372.32 L55.00 372.33 L56.00 372.35 L57.00 372.36 L58.00 372.38 L59.00 372.39 L60.00 372.41 L61.00 372.42 L62.00 372.44 L63.00 372.45 L64.00 372.47 L65.00 372.48 L66.00 372.50 L67.00 372.51 L68.00 372.53 L69.00 372.54 L70.00 372.56 L71.00 372.57 L72.00 372.59 L73.00 372.60 L74.00 372.62 L75.00 372.63 L76.00 372.65 L77.00 372.66 L78.00 372.68 L79.00 372.69 L80.00 372.71 L81.00 372.72 L82.00 372.74 L83.00 372.75 L84.00 372.77 L85.00 372.78 L86.00 372.79 L87.00 372.81 L88.00 372.82 L89.00 372.84 L90.00 372.85 L91.00 372.87 L92.00 372.88 L93.00 372.89 L94.00 372.91 L95.00 372.92 L96.00 372.94 L97.00 372.95 L98.00 372.96 L99.00 372.98 L100.00 372.99 L101.00 373.00 L102.00 373.02 L103.00 373.03 L104.00 373.04 L105.00 373.06 L106.00 373.07 L107.00 373.08 L108.00 373.10 L109.00 373.11 L110.00 373.12 L111.00 373.13 L112.00 373.15 L113.00 373.16 L114.00 373.17 L115.00 373.18 L116.00 373.19 L117.00 373.20 L118.00 373.21 L119.00 373.22 L120.00 373.23 L121.00 373.24 L122.00 373.25 L123.00 373.26 L124.00 373.27 L125.00 373.28 L126.00 373.29 L127.00 373.29 L128.00 373.30 L129.00 373.30 L130.00 373.31 L131.00 373.31 L132.00 373.32 L133.00 373.32 L134.00 373.32 L135.00 373.32 L136.00 373.31 L137.00 373.31 L138.00 373.30 L139.00 373.29 L140.00 373.27 L141.00 373.25 L142.00 373.22 L143.00 373.17 L144.00 373.11 L145.00 373.02 L146.00 372.90 L147.00 372.74 L148.00 372.51 L149.00 372.19 L150.00 371.78 L151.00 371.25 L152.00 370.56 L153.00 369.70 L154.00 368.66 L155.00 367.42 L156.00 365.97 L157.00 364.34 L158.00 362.56 L159.00 360.66 L160.00 358.72 L161.00 356.81 L162.00 355.03 L163.00 353.49 L164.00 352.29 L165.00 351.53 L166.00 351.28 L167.00 351.57 L168.00 352.36 L169.00 353.59 L170.00 355.16 L171.00 356.97 L172.00 358.91 L173.00 360.88 L174.00 362.81 L175.00 364.62 L176.00 366.28 L177.00 367.76 L178.00 369.03 L179.00 370.11 L180.00 370.99 L181.00 371.71 L182.00 372.28 L183.00 372.72 L184.00 373.06 L185.00 373.33 L186.00 373.53 L187.00 373.68 L188.00 373.80 L189.00 373.89 L190.00 373.96 L191.00 374.03 L192.00 374.08 L193.00 374.13 L194.00 374.17 L195.00 374.21 L196.00 374.25 L197.00 374.28 L198.00 374.31 L199.00 374.34 L200.00 374.37 L201.00 374.40 L202.00 374.43 L203.00 374.45 L204.00 374.48 L205.00 374.50 L206.00 374.53 L207.00 374.55 L208.00 374.58 L209.00 374.60 L210.00 374.62 L211.00 374.64 L212.00 374.66 L213.00 374.69 L214.00 374.71 L215.00 374.73 L216.00 374.75 L217.00 374.77 L218.00 374.79 L219.00 374.81 L220.00 374.82 L221.00 374.84 L222.00 374.86 L223.00 374.88 L224.00 374.90 L224.00 374.98 L33.00 372.02 Z" fill="url(#g12)" stroke="none"/>
<path d="M33.00 372.00 L33.50 372.01 L34.00 372.01 L34.50 372.02 L35.00 372.03 L35.50 372.04 L36.00 372.04 L36.50 372.05 L37.00 372.06 L37.50 372.07 L38.00 372.07 L38.50 372.08 L39.00 372.09 L39.50 372.10 L40.00 372.11 L40.50 372.11 L41.00 372.12 L41.50 372.13 L42.00 372.14 L42.50 372.14 L43.00 372.15 L43.50 372.16 L44.00 372.17 L44.50 372.17 L45.00 372.18 L45.50 372.19 L46.00 372.20 L46.50 372.20 L47.00 372.21 L47.50 372.22 L48.00 372.23 L48.50 372.23 L49.00 372.24 L49.50 372.25 L50.00 372.26 L50.50 372.26 L51.00 372.27 L51.50 372.28 L52.00 372.29 L52.50 372.30 L53.00 372.30 L53.50 372.31 L54.00 372.32 L54.50 372.33 L55.00 372.33 L55.50 372.34 L56.00 372.35 L56.50 372.36 L57.00 372.36 L57.50 372.37 L58.00 372.38 L58.50 372.39 L59.00 372.39 L59.50 372.40 L60.00 372.41 L60.50 372.42 L61.00 372.42 L61.50 372.43 L62.00 372.44 L62.50 372.45 L63.00 372.45 L63.50 372.46 L64.00 372.47 L64.50 372.48 L65.00 372.48 L65.50 372.49 L66.00 372.50 L66.50 372.51 L67.00 372.51 L67.50 372.52 L68.00 372.53 L68.50 372.54 L69.00 372.54 L69.50 372.55 L70.00 372.56 L70.50 372.56 L71.00 372.57 L71.50 372.58 L72.00 372.59 L72.50 372.59 L73.00 372.60 L73.50 372.61 L74.00 372.62 L74.50 372.62 L75.00 372.63 L75.50 372.64 L76.00 372.65 L76.50 372.65 L77.00 372.66 L77.50 372.67 L78.00 372.68 L78.50 372.68 L79.00 372.69 L79.50 372.70 L80.00 372.70 L80.50 372.71 L81.00 372.72 L81.50 372.73 L82.00 372.73 L82.50 372.74 L83.00 372.75 L83.50 372.76 L84.00 372.76 L84.50 372.77 L85.00 372.78 L85.50 372.78 L86.00 372.79 L86.50 372.80 L87.00 372.81 L87.50 372.81 L88.00 372.82 L88.50 372.83 L89.00 372.83 L89.50 372.84 L90.00 372.85 L90.50 372.86 L91.00 372.86 L91.50 372.87 L92.00 372.88 L92.50 372.88 L93.00 372.89 L93.50 372.90 L94.00 372.90 L94.50 372.91 L95.00 372.92 L95.50 372.93 L96.00 372.93 L96.50 372.94 L97.00 372.95 L97.50 372.95 L98.00 372.96 L98.50 372.97 L99.00 372.97 L99.50 372.98 L100.00 372.99 L100.50 372.99 L101.00 373.00 L101.50 373.01 L102.00 373.01 L102.50 373.02 L103.00 373.03 L103.50 373.03 L104.00 373.04 L104.50 373.05 L105.00 373.05 L105.50 373.06 L106.00 373.07 L106.50 373.07 L107.00 373.08 L107.50 373.08 L108.00 373.09 L108.50 373.10 L109.00 373.10 L109.50 373.11 L110.00 373.11 L110.50 373.12 L111.00 373.13 L111.50 373.13 L112.00 373.14 L112.50 373.14 L113.00 373.15 L113.50 373.16 L114.00 373.16 L114.50 373.17 L115.00 373.17 L115.50 373.18 L116.00 373.18 L116.50 373.19 L117.00 373.19 L117.50 373.20 L118.00 373.20 L118.50 373.21 L119.00 373.21 L119.50 373.22 L120.00 373.22 L120.50 373.23 L121.00 373.23 L121.50 373.24 L122.00 373.24 L122.50 373.24 L123.00 373.25 L123.50 373.25 L124.00 373.26 L124.50 373.26 L125.00 373.26 L125.50 373.27 L126.00 373.27 L126.50 373.27 L127.00 373.28 L127.50 373.28 L128.00 373.28 L128.50 373.28 L129.00 373.28 L129.50 373.29 L130.00 373.29 L130.50 373.29 L131.00 373.29 L131.50 373.29 L132.00 373.29 L132.50 373.29 L133.00 373.29 L133.50 373.29 L134.00 373.29 L134.50 373.29 L135.00 373.28 L135.50 373.28 L136.00 373.28 L136.50 373.27 L137.00 373.27 L137.50 373.26 L138.00 373.25 L138.50 373.24 L139.00 373.23 L139.50 373.22 L140.00 373.21 L140.50 373.19 L141.00 373.17 L141.50 373.14 L142.00 373.11 L142.50 373.08 L143.00 373.04 L143.50 372.99 L144.00 372.93 L144.50 372.86 L145.00 372.78 L145.50 372.69 L146.00 372.58 L146.50 372.46 L147.00 372.31 L147.50 372.14 L148.00 371.95 L148.50 371.73 L149.00 371.48 L149.50 371.20 L150.00 370.88 L150.50 370.52 L151.00 370.13 L151.50 369.69 L152.00 369.20 L152.50 368.67 L153.00 368.09 L153.50 367.46 L154.00 366.79 L154.50 366.07 L155.00 365.30 L155.50 364.50 L156.00 363.65 L156.50 362.78 L157.00 361.88 L157.50 360.95 L158.00 360.02 L158.50 359.08 L159.00 358.14 L159.50 357.23 L160.00 356.34 L160.50 355.49 L161.00 354.70 L161.50 353.97 L162.00 353.32 L162.50 352.76 L163.00 352.30 L163.50 351.95 L164.00 351.72 L164.50 351.61 L165.00 351.63 L165.50 351.78 L166.00 352.05 L166.50 352.44 L167.00 352.93 L167.50 353.53 L168.00 354.21 L168.50 354.97 L169.00 355.79 L169.50 356.67 L170.00 357.57 L170.50 358.51 L171.00 359.46 L171.50 360.42 L172.00 361.36 L172.50 362.30 L173.00 363.21 L173.50 364.10 L174.00 364.95 L174.50 365.76 L175.00 366.54 L175.50 367.26 L176.00 367.94 L176.50 368.58 L177.00 369.16 L177.50 369.70 L178.00 370.19 L178.50 370.64 L179.00 371.04 L179.50 371.41 L180.00 371.73 L180.50 372.03 L181.00 372.29 L181.50 372.51 L182.00 372.72 L182.50 372.90 L183.00 373.05 L183.50 373.19 L184.00 373.31 L184.50 373.41 L185.00 373.51 L185.50 373.59 L186.00 373.66 L186.50 373.72 L187.00 373.78 L187.50 373.83 L188.00 373.87 L188.50 373.91 L189.00 373.95 L189.50 373.98 L190.00 374.01 L190.50 374.04 L191.00 374.06 L191.50 374.09 L192.00 374.11 L192.50 374.13 L193.00 374.15 L193.50 374.17 L194.00 374.19 L194.50 374.21 L195.00 374.23 L195.50 374.25 L196.00 374.26 L196.50 374.28 L197.00 374.29 L197.50 374.31 L198.00 374.33 L198.50 374.34 L199.00 374.36 L199.50 374.37 L200.00 374.38 L200.50 374.40 L201.00 374.41 L201.50 374.42 L202.00 374.44 L202.50 374.45 L203.00 374.46 L203.50 374.48 L204.00 374.49 L204.50 374.50 L205.00 374.51 L205.50 374.52 L206.00 374.54 L206.50 374.55 L207.00 374.56 L207.50 374.57 L208.00 374.58 L208.50 374.59 L209.00 374.60 L209.50 374.61 L210.00 374.63 L210.50 374.64 L211.00 374.65 L211.50 374.66 L212.00 374.67 L212.50 374.68 L213.00 374.69 L213.50 374.70 L214.00 374.71 L214.50 374.72 L215.00 374.73 L215.50 374.74 L216.00 374.75 L216.50 374.76 L217.00 374.77 L217.50 374.78 L218.00 374.79 L218.50 374.80 L219.00 374.81 L219.50 374.82 L220.00 374.83 L220.50 374.84 L221.00 374.85 L221.50 374.85 L222.00 374.86 L222.50 374.87 L223.00 374.88 L223.50 374.89 L224.00 374.90" fill="none" stroke="#111" stroke-width="1.8" stroke-linejoin="round" stroke-linecap="round"/>
<path d="M33.00 372.00 L34.00 372.01 L35.00 372.03 L36.00 372.04 L37.00 372.06 L38.00 372.08 L39.00 372.09 L40.00 372.11 L41.00 372.12 L42.00 372.14 L43.00 372.15 L44.00 372.17 L45.00 372.18 L46.00 372.20 L47.00 372.21 L48.00 372.23 L49.00 372.24 L50.00 372.26 L51.00 372.27 L52.00 372.29 L53.00 372.30 L54.00 372.32 L55.00 372.33 L56.00 372.35 L57.00 372.36 L58.00 372.38 L59.00 372.39 L60.00 372.41 L61.00 372.42 L62.00 372.44 L63.00 372.45 L64.00 372.47 L65.00 372.48 L66.00 372.50 L67.00 372.51 L68.00 372.53 L69.00 372.54 L70.00 372.56 L71.00 372.57 L72.00 372.59 L73.00 372.60 L74.00 372.62 L75.00 372.63 L76.00 372.65 L77.00 372.66 L78.00 372.68 L79.00 372.69 L80.00 372.71 L81.00 372.72 L82.00 372.74 L83.00 372.75 L84.00 372.77 L85.00 372.78 L86.00 372.79 L87.00 372.81 L88.00 372.82 L89.00 372.84 L90.00 372.85 L91.00 372.87 L92.00 372.88 L93.00 372.89 L94.00 372.91 L95.00 372.92 L96.00 372.94 L97.00 372.95 L98.00 372.96 L99.00 372.98 L100.00 372.99 L101.00 373.00 L102.00 373.02 L103.00 373.03 L104.00 373.04 L105.00 373.06 L106.00 373.07 L107.00 373.08 L108.00 373.10 L109.00 373.11 L110.00 373.12 L111.00 373.13 L112.00 373.15 L113.00 373.16 L114.00 373.17 L115.00 373.18 L116.00 373.19 L117.00 373.20 L118.00 373.21 L119.00 373.22 L120.00 373.23 L121.00 373.24 L122.00 373.25 L123.00 373.26 L124.00 373.27 L125.00 373.28 L126.00 373.29 L127.00 373.29 L128.00 373.30 L129.00 373.30 L130.00 373.31 L131.00 373.31 L132.00 373.32 L133.00 373.32 L134.00 373.32 L135.00 373.32 L136.00 373.31 L137.00 373.31 L138.00 373.30 L139.00 373.29 L140.00 373.27 L141.00 373.25 L142.00 373.22 L143.00 373.17 L144.00 373.11 L145.00 373.02 L146.00 372.90 L147.00 372.74 L148.00 372.51 L149.00 372.19 L150.00 371.78 L151.00 371.25 L152.00 370.56 L153.00 369.70 L154.00 368.66 L155.00 367.42 L156.00 365.97 L157.00 364.34 L158.00 362.56 L159.00 360.66 L160.00 358.72 L161.00 356.81 L162.00 355.03 L163.00 353.49 L164.00 352.29 L165.00 351.53 L166.00 351.28 L167.00 351.57 L168.00 352.36 L169.00 353.59 L170.00 355.16 L171.00 356.97 L172.00 358.91 L173.00 360.88 L174.00 362.81 L175.00 364.62 L176.00 366.28 L177.00 367.76 L178.00 369.03 L179.00 370.11 L180.00 370.99 L181.00 371.71 L182.00 372.28 L183.00 372.72 L184.00 373.06 L185.00 373.33 L186.00 373.53 L187.00 373.68 L188.00 373.80 L189.00 373.89 L190.00 373.96 L191.00 374.03 L192.00 374.08 L193.00 374.13 L194.00 374.17 L195.00 374.21 L196.00 374.25 L197.00 374.28 L198.00 374.31 L199.00 374.34 L200.00 374.37 L201.00 374.40 L202.00 374.43 L203.00 374.45 L204.00 374.48 L205.00 374.50 L206.00 374.53 L207.00 374.55 L208.00 374.58 L209.00 374.60 L210.00 374.62 L211.00 374.64 L212.00 374.66 L213.00 374.69 L214.00 374.71 L215.00 374.73 L216.00 374.75 L217.00 374.77 L218.00 374.79 L219.00 374.81 L220.00 374.82 L221.00 374.84 L222.00 374.86 L223.00 374.88 L224.00 374.90" fill="none" stroke="#A050F0" stroke-width="2.0" stroke-linejoin="round" stroke-linecap="round"/>
<path d="M104.00 348.20 C105.00 348.37 107.67 348.97 110.00 349.20 C112.33 349.43 115.33 349.43 118.00 349.60 C120.67 349.77 123.33 350.20 126.00 350.20 C128.67 350.20 131.67 349.73 134.00 349.60 C136.33 349.47 139.00 349.43 140.00 349.40" fill="none" stroke="#111" stroke-width="1.6" stroke-linejoin="round" stroke-linecap="round"/>
<path d="M40.00 373.60 C41.33 373.57 45.33 373.37 48.00 373.40 C50.67 373.43 54.67 373.73 56.00 373.80" fill="none" stroke="#111" stroke-width="1.2" stroke-linejoin="round" stroke-linecap="round"/>
<path d="M33.00 344.30 L33.50 344.30 L34.00 344.31 L34.50 344.31 L35.00 344.31 L35.50 344.32 L36.00 344.32 L36.50 344.33 L37.00 344.33 L37.50 344.34 L38.00 344.35 L38.50 344.36 L39.00 344.37 L39.50 344.37 L40.00 344.38 L40.50 344.39 L41.00 344.41 L41.50 344.42 L42.00 344.43 L42.50 344.44 L43.00 344.45 L43.50 344.47 L44.00 344.48 L44.50 344.50 L45.00 344.51 L45.50 344.53 L46.00 344.54 L46.50 344.56 L47.00 344.57 L47.50 344.59 L48.00 344.61 L48.50 344.63 L49.00 344.64 L49.50 344.66 L50.00 344.68 L50.50 344.70 L51.00 344.72 L51.50 344.74 L52.00 344.76 L52.50 344.78 L53.00 344.80 L53.50 344.82 L54.00 344.84 L54.50 344.86 L55.00 344.88 L55.50 344.91 L56.00 344.93 L56.50 344.95 L57.00 344.97 L57.50 345.00 L58.00 345.02 L58.50 345.04 L59.00 345.07 L59.50 345.09 L60.00 345.11 L60.50 345.14 L61.00 345.16 L61.50 345.18 L62.00 345.21 L62.50 345.23 L63.00 345.25 L63.50 345.28 L64.00 345.30 L64.50 345.33 L65.00 345.35 L65.50 345.38 L66.00 345.40 L66.50 345.42 L67.00 345.45 L67.50 345.47 L68.00 345.50 L68.50 345.52 L69.00 345.55 L69.50 345.57 L70.00 345.59 L70.50 345.62 L71.00 345.64 L71.50 345.66 L72.00 345.69 L72.50 345.71 L73.00 345.73 L73.50 345.76 L74.00 345.78 L74.50 345.80 L75.00 345.83 L75.50 345.85 L76.00 345.87 L76.50 345.89 L77.00 345.92 L77.50 345.94 L78.00 345.96 L78.50 345.98 L79.00 346.00 L79.50 346.02 L80.00 346.04 L80.50 346.06 L81.00 346.08 L81.50 346.10 L82.00 346.12 L82.50 346.14 L83.00 346.16 L83.50 346.17 L84.00 346.19 L84.50 346.21 L85.00 346.23 L85.50 346.24 L86.00 346.26 L86.50 346.27 L87.00 346.29 L87.50 346.30 L88.00 346.32 L88.50 346.33 L89.00 346.35 L89.50 346.36 L90.00 346.37 L90.50 346.38 L91.00 346.39 L91.50 346.41 L92.00 346.42 L92.50 346.43 L93.00 346.43 L93.50 346.44 L94.00 346.45 L94.50 346.46 L95.00 346.47 L95.50 346.47 L96.00 346.48 L96.50 346.48 L97.00 346.49 L97.50 346.49 L98.00 346.49 L98.50 346.50 L99.00 346.50 L99.50 346.50 L100.00 346.50 L100.50 346.50 L101.00 346.50 L101.50 346.50 L102.00 346.51 L102.50 346.51 L103.00 346.52 L103.50 346.52 L104.00 346.53 L104.50 346.54 L105.00 346.55 L105.50 346.56 L106.00 346.57 L106.50 346.58 L107.00 346.59 L107.50 346.60 L108.00 346.61 L108.50 346.63 L109.00 346.64 L109.50 346.66 L110.00 346.67 L110.50 346.69 L111.00 346.70 L111.50 346.72 L112.00 346.74 L112.50 346.76 L113.00 346.77 L113.50 346.79 L114.00 346.81 L114.50 346.83 L115.00 346.85 L115.50 346.87 L116.00 346.89 L116.50 346.91 L117.00 346.93 L117.50 346.95 L118.00 346.97 L118.50 346.99 L119.00 347.01 L119.50 347.03 L120.00 347.05 L120.50 347.07 L121.00 347.09 L121.50 347.11 L122.00 347.13 L122.50 347.15 L123.00 347.17 L123.50 347.19 L124.00 347.21 L124.50 347.23 L125.00 347.25 L125.50 347.27 L126.00 347.29 L126.50 347.31 L127.00 347.33 L127.50 347.34 L128.00 347.36 L128.50 347.38 L129.00 347.40 L129.50 347.41 L130.00 347.43 L130.50 347.44 L131.00 347.46 L131.50 347.47 L132.00 347.49 L132.50 347.50 L133.00 347.51 L133.50 347.52 L134.00 347.53 L134.50 347.54 L135.00 347.55 L135.50 347.56 L136.00 347.57 L136.50 347.58 L137.00 347.58 L137.50 347.59 L138.00 347.59 L138.50 347.60 L139.00 347.60 L139.50 347.60 L140.00 347.60 L140.50 347.60 L141.00 347.60 L141.50 347.60 L142.00 347.61 L142.50 347.61 L143.00 347.61 L143.50 347.62 L144.00 347.63 L144.50 347.63 L145.00 347.64 L145.50 347.65 L146.00 347.66 L146.50 347.67 L147.00 347.68 L147.50 347.69 L148.00 347.70 L148.50 347.71 L149.00 347.73 L149.50 347.74 L150.00 347.75 L150.50 347.77 L151.00 347.78 L151.50 347.80 L152.00 347.82 L152.50 347.83 L153.00 347.85 L153.50 347.87 L154.00 347.89 L154.50 347.91 L155.00 347.93 L155.50 347.95 L156.00 347.97 L156.50 347.99 L157.00 348.02 L157.50 348.04 L158.00 348.06 L158.50 348.09 L159.00 348.11 L159.50 348.13 L160.00 348.16 L160.50 348.19 L161.00 348.21 L161.50 348.24 L162.00 348.27 L162.50 348.29 L163.00 348.32 L163.50 348.35 L164.00 348.38 L164.50 348.41 L165.00 348.43 L165.50 348.46 L166.00 348.49 L166.50 348.52 L167.00 348.55 L167.50 348.59 L168.00 348.62 L168.50 348.65 L169.00 348.68 L169.50 348.71 L170.00 348.74 L170.50 348.78 L171.00 348.81 L171.50 348.84 L172.00 348.87 L172.50 348.91 L173.00 348.94 L173.50 348.97 L174.00 349.01 L174.50 349.04 L175.00 349.08 L175.50 349.11 L176.00 349.14 L176.50 349.18 L177.00 349.21 L177.50 349.25 L178.00 349.28 L178.50 349.32 L179.00 349.35 L179.50 349.39 L180.00 349.42 L180.50 349.46 L181.00 349.49 L181.50 349.53 L182.00 349.56 L182.50 349.60 L183.00 349.64 L183.50 349.67 L184.00 349.71 L184.50 349.74 L185.00 349.78 L185.50 349.81 L186.00 349.85 L186.50 349.88 L187.00 349.92 L187.50 349.95 L188.00 349.99 L188.50 350.02 L189.00 350.06 L189.50 350.09 L190.00 350.12 L190.50 350.16 L191.00 350.19 L191.50 350.23 L192.00 350.26 L192.50 350.29 L193.00 350.33 L193.50 350.36 L194.00 350.39 L194.50 350.42 L195.00 350.46 L195.50 350.49 L196.00 350.52 L196.50 350.55 L197.00 350.58 L197.50 350.61 L198.00 350.65 L198.50 350.68 L199.00 350.71 L199.50 350.74 L200.00 350.77 L200.50 350.79 L201.00 350.82 L201.50 350.85 L202.00 350.88 L202.50 350.91 L203.00 350.93 L203.50 350.96 L204.00 350.99 L204.50 351.01 L205.00 351.04 L205.50 351.07 L206.00 351.09 L206.50 351.11 L207.00 351.14 L207.50 351.16 L208.00 351.18 L208.50 351.21 L209.00 351.23 L209.50 351.25 L210.00 351.27 L210.50 351.29 L211.00 351.31 L211.50 351.33 L212.00 351.35 L212.50 351.37 L213.00 351.38 L213.50 351.40 L214.00 351.42 L214.50 351.43 L215.00 351.45 L215.50 351.46 L216.00 351.47 L216.50 351.49 L217.00 351.50 L217.50 351.51 L218.00 351.52 L218.50 351.53 L219.00 351.54 L219.50 351.55 L220.00 351.56 L220.50 351.57 L221.00 351.57 L221.50 351.58 L222.00 351.59 L222.50 351.59 L223.00 351.59 L223.50 351.60 L224.00 351.60" fill="none" stroke="#A050F0" stroke-width="2.1" stroke-linejoin="round" stroke-linecap="round"/>
<path d="M33.00 372.02 L33.50 372.02 L34.00 372.03 L34.50 372.04 L35.00 372.05 L35.50 372.05 L36.00 372.06 L36.50 372.07 L37.00 372.08 L37.50 372.09 L38.00 372.09 L38.50 372.10 L39.00 372.11 L39.50 372.12 L40.00 372.12 L40.50 372.13 L41.00 372.14 L41.50 372.15 L42.00 372.16 L42.50 372.16 L43.00 372.17 L43.50 372.18 L44.00 372.19 L44.50 372.19 L45.00 372.20 L45.50 372.21 L46.00 372.22 L46.50 372.23 L47.00 372.23 L47.50 372.24 L48.00 372.25 L48.50 372.26 L49.00 372.26 L49.50 372.27 L50.00 372.28 L50.50 372.29 L51.00 372.30 L51.50 372.30 L52.00 372.31 L52.50 372.32 L53.00 372.33 L53.50 372.33 L54.00 372.34 L54.50 372.35 L55.00 372.36 L55.50 372.37 L56.00 372.37 L56.50 372.38 L57.00 372.39 L57.50 372.40 L58.00 372.40 L58.50 372.41 L59.00 372.42 L59.50 372.43 L60.00 372.44 L60.50 372.44 L61.00 372.45 L61.50 372.46 L62.00 372.47 L62.50 372.47 L63.00 372.48 L63.50 372.49 L64.00 372.50 L64.50 372.51 L65.00 372.51 L65.50 372.52 L66.00 372.53 L66.50 372.54 L67.00 372.54 L67.50 372.55 L68.00 372.56 L68.50 372.57 L69.00 372.58 L69.50 372.58 L70.00 372.59 L70.50 372.60 L71.00 372.61 L71.50 372.61 L72.00 372.62 L72.50 372.63 L73.00 372.64 L73.50 372.65 L74.00 372.65 L74.50 372.66 L75.00 372.67 L75.50 372.68 L76.00 372.68 L76.50 372.69 L77.00 372.70 L77.50 372.71 L78.00 372.72 L78.50 372.72 L79.00 372.73 L79.50 372.74 L80.00 372.75 L80.50 372.75 L81.00 372.76 L81.50 372.77 L82.00 372.78 L82.50 372.78 L83.00 372.79 L83.50 372.80 L84.00 372.81 L84.50 372.82 L85.00 372.82 L85.50 372.83 L86.00 372.84 L86.50 372.85 L87.00 372.85 L87.50 372.86 L88.00 372.87 L88.50 372.88 L89.00 372.89 L89.50 372.89 L90.00 372.90 L90.50 372.91 L91.00 372.92 L91.50 372.92 L92.00 372.93 L92.50 372.94 L93.00 372.95 L93.50 372.96 L94.00 372.96 L94.50 372.97 L95.00 372.98 L95.50 372.99 L96.00 372.99 L96.50 373.00 L97.00 373.01 L97.50 373.02 L98.00 373.03 L98.50 373.03 L99.00 373.04 L99.50 373.05 L100.00 373.06 L100.50 373.06 L101.00 373.07 L101.50 373.08 L102.00 373.09 L102.50 373.10 L103.00 373.10 L103.50 373.11 L104.00 373.12 L104.50 373.13 L105.00 373.13 L105.50 373.14 L106.00 373.15 L106.50 373.16 L107.00 373.17 L107.50 373.17 L108.00 373.18 L108.50 373.19 L109.00 373.20 L109.50 373.20 L110.00 373.21 L110.50 373.22 L111.00 373.23 L111.50 373.24 L112.00 373.24 L112.50 373.25 L113.00 373.26 L113.50 373.27 L114.00 373.27 L114.50 373.28 L115.00 373.29 L115.50 373.30 L116.00 373.31 L116.50 373.31 L117.00 373.32 L117.50 373.33 L118.00 373.34 L118.50 373.34 L119.00 373.35 L119.50 373.36 L120.00 373.37 L120.50 373.38 L121.00 373.38 L121.50 373.39 L122.00 373.40 L122.50 373.41 L123.00 373.41 L123.50 373.42 L124.00 373.43 L124.50 373.44 L125.00 373.45 L125.50 373.45 L126.00 373.46 L126.50 373.47 L127.00 373.48 L127.50 373.48 L128.00 373.49 L128.50 373.50 L129.00 373.51 L129.50 373.52 L130.00 373.52 L130.50 373.53 L131.00 373.54 L131.50 373.55 L132.00 373.55 L132.50 373.56 L133.00 373.57 L133.50 373.58 L134.00 373.59 L134.50 373.59 L135.00 373.60 L135.50 373.61 L136.00 373.62 L136.50 373.62 L137.00 373.63 L137.50 373.64 L138.00 373.65 L138.50 373.66 L139.00 373.66 L139.50 373.67 L140.00 373.68 L140.50 373.69 L141.00 373.69 L141.50 373.70 L142.00 373.71 L142.50 373.72 L143.00 373.73 L143.50 373.73 L144.00 373.74 L144.50 373.75 L145.00 373.76 L145.50 373.76 L146.00 373.77 L146.50 373.78 L147.00 373.79 L147.50 373.80 L148.00 373.80 L148.50 373.81 L149.00 373.82 L149.50 373.83 L150.00 373.83 L150.50 373.84 L151.00 373.85 L151.50 373.86 L152.00 373.87 L152.50 373.87 L153.00 373.88 L153.50 373.89 L154.00 373.90 L154.50 373.90 L155.00 373.91 L155.50 373.92 L156.00 373.93 L156.50 373.94 L157.00 373.94 L157.50 373.95 L158.00 373.96 L158.50 373.97 L159.00 373.97 L159.50 373.98 L160.00 373.99 L160.50 374.00 L161.00 374.01 L161.50 374.01 L162.00 374.02 L162.50 374.03 L163.00 374.04 L163.50 374.04 L164.00 374.05 L164.50 374.06 L165.00 374.07 L165.50 374.08 L166.00 374.08 L166.50 374.09 L167.00 374.10 L167.50 374.11 L168.00 374.11 L168.50 374.12 L169.00 374.13 L169.50 374.14 L170.00 374.15 L170.50 374.15 L171.00 374.16 L171.50 374.17 L172.00 374.18 L172.50 374.18 L173.00 374.19 L173.50 374.20 L174.00 374.21 L174.50 374.22 L175.00 374.22 L175.50 374.23 L176.00 374.24 L176.50 374.25 L177.00 374.25 L177.50 374.26 L178.00 374.27 L178.50 374.28 L179.00 374.28 L179.50 374.29 L180.00 374.30 L180.50 374.31 L181.00 374.32 L181.50 374.32 L182.00 374.33 L182.50 374.34 L183.00 374.35 L183.50 374.35 L184.00 374.36 L184.50 374.37 L185.00 374.38 L185.50 374.39 L186.00 374.39 L186.50 374.40 L187.00 374.41 L187.50 374.42 L188.00 374.42 L188.50 374.43 L189.00 374.44 L189.50 374.45 L190.00 374.46 L190.50 374.46 L191.00 374.47 L191.50 374.48 L192.00 374.49 L192.50 374.49 L193.00 374.50 L193.50 374.51 L194.00 374.52 L194.50 374.53 L195.00 374.53 L195.50 374.54 L196.00 374.55 L196.50 374.56 L197.00 374.56 L197.50 374.57 L198.00 374.58 L198.50 374.59 L199.00 374.60 L199.50 374.60 L200.00 374.61 L200.50 374.62 L201.00 374.63 L201.50 374.63 L202.00 374.64 L202.50 374.65 L203.00 374.66 L203.50 374.67 L204.00 374.67 L204.50 374.68 L205.00 374.69 L205.50 374.70 L206.00 374.70 L206.50 374.71 L207.00 374.72 L207.50 374.73 L208.00 374.74 L208.50 374.74 L209.00 374.75 L209.50 374.76 L210.00 374.77 L210.50 374.77 L211.00 374.78 L211.50 374.79 L212.00 374.80 L212.50 374.81 L213.00 374.81 L213.50 374.82 L214.00 374.83 L214.50 374.84 L215.00 374.84 L215.50 374.85 L216.00 374.86 L216.50 374.87 L217.00 374.88 L217.50 374.88 L218.00 374.89 L218.50 374.90 L219.00 374.91 L219.50 374.91 L220.00 374.92 L220.50 374.93 L221.00 374.94 L221.50 374.95 L222.00 374.95 L222.50 374.96 L223.00 374.97 L223.50 374.98 L224.00 374.98" fill="none" stroke="#A050F0" stroke-width="2.1" stroke-linejoin="round" stroke-linecap="round"/>
<line x1="70.60" y1="278.70" x2="70.60" y2="356.00" stroke="#111" stroke-width="1.3" stroke-dasharray="1.3,1.7" stroke-linecap="butt"/>
<line x1="162.30" y1="250.00" x2="162.30" y2="349.80" stroke="#111" stroke-width="1.3" stroke-dasharray="1.3,1.7" stroke-linecap="butt"/>
<text x="34.50" y="257.30" font-size="13.20" fill="#111" text-anchor="start" font-weight="bold" textLength="14.5" lengthAdjust="spacingAndGlyphs">(c)</text>
<text x="51.60" y="257.30" font-size="13.60" fill="#111" text-anchor="start" font-weight="bold" textLength="34.4" lengthAdjust="spacingAndGlyphs">Sn 3d</text>
<text x="40.80" y="291.60" font-size="10.80" fill="#111" text-anchor="start" font-weight="bold" textLength="10.9" lengthAdjust="spacingAndGlyphs">3d</text>
<text x="52.50" y="294.50" font-size="9.20" fill="#111" text-anchor="start" font-weight="bold" textLength="13.9" lengthAdjust="spacingAndGlyphs">3/2</text>
<text x="77.70" y="291.60" font-size="10.60" fill="#111" text-anchor="start" font-weight="bold" textLength="40.1" lengthAdjust="spacingAndGlyphs">495.3 eV</text>
<text x="133.70" y="261.00" font-size="10.80" fill="#111" text-anchor="start" font-weight="bold" textLength="11.2" lengthAdjust="spacingAndGlyphs">3d</text>
<text x="144.70" y="263.60" font-size="9.20" fill="#111" text-anchor="start" font-weight="bold" textLength="13.9" lengthAdjust="spacingAndGlyphs">5/2</text>
<text x="166.00" y="262.40" font-size="10.60" fill="#111" text-anchor="start" font-weight="bold" textLength="38.6" lengthAdjust="spacingAndGlyphs">486.8eV</text>
<text x="202.50" y="344.30" font-size="9.80" fill="#111" text-anchor="start" font-weight="bold" textLength="17.5" lengthAdjust="spacingAndGlyphs">SnS</text>
<text x="220.10" y="347.00" font-size="7.20" fill="#111" text-anchor="start" font-weight="bold">2</text>
<text x="75.60" y="359.00" font-size="10.60" fill="#111" text-anchor="start" font-weight="bold" textLength="36.4" lengthAdjust="spacingAndGlyphs">494.9eV</text>
<text x="177.00" y="364.00" font-size="10.60" fill="#111" text-anchor="start" font-weight="bold" textLength="37.0" lengthAdjust="spacingAndGlyphs">486.5eV</text>
<text x="160.90" y="386.00" font-size="10.20" fill="#111" text-anchor="start" font-weight="bold" textLength="61.8" lengthAdjust="spacingAndGlyphs">10SQDs/SPI*3</text>
<rect x="340.70" y="243.20" width="191.10" height="155.10" fill="none" stroke="#000" stroke-width="2"/>
<line x1="341.00" y1="399.30" x2="341.00" y2="402.30" stroke="#000" stroke-width="1.5" stroke-linecap="butt"/>
<text x="341.00" y="413.20" font-size="13.00" fill="#111" text-anchor="middle" font-weight="bold">166</text>
<line x1="379.00" y1="399.30" x2="379.00" y2="402.30" stroke="#000" stroke-width="1.5" stroke-linecap="butt"/>
<text x="379.00" y="413.20" font-size="13.00" fill="#111" text-anchor="middle" font-weight="bold">164</text>
<line x1="417.00" y1="399.30" x2="417.00" y2="402.30" stroke="#000" stroke-width="1.5" stroke-linecap="butt"/>
<text x="417.00" y="413.20" font-size="13.00" fill="#111" text-anchor="middle" font-weight="bold">162</text>
<line x1="455.00" y1="399.30" x2="455.00" y2="402.30" stroke="#000" stroke-width="1.5" stroke-linecap="butt"/>
<text x="455.00" y="413.20" font-size="13.00" fill="#111" text-anchor="middle" font-weight="bold">160</text>
<line x1="493.00" y1="399.30" x2="493.00" y2="402.30" stroke="#000" stroke-width="1.5" stroke-linecap="butt"/>
<text x="493.00" y="413.20" font-size="13.00" fill="#111" text-anchor="middle" font-weight="bold">158</text>
<line x1="531.00" y1="399.30" x2="531.00" y2="402.30" stroke="#000" stroke-width="1.5" stroke-linecap="butt"/>
<text x="531.00" y="413.20" font-size="13.00" fill="#111" text-anchor="middle" font-weight="bold">156</text>
<line x1="360.00" y1="399.30" x2="360.00" y2="401.40" stroke="#000" stroke-width="1.5" stroke-linecap="butt"/>
<line x1="398.00" y1="399.30" x2="398.00" y2="401.40" stroke="#000" stroke-width="1.5" stroke-linecap="butt"/>
<line x1="436.00" y1="399.30" x2="436.00" y2="401.40" stroke="#000" stroke-width="1.5" stroke-linecap="butt"/>
<line x1="474.00" y1="399.30" x2="474.00" y2="401.40" stroke="#000" stroke-width="1.5" stroke-linecap="butt"/>
<line x1="512.00" y1="399.30" x2="512.00" y2="401.40" stroke="#000" stroke-width="1.5" stroke-linecap="butt"/>
<text x="436.20" y="428.90" font-size="13.60" fill="#111" text-anchor="middle" font-weight="bold" textLength="118.2" lengthAdjust="spacingAndGlyphs">Binding energy(eV)</text>
<text x="332.60" y="316.40" font-size="13.30" fill="#111" text-anchor="middle" font-weight="bold" textLength="89.7" lengthAdjust="spacingAndGlyphs" transform="rotate(-90 332.60 316.40)">Intensity (a.u.)</text>
<path d="M342.00 292.16 L343.00 292.13 L344.00 292.10 L345.00 292.06 L346.00 292.03 L347.00 291.99 L348.00 291.95 L349.00 291.91 L350.00 291.87 L351.00 291.82 L352.00 291.78 L353.00 291.73 L354.00 291.68 L355.00 291.62 L356.00 291.57 L357.00 291.51 L358.00 291.45 L359.00 291.39 L360.00 291.32 L361.00 291.26 L362.00 291.19 L363.00 291.12 L364.00 291.05 L365.00 290.98 L366.00 290.90 L367.00 290.83 L368.00 290.75 L369.00 290.67 L370.00 290.59 L371.00 290.51 L372.00 290.43 L373.00 290.35 L374.00 290.27 L375.00 290.18 L376.00 290.10 L377.00 290.02 L378.00 289.94 L379.00 289.85 L380.00 289.77 L381.00 289.69 L382.00 289.62 L383.00 289.54 L384.00 289.46 L385.00 289.39 L386.00 289.32 L387.00 289.25 L388.00 289.18 L389.00 289.12 L390.00 289.06 L391.00 289.00 L392.00 288.94 L393.00 288.89 L394.00 288.85 L395.00 288.80 L396.00 288.76 L397.00 288.73 L398.00 288.69 L399.00 288.67 L400.00 288.65 L401.00 288.63 L402.00 288.61 L403.00 288.61 L404.00 288.60 L405.00 288.60 L406.00 288.61 L407.00 288.62 L408.00 288.63 L409.00 288.65 L410.00 288.68 L411.00 288.71 L412.00 288.74 L413.00 288.78 L414.00 288.82 L415.00 288.86 L416.00 288.91 L417.00 288.97 L418.00 289.03 L419.00 289.09 L420.00 289.15 L421.00 289.22 L422.00 289.29 L423.00 289.36 L424.00 289.44 L425.00 289.52 L426.00 289.60 L427.00 289.68 L428.00 289.76 L429.00 289.85 L430.00 289.93 L431.00 290.02 L432.00 290.11 L433.00 290.20 L434.00 290.28 L435.00 290.37 L436.00 290.46 L437.00 290.55 L438.00 290.64 L439.00 290.73 L440.00 290.81 L441.00 290.90 L442.00 290.98 L443.00 291.07 L444.00 291.15 L445.00 291.23 L446.00 291.31 L447.00 291.39 L448.00 291.46 L449.00 291.54 L450.00 291.61 L451.00 291.68 L452.00 291.75 L453.00 291.81 L454.00 291.88 L455.00 291.94 L456.00 292.00 L457.00 292.06 L458.00 292.11 L459.00 292.17 L460.00 292.22 L461.00 292.27 L462.00 292.31 L463.00 292.36 L464.00 292.40 L465.00 292.44 L466.00 292.48 L467.00 292.52 L468.00 292.56 L469.00 292.59 L470.00 292.62 L471.00 292.65 L472.00 292.68 L473.00 292.71 L474.00 292.74 L475.00 292.76 L476.00 292.78 L477.00 292.81 L478.00 292.83 L479.00 292.85 L480.00 292.86 L481.00 292.88 L482.00 292.90 L483.00 292.91 L484.00 292.93 L485.00 292.94 L486.00 292.96 L487.00 292.97 L488.00 292.98 L489.00 292.99 L490.00 293.00 L491.00 293.01 L492.00 293.02 L493.00 293.03 L494.00 293.04 L495.00 293.04 L496.00 293.05 L497.00 293.06 L498.00 293.06 L499.00 293.07 L500.00 293.08 L501.00 293.08 L502.00 293.09 L503.00 293.09 L504.00 293.10 L505.00 293.10 L506.00 293.11 L507.00 293.11 L508.00 293.12 L509.00 293.12 L510.00 293.13 L511.00 293.13 L512.00 293.13 L513.00 293.14 L514.00 293.14 L515.00 293.15 L516.00 293.15 L517.00 293.15 L518.00 293.16 L519.00 293.16 L520.00 293.16 L521.00 293.17 L522.00 293.17 L523.00 293.17 L524.00 293.18 L525.00 293.18 L526.00 293.18 L527.00 293.19 L528.00 293.19 L529.00 293.19 L530.00 293.20 L530.00 293.20 L342.00 292.60 Z" fill="url(#g13)" stroke="none"/>
<path d="M412.00 288.62 L413.00 288.44 L414.00 288.21 L415.00 287.93 L416.00 287.59 L417.00 287.19 L418.00 286.71 L419.00 286.16 L420.00 285.53 L421.00 284.83 L422.00 284.07 L423.00 283.24 L424.00 282.36 L425.00 281.45 L426.00 280.54 L427.00 279.63 L428.00 278.76 L429.00 277.96 L430.00 277.25 L431.00 276.65 L432.00 276.18 L433.00 275.87 L434.00 275.71 L435.00 275.73 L436.00 275.92 L437.00 276.26 L438.00 276.76 L439.00 277.38 L440.00 278.12 L441.00 278.93 L442.00 279.81 L443.00 280.72 L444.00 281.64 L445.00 282.54 L446.00 283.41 L447.00 284.22 L448.00 284.98 L449.00 285.67 L450.00 286.28 L451.00 286.81 L452.00 287.27 L453.00 287.67 L454.00 287.99 L455.00 288.26 L456.00 288.48 L457.00 288.66 L458.00 288.79 L458.00 289.20 L412.00 289.20 Z" fill="url(#g14)" stroke="none"/>
<path d="M422.00 289.20 L423.00 289.02 L424.00 288.79 L425.00 288.53 L426.00 288.23 L427.00 287.89 L428.00 287.50 L429.00 287.06 L430.00 286.57 L431.00 286.03 L432.00 285.43 L433.00 284.80 L434.00 284.11 L435.00 283.40 L436.00 282.65 L437.00 281.88 L438.00 281.10 L439.00 280.32 L440.00 279.56 L441.00 278.82 L442.00 278.13 L443.00 277.50 L444.00 276.95 L445.00 276.48 L446.00 276.11 L447.00 275.86 L448.00 275.72 L449.00 275.71 L450.00 275.82 L451.00 276.05 L452.00 276.40 L453.00 276.85 L454.00 277.38 L455.00 278.00 L456.00 278.68 L457.00 279.41 L458.00 280.17 L459.00 280.94 L460.00 281.72 L461.00 282.49 L462.00 283.25 L463.00 283.97 L464.00 284.66 L465.00 285.31 L466.00 285.91 L467.00 286.46 L468.00 286.96 L469.00 287.41 L470.00 287.81 L471.00 288.17 L472.00 288.48 L473.00 288.74 L474.00 288.97 L475.00 289.17 L476.00 289.33 L477.00 289.47 L478.00 289.59 L479.00 289.68 L480.00 289.76 L481.00 289.82 L482.00 289.87 L483.00 289.92 L484.00 289.95 L485.00 289.98 L486.00 290.00 L487.00 290.02 L488.00 290.04 L489.00 290.05 L490.00 290.06 L490.00 290.20 L422.00 290.20 Z" fill="url(#g15)" stroke="none"/>
<path d="M342.00 295.60 L342.50 295.60 L343.00 295.61 L343.50 295.61 L344.00 295.61 L344.50 295.61 L345.00 295.61 L345.50 295.61 L346.00 295.62 L346.50 295.62 L347.00 295.62 L347.50 295.62 L348.00 295.62 L348.50 295.62 L349.00 295.63 L349.50 295.63 L350.00 295.63 L350.50 295.63 L351.00 295.63 L351.50 295.63 L352.00 295.63 L352.50 295.64 L353.00 295.64 L353.50 295.64 L354.00 295.64 L354.50 295.64 L355.00 295.64 L355.50 295.65 L356.00 295.65 L356.50 295.65 L357.00 295.65 L357.50 295.65 L358.00 295.65 L358.50 295.66 L359.00 295.66 L359.50 295.66 L360.00 295.66 L360.50 295.66 L361.00 295.66 L361.50 295.66 L362.00 295.67 L362.50 295.67 L363.00 295.67 L363.50 295.67 L364.00 295.67 L364.50 295.67 L365.00 295.68 L365.50 295.68 L366.00 295.68 L366.50 295.68 L367.00 295.68 L367.50 295.68 L368.00 295.69 L368.50 295.69 L369.00 295.69 L369.50 295.69 L370.00 295.69 L370.50 295.69 L371.00 295.69 L371.50 295.70 L372.00 295.70 L372.50 295.70 L373.00 295.70 L373.50 295.70 L374.00 295.70 L374.50 295.71 L375.00 295.71 L375.50 295.71 L376.00 295.71 L376.50 295.71 L377.00 295.71 L377.50 295.72 L378.00 295.72 L378.50 295.72 L379.00 295.72 L379.50 295.72 L380.00 295.72 L380.50 295.72 L381.00 295.73 L381.50 295.73 L382.00 295.73 L382.50 295.73 L383.00 295.73 L383.50 295.73 L384.00 295.74 L384.50 295.74 L385.00 295.74 L385.50 295.74 L386.00 295.74 L386.50 295.74 L387.00 295.75 L387.50 295.75 L388.00 295.75 L388.50 295.75 L389.00 295.75 L389.50 295.75 L390.00 295.75 L390.50 295.76 L391.00 295.76 L391.50 295.76 L392.00 295.76 L392.50 295.76 L393.00 295.76 L393.50 295.77 L394.00 295.77 L394.50 295.77 L395.00 295.77 L395.50 295.77 L396.00 295.77 L396.50 295.78 L397.00 295.78 L397.50 295.78 L398.00 295.78 L398.50 295.78 L399.00 295.78 L399.50 295.78 L400.00 295.79 L400.50 295.79 L401.00 295.79 L401.50 295.79 L402.00 295.79 L402.50 295.79 L403.00 295.80 L403.50 295.80 L404.00 295.80 L404.50 295.80 L405.00 295.80 L405.50 295.80 L406.00 295.81 L406.50 295.81 L407.00 295.81 L407.50 295.81 L408.00 295.81 L408.50 295.81 L409.00 295.81 L409.50 295.82 L410.00 295.82 L410.50 295.82 L411.00 295.82 L411.50 295.82 L412.00 295.82 L412.50 295.83 L413.00 295.83 L413.50 295.83 L414.00 295.83 L414.50 295.83 L415.00 295.83 L415.50 295.84 L416.00 295.84 L416.50 295.84 L417.00 295.84 L417.50 295.84 L418.00 295.84 L418.50 295.84 L419.00 295.85 L419.50 295.85 L420.00 295.85 L420.50 295.85 L421.00 295.85 L421.50 295.85 L422.00 295.86 L422.50 295.86 L423.00 295.86 L423.50 295.86 L424.00 295.86 L424.50 295.86 L425.00 295.87 L425.50 295.87 L426.00 295.87 L426.50 295.87 L427.00 295.87 L427.50 295.87 L428.00 295.87 L428.50 295.88 L429.00 295.88 L429.50 295.88 L430.00 295.88 L430.50 295.88 L431.00 295.88 L431.50 295.89 L432.00 295.89 L432.50 295.89 L433.00 295.89 L433.50 295.89 L434.00 295.89 L434.50 295.90 L435.00 295.90 L435.50 295.90 L436.00 295.90 L436.50 295.90 L437.00 295.90 L437.50 295.90 L438.00 295.91 L438.50 295.91 L439.00 295.91 L439.50 295.91 L440.00 295.91 L440.50 295.91 L441.00 295.92 L441.50 295.92 L442.00 295.92 L442.50 295.92 L443.00 295.92 L443.50 295.92 L444.00 295.93 L444.50 295.93 L445.00 295.93 L445.50 295.93 L446.00 295.93 L446.50 295.93 L447.00 295.93 L447.50 295.94 L448.00 295.94 L448.50 295.94 L449.00 295.94 L449.50 295.94 L450.00 295.94 L450.50 295.95 L451.00 295.95 L451.50 295.95 L452.00 295.95 L452.50 295.95 L453.00 295.95 L453.50 295.96 L454.00 295.96 L454.50 295.96 L455.00 295.96 L455.50 295.96 L456.00 295.96 L456.50 295.96 L457.00 295.97 L457.50 295.97 L458.00 295.97 L458.50 295.97 L459.00 295.97 L459.50 295.97 L460.00 295.98 L460.50 295.98 L461.00 295.98 L461.50 295.98 L462.00 295.98 L462.50 295.98 L463.00 295.99 L463.50 295.99 L464.00 295.99 L464.50 295.99 L465.00 295.99 L465.50 295.99 L466.00 295.99 L466.50 296.00 L467.00 296.00 L467.50 296.00 L468.00 296.00 L468.50 296.00 L469.00 296.00 L469.50 296.01 L470.00 296.01 L470.50 296.01 L471.00 296.01 L471.50 296.01 L472.00 296.01 L472.50 296.02 L473.00 296.02 L473.50 296.02 L474.00 296.02 L474.50 296.02 L475.00 296.02 L475.50 296.02 L476.00 296.03 L476.50 296.03 L477.00 296.03 L477.50 296.03 L478.00 296.03 L478.50 296.03 L479.00 296.04 L479.50 296.04 L480.00 296.04 L480.50 296.04 L481.00 296.04 L481.50 296.04 L482.00 296.05 L482.50 296.05 L483.00 296.05 L483.50 296.05 L484.00 296.05 L484.50 296.05 L485.00 296.05 L485.50 296.06 L486.00 296.06 L486.50 296.06 L487.00 296.06 L487.50 296.06 L488.00 296.06 L488.50 296.07 L489.00 296.07 L489.50 296.07 L490.00 296.07 L490.50 296.07 L491.00 296.07 L491.50 296.08 L492.00 296.08 L492.50 296.08 L493.00 296.08 L493.50 296.08 L494.00 296.08 L494.50 296.08 L495.00 296.09 L495.50 296.09 L496.00 296.09 L496.50 296.09 L497.00 296.09 L497.50 296.09 L498.00 296.10 L498.50 296.10 L499.00 296.10 L499.50 296.10 L500.00 296.10 L500.50 296.10 L501.00 296.11 L501.50 296.11 L502.00 296.11 L502.50 296.11 L503.00 296.11 L503.50 296.11 L504.00 296.11 L504.50 296.12 L505.00 296.12 L505.50 296.12 L506.00 296.12 L506.50 296.12 L507.00 296.12 L507.50 296.13 L508.00 296.13 L508.50 296.13 L509.00 296.13 L509.50 296.13 L510.00 296.13 L510.50 296.14 L511.00 296.14 L511.50 296.14 L512.00 296.14 L512.50 296.14 L513.00 296.14 L513.50 296.14 L514.00 296.15 L514.50 296.15 L515.00 296.15 L515.50 296.15 L516.00 296.15 L516.50 296.15 L517.00 296.16 L517.50 296.16 L518.00 296.16 L518.50 296.16 L519.00 296.16 L519.50 296.16 L520.00 296.17 L520.50 296.17 L521.00 296.17 L521.50 296.17 L522.00 296.17 L522.50 296.17 L523.00 296.17 L523.50 296.18 L524.00 296.18 L524.50 296.18 L525.00 296.18 L525.50 296.18 L526.00 296.18 L526.50 296.19 L527.00 296.19 L527.50 296.19 L528.00 296.19 L528.50 296.19 L529.00 296.19 L529.50 296.20 L530.00 296.20" fill="none" stroke="#8A50F0" stroke-width="1.6" stroke-linejoin="round" stroke-linecap="round"/>
<path d="M342.00 294.90 L342.50 294.90 L343.00 294.91 L343.50 294.91 L344.00 294.91 L344.50 294.91 L345.00 294.91 L345.50 294.91 L346.00 294.92 L346.50 294.92 L347.00 294.92 L347.50 294.92 L348.00 294.92 L348.50 294.92 L349.00 294.93 L349.50 294.93 L350.00 294.93 L350.50 294.93 L351.00 294.93 L351.50 294.93 L352.00 294.93 L352.50 294.94 L353.00 294.94 L353.50 294.94 L354.00 294.94 L354.50 294.94 L355.00 294.94 L355.50 294.95 L356.00 294.95 L356.50 294.95 L357.00 294.95 L357.50 294.95 L358.00 294.95 L358.50 294.96 L359.00 294.96 L359.50 294.96 L360.00 294.96 L360.50 294.96 L361.00 294.96 L361.50 294.96 L362.00 294.97 L362.50 294.97 L363.00 294.97 L363.50 294.97 L364.00 294.97 L364.50 294.97 L365.00 294.98 L365.50 294.98 L366.00 294.98 L366.50 294.98 L367.00 294.98 L367.50 294.98 L368.00 294.99 L368.50 294.99 L369.00 294.99 L369.50 294.99 L370.00 294.99 L370.50 294.99 L371.00 294.99 L371.50 295.00 L372.00 295.00 L372.50 295.00 L373.00 295.00 L373.50 295.00 L374.00 295.00 L374.50 295.01 L375.00 295.01 L375.50 295.01 L376.00 295.01 L376.50 295.01 L377.00 295.01 L377.50 295.02 L378.00 295.02 L378.50 295.02 L379.00 295.02 L379.50 295.02 L380.00 295.02 L380.50 295.02 L381.00 295.03 L381.50 295.03 L382.00 295.03 L382.50 295.03 L383.00 295.03 L383.50 295.03 L384.00 295.04 L384.50 295.04 L385.00 295.04 L385.50 295.04 L386.00 295.04 L386.50 295.04 L387.00 295.05 L387.50 295.05 L388.00 295.05 L388.50 295.05 L389.00 295.05 L389.50 295.05 L390.00 295.05 L390.50 295.06 L391.00 295.06 L391.50 295.06 L392.00 295.06 L392.50 295.06 L393.00 295.06 L393.50 295.07 L394.00 295.07 L394.50 295.07 L395.00 295.07 L395.50 295.07 L396.00 295.07 L396.50 295.08 L397.00 295.08 L397.50 295.08 L398.00 295.08 L398.50 295.08 L399.00 295.08 L399.50 295.08 L400.00 295.09 L400.50 295.09 L401.00 295.09 L401.50 295.09 L402.00 295.09 L402.50 295.09 L403.00 295.10 L403.50 295.10 L404.00 295.10 L404.50 295.10 L405.00 295.10 L405.50 295.10 L406.00 295.11 L406.50 295.11 L407.00 295.11 L407.50 295.11 L408.00 295.11 L408.50 295.11 L409.00 295.11 L409.50 295.12 L410.00 295.12 L410.50 295.12 L411.00 295.12 L411.50 295.12 L412.00 295.12 L412.50 295.13 L413.00 295.13 L413.50 295.13 L414.00 295.13 L414.50 295.13 L415.00 295.13 L415.50 295.14 L416.00 295.14 L416.50 295.14 L417.00 295.14 L417.50 295.14 L418.00 295.14 L418.50 295.14 L419.00 295.15 L419.50 295.15 L420.00 295.15 L420.50 295.15 L421.00 295.15 L421.50 295.15 L422.00 295.16 L422.50 295.16 L423.00 295.16 L423.50 295.16 L424.00 295.16 L424.50 295.16 L425.00 295.17 L425.50 295.17 L426.00 295.17 L426.50 295.17 L427.00 295.17 L427.50 295.17 L428.00 295.17 L428.50 295.18 L429.00 295.18 L429.50 295.18 L430.00 295.18 L430.50 295.18 L431.00 295.18 L431.50 295.19 L432.00 295.19 L432.50 295.19 L433.00 295.19 L433.50 295.19 L434.00 295.19 L434.50 295.20 L435.00 295.20 L435.50 295.20 L436.00 295.20 L436.50 295.20 L437.00 295.20 L437.50 295.20 L438.00 295.21 L438.50 295.21 L439.00 295.21 L439.50 295.21 L440.00 295.21 L440.50 295.21 L441.00 295.22 L441.50 295.22 L442.00 295.22 L442.50 295.22 L443.00 295.22 L443.50 295.22 L444.00 295.23 L444.50 295.23 L445.00 295.23 L445.50 295.23 L446.00 295.23 L446.50 295.23 L447.00 295.23 L447.50 295.24 L448.00 295.24 L448.50 295.24 L449.00 295.24 L449.50 295.24 L450.00 295.24 L450.50 295.25 L451.00 295.25 L451.50 295.25 L452.00 295.25 L452.50 295.25 L453.00 295.25 L453.50 295.26 L454.00 295.26 L454.50 295.26 L455.00 295.26 L455.50 295.26 L456.00 295.26 L456.50 295.26 L457.00 295.27 L457.50 295.27 L458.00 295.27 L458.50 295.27 L459.00 295.27 L459.50 295.27 L460.00 295.28 L460.50 295.28 L461.00 295.28 L461.50 295.28 L462.00 295.28 L462.50 295.28 L463.00 295.29 L463.50 295.29 L464.00 295.29 L464.50 295.29 L465.00 295.29 L465.50 295.29 L466.00 295.29 L466.50 295.30 L467.00 295.30 L467.50 295.30 L468.00 295.30 L468.50 295.30 L469.00 295.30 L469.50 295.31 L470.00 295.31 L470.50 295.31 L471.00 295.31 L471.50 295.31 L472.00 295.31 L472.50 295.32 L473.00 295.32 L473.50 295.32 L474.00 295.32 L474.50 295.32 L475.00 295.32 L475.50 295.32 L476.00 295.33 L476.50 295.33 L477.00 295.33 L477.50 295.33 L478.00 295.33 L478.50 295.33 L479.00 295.34 L479.50 295.34 L480.00 295.34 L480.50 295.34 L481.00 295.34 L481.50 295.34 L482.00 295.35 L482.50 295.35 L483.00 295.35 L483.50 295.35 L484.00 295.35 L484.50 295.35 L485.00 295.35 L485.50 295.36 L486.00 295.36 L486.50 295.36 L487.00 295.36 L487.50 295.36 L488.00 295.36 L488.50 295.37 L489.00 295.37 L489.50 295.37 L490.00 295.37 L490.50 295.37 L491.00 295.37 L491.50 295.38 L492.00 295.38 L492.50 295.38 L493.00 295.38 L493.50 295.38 L494.00 295.38 L494.50 295.38 L495.00 295.39 L495.50 295.39 L496.00 295.39 L496.50 295.39 L497.00 295.39 L497.50 295.39 L498.00 295.40 L498.50 295.40 L499.00 295.40 L499.50 295.40 L500.00 295.40 L500.50 295.40 L501.00 295.41 L501.50 295.41 L502.00 295.41 L502.50 295.41 L503.00 295.41 L503.50 295.41 L504.00 295.41 L504.50 295.42 L505.00 295.42 L505.50 295.42 L506.00 295.42 L506.50 295.42 L507.00 295.42 L507.50 295.43 L508.00 295.43 L508.50 295.43 L509.00 295.43 L509.50 295.43 L510.00 295.43 L510.50 295.44 L511.00 295.44 L511.50 295.44 L512.00 295.44 L512.50 295.44 L513.00 295.44 L513.50 295.44 L514.00 295.45 L514.50 295.45 L515.00 295.45 L515.50 295.45 L516.00 295.45 L516.50 295.45 L517.00 295.46 L517.50 295.46 L518.00 295.46 L518.50 295.46 L519.00 295.46 L519.50 295.46 L520.00 295.47 L520.50 295.47 L521.00 295.47 L521.50 295.47 L522.00 295.47 L522.50 295.47 L523.00 295.47 L523.50 295.48 L524.00 295.48 L524.50 295.48 L525.00 295.48 L525.50 295.48 L526.00 295.48 L526.50 295.49 L527.00 295.49 L527.50 295.49 L528.00 295.49 L528.50 295.49 L529.00 295.49 L529.50 295.50 L530.00 295.50" fill="none" stroke="#B08020" stroke-width="1.0" stroke-linejoin="round" stroke-linecap="round"/>
<path d="M342.00 293.80 L342.50 293.80 L343.00 293.81 L343.50 293.81 L344.00 293.81 L344.50 293.81 L345.00 293.81 L345.50 293.81 L346.00 293.82 L346.50 293.82 L347.00 293.82 L347.50 293.82 L348.00 293.82 L348.50 293.82 L349.00 293.83 L349.50 293.83 L350.00 293.83 L350.50 293.83 L351.00 293.83 L351.50 293.83 L352.00 293.83 L352.50 293.84 L353.00 293.84 L353.50 293.84 L354.00 293.84 L354.50 293.84 L355.00 293.84 L355.50 293.85 L356.00 293.85 L356.50 293.85 L357.00 293.85 L357.50 293.85 L358.00 293.85 L358.50 293.86 L359.00 293.86 L359.50 293.86 L360.00 293.86 L360.50 293.86 L361.00 293.86 L361.50 293.86 L362.00 293.87 L362.50 293.87 L363.00 293.87 L363.50 293.87 L364.00 293.87 L364.50 293.87 L365.00 293.88 L365.50 293.88 L366.00 293.88 L366.50 293.88 L367.00 293.88 L367.50 293.88 L368.00 293.89 L368.50 293.89 L369.00 293.89 L369.50 293.89 L370.00 293.89 L370.50 293.89 L371.00 293.89 L371.50 293.90 L372.00 293.90 L372.50 293.90 L373.00 293.90 L373.50 293.90 L374.00 293.90 L374.50 293.91 L375.00 293.91 L375.50 293.91 L376.00 293.91 L376.50 293.91 L377.00 293.91 L377.50 293.92 L378.00 293.92 L378.50 293.92 L379.00 293.92 L379.50 293.92 L380.00 293.92 L380.50 293.92 L381.00 293.93 L381.50 293.93 L382.00 293.93 L382.50 293.93 L383.00 293.93 L383.50 293.93 L384.00 293.94 L384.50 293.94 L385.00 293.94 L385.50 293.94 L386.00 293.94 L386.50 293.94 L387.00 293.95 L387.50 293.95 L388.00 293.95 L388.50 293.95 L389.00 293.95 L389.50 293.95 L390.00 293.95 L390.50 293.96 L391.00 293.96 L391.50 293.96 L392.00 293.96 L392.50 293.96 L393.00 293.96 L393.50 293.97 L394.00 293.97 L394.50 293.97 L395.00 293.97 L395.50 293.97 L396.00 293.97 L396.50 293.98 L397.00 293.98 L397.50 293.98 L398.00 293.98 L398.50 293.98 L399.00 293.98 L399.50 293.98 L400.00 293.99 L400.50 293.99 L401.00 293.99 L401.50 293.99 L402.00 293.99 L402.50 293.99 L403.00 294.00 L403.50 294.00 L404.00 294.00 L404.50 294.00 L405.00 294.00 L405.50 294.00 L406.00 294.01 L406.50 294.01 L407.00 294.01 L407.50 294.01 L408.00 294.01 L408.50 294.01 L409.00 294.01 L409.50 294.02 L410.00 294.02 L410.50 294.02 L411.00 294.02 L411.50 294.02 L412.00 294.02 L412.50 294.03 L413.00 294.03 L413.50 294.03 L414.00 294.03 L414.50 294.03 L415.00 294.03 L415.50 294.04 L416.00 294.04 L416.50 294.04 L417.00 294.04 L417.50 294.04 L418.00 294.04 L418.50 294.04 L419.00 294.05 L419.50 294.05 L420.00 294.05 L420.50 294.05 L421.00 294.05 L421.50 294.05 L422.00 294.06 L422.50 294.06 L423.00 294.06 L423.50 294.06 L424.00 294.06 L424.50 294.06 L425.00 294.07 L425.50 294.07 L426.00 294.07 L426.50 294.07 L427.00 294.07 L427.50 294.07 L428.00 294.07 L428.50 294.08 L429.00 294.08 L429.50 294.08 L430.00 294.08 L430.50 294.08 L431.00 294.08 L431.50 294.09 L432.00 294.09 L432.50 294.09 L433.00 294.09 L433.50 294.09 L434.00 294.09 L434.50 294.10 L435.00 294.10 L435.50 294.10 L436.00 294.10 L436.50 294.10 L437.00 294.10 L437.50 294.10 L438.00 294.11 L438.50 294.11 L439.00 294.11 L439.50 294.11 L440.00 294.11 L440.50 294.11 L441.00 294.12 L441.50 294.12 L442.00 294.12 L442.50 294.12 L443.00 294.12 L443.50 294.12 L444.00 294.13 L444.50 294.13 L445.00 294.13 L445.50 294.13 L446.00 294.13 L446.50 294.13 L447.00 294.13 L447.50 294.14 L448.00 294.14 L448.50 294.14 L449.00 294.14 L449.50 294.14 L450.00 294.14 L450.50 294.15 L451.00 294.15 L451.50 294.15 L452.00 294.15 L452.50 294.15 L453.00 294.15 L453.50 294.16 L454.00 294.16 L454.50 294.16 L455.00 294.16 L455.50 294.16 L456.00 294.16 L456.50 294.16 L457.00 294.17 L457.50 294.17 L458.00 294.17 L458.50 294.17 L459.00 294.17 L459.50 294.17 L460.00 294.18 L460.50 294.18 L461.00 294.18 L461.50 294.18 L462.00 294.18 L462.50 294.18 L463.00 294.19 L463.50 294.19 L464.00 294.19 L464.50 294.19 L465.00 294.19 L465.50 294.19 L466.00 294.19 L466.50 294.20 L467.00 294.20 L467.50 294.20 L468.00 294.20 L468.50 294.20 L469.00 294.20 L469.50 294.21 L470.00 294.21 L470.50 294.21 L471.00 294.21 L471.50 294.21 L472.00 294.21 L472.50 294.22 L473.00 294.22 L473.50 294.22 L474.00 294.22 L474.50 294.22 L475.00 294.22 L475.50 294.22 L476.00 294.23 L476.50 294.23 L477.00 294.23 L477.50 294.23 L478.00 294.23 L478.50 294.23 L479.00 294.24 L479.50 294.24 L480.00 294.24 L480.50 294.24 L481.00 294.24 L481.50 294.24 L482.00 294.25 L482.50 294.25 L483.00 294.25 L483.50 294.25 L484.00 294.25 L484.50 294.25 L485.00 294.25 L485.50 294.26 L486.00 294.26 L486.50 294.26 L487.00 294.26 L487.50 294.26 L488.00 294.26 L488.50 294.27 L489.00 294.27 L489.50 294.27 L490.00 294.27 L490.50 294.27 L491.00 294.27 L491.50 294.28 L492.00 294.28 L492.50 294.28 L493.00 294.28 L493.50 294.28 L494.00 294.28 L494.50 294.28 L495.00 294.29 L495.50 294.29 L496.00 294.29 L496.50 294.29 L497.00 294.29 L497.50 294.29 L498.00 294.30 L498.50 294.30 L499.00 294.30 L499.50 294.30 L500.00 294.30 L500.50 294.30 L501.00 294.31 L501.50 294.31 L502.00 294.31 L502.50 294.31 L503.00 294.31 L503.50 294.31 L504.00 294.31 L504.50 294.32 L505.00 294.32 L505.50 294.32 L506.00 294.32 L506.50 294.32 L507.00 294.32 L507.50 294.33 L508.00 294.33 L508.50 294.33 L509.00 294.33 L509.50 294.33 L510.00 294.33 L510.50 294.34 L511.00 294.34 L511.50 294.34 L512.00 294.34 L512.50 294.34 L513.00 294.34 L513.50 294.34 L514.00 294.35 L514.50 294.35 L515.00 294.35 L515.50 294.35 L516.00 294.35 L516.50 294.35 L517.00 294.36 L517.50 294.36 L518.00 294.36 L518.50 294.36 L519.00 294.36 L519.50 294.36 L520.00 294.37 L520.50 294.37 L521.00 294.37 L521.50 294.37 L522.00 294.37 L522.50 294.37 L523.00 294.37 L523.50 294.38 L524.00 294.38 L524.50 294.38 L525.00 294.38 L525.50 294.38 L526.00 294.38 L526.50 294.39 L527.00 294.39 L527.50 294.39 L528.00 294.39 L528.50 294.39 L529.00 294.39 L529.50 294.40 L530.00 294.40" fill="none" stroke="#1E84FF" stroke-width="2.2" stroke-linejoin="round" stroke-linecap="round"/>
<path d="M342.00 292.16 L343.00 292.13 L344.00 292.10 L345.00 292.06 L346.00 292.03 L347.00 291.99 L348.00 291.95 L349.00 291.91 L350.00 291.87 L351.00 291.82 L352.00 291.78 L353.00 291.73 L354.00 291.68 L355.00 291.62 L356.00 291.57 L357.00 291.51 L358.00 291.45 L359.00 291.39 L360.00 291.32 L361.00 291.26 L362.00 291.19 L363.00 291.12 L364.00 291.05 L365.00 290.98 L366.00 290.90 L367.00 290.83 L368.00 290.75 L369.00 290.67 L370.00 290.59 L371.00 290.51 L372.00 290.43 L373.00 290.35 L374.00 290.27 L375.00 290.18 L376.00 290.10 L377.00 290.02 L378.00 289.94 L379.00 289.85 L380.00 289.77 L381.00 289.69 L382.00 289.62 L383.00 289.54 L384.00 289.46 L385.00 289.39 L386.00 289.32 L387.00 289.25 L388.00 289.18 L389.00 289.12 L390.00 289.06 L391.00 289.00 L392.00 288.94 L393.00 288.89 L394.00 288.85 L395.00 288.80 L396.00 288.76 L397.00 288.73 L398.00 288.69 L399.00 288.67 L400.00 288.65 L401.00 288.63 L402.00 288.61 L403.00 288.61 L404.00 288.60 L405.00 288.60 L406.00 288.61 L407.00 288.62 L408.00 288.63 L409.00 288.65 L410.00 288.68 L411.00 288.71 L412.00 288.74 L413.00 288.78 L414.00 288.82 L415.00 288.86 L416.00 288.91 L417.00 288.97 L418.00 289.03 L419.00 289.09 L420.00 289.15 L421.00 289.22 L422.00 289.29 L423.00 289.36 L424.00 289.44 L425.00 289.52 L426.00 289.60 L427.00 289.68 L428.00 289.76 L429.00 289.85 L430.00 289.93 L431.00 290.02 L432.00 290.11 L433.00 290.20 L434.00 290.28 L435.00 290.37 L436.00 290.46 L437.00 290.55 L438.00 290.64 L439.00 290.73 L440.00 290.81 L441.00 290.90 L442.00 290.98 L443.00 291.07 L444.00 291.15 L445.00 291.23 L446.00 291.31 L447.00 291.39 L448.00 291.46 L449.00 291.54 L450.00 291.61 L451.00 291.68 L452.00 291.75 L453.00 291.81 L454.00 291.88 L455.00 291.94 L456.00 292.00 L457.00 292.06 L458.00 292.11 L459.00 292.17 L460.00 292.22 L461.00 292.27 L462.00 292.31 L463.00 292.36 L464.00 292.40 L465.00 292.44 L466.00 292.48 L467.00 292.52 L468.00 292.56 L469.00 292.59 L470.00 292.62 L471.00 292.65 L472.00 292.68 L473.00 292.71 L474.00 292.74 L475.00 292.76 L476.00 292.78 L477.00 292.81 L478.00 292.83 L479.00 292.85 L480.00 292.86 L481.00 292.88 L482.00 292.90 L483.00 292.91 L484.00 292.93 L485.00 292.94 L486.00 292.96 L487.00 292.97 L488.00 292.98 L489.00 292.99 L490.00 293.00 L491.00 293.01 L492.00 293.02 L493.00 293.03 L494.00 293.04 L495.00 293.04 L496.00 293.05 L497.00 293.06 L498.00 293.06 L499.00 293.07 L500.00 293.08 L501.00 293.08 L502.00 293.09 L503.00 293.09 L504.00 293.10 L505.00 293.10 L506.00 293.11 L507.00 293.11 L508.00 293.12 L509.00 293.12 L510.00 293.13 L511.00 293.13 L512.00 293.13 L513.00 293.14 L514.00 293.14 L515.00 293.15 L516.00 293.15 L517.00 293.15 L518.00 293.16 L519.00 293.16 L520.00 293.16 L521.00 293.17 L522.00 293.17 L523.00 293.17 L524.00 293.18 L525.00 293.18 L526.00 293.18 L527.00 293.19 L528.00 293.19 L529.00 293.19 L530.00 293.20" fill="none" stroke="#38C0F8" stroke-width="2.0" stroke-linejoin="round" stroke-linecap="round"/>
<path d="M414.00 288.21 L415.00 287.93 L416.00 287.59 L417.00 287.19 L418.00 286.71 L419.00 286.16 L420.00 285.53 L421.00 284.83 L422.00 284.07 L423.00 283.24 L424.00 282.36 L425.00 281.45 L426.00 280.54 L427.00 279.63 L428.00 278.76 L429.00 277.96 L430.00 277.25 L431.00 276.65 L432.00 276.18 L433.00 275.87 L434.00 275.71 L435.00 275.73 L436.00 275.92 L437.00 276.26 L438.00 276.76 L439.00 277.38 L440.00 278.12 L441.00 278.93 L442.00 279.81 L443.00 280.72 L444.00 281.64 L445.00 282.54 L446.00 283.41 L447.00 284.22 L448.00 284.98 L449.00 285.67 L450.00 286.28 L451.00 286.81 L452.00 287.27 L453.00 287.67 L454.00 287.99" fill="none" stroke="#BF9A22" stroke-width="1.7" stroke-linejoin="round" stroke-linecap="round"/>
<path d="M424.00 288.79 L425.00 288.53 L426.00 288.23 L427.00 287.89 L428.00 287.50 L429.00 287.06 L430.00 286.57 L431.00 286.03 L432.00 285.43 L433.00 284.80 L434.00 284.11 L435.00 283.40 L436.00 282.65 L437.00 281.88 L438.00 281.10 L439.00 280.32 L440.00 279.56 L441.00 278.82 L442.00 278.13 L443.00 277.50 L444.00 276.95 L445.00 276.48 L446.00 276.11 L447.00 275.86 L448.00 275.72 L449.00 275.71 L450.00 275.82 L451.00 276.05 L452.00 276.40 L453.00 276.85 L454.00 277.38 L455.00 278.00 L456.00 278.68 L457.00 279.41 L458.00 280.17 L459.00 280.94 L460.00 281.72 L461.00 282.49 L462.00 283.25 L463.00 283.97 L464.00 284.66 L465.00 285.31 L466.00 285.91 L467.00 286.46 L468.00 286.96 L469.00 287.41 L470.00 287.81 L471.00 288.17 L472.00 288.48 L473.00 288.74 L474.00 288.97 L475.00 289.17 L476.00 289.33 L477.00 289.47 L478.00 289.59 L479.00 289.68 L480.00 289.76 L481.00 289.82 L482.00 289.87 L483.00 289.92 L484.00 289.95 L485.00 289.98 L486.00 290.00" fill="none" stroke="#9B40E8" stroke-width="1.8" stroke-linejoin="round" stroke-linecap="round"/>
<path d="M341.5 288.5 L343.2 287.9 L348.9 285.4 L352.7 289.2 L359.1 289.8 L366.1 286.0 L370.5 287.9 L373.1 287.3 L378.2 279.0 L382.6 288.5 L387.7 280.3 L392.2 280.9 L396.0 287.9 L400.4 278.4 L404.9 279.6 L410.5 282.3 L415.9 281.2 L421.4 274.1 L426.8 276.8 L433.4 271.4 L441.0 269.2 L443.2 263.7 L445.9 260.5 L447.5 263.7 L449.7 269.2 L451.9 271.4 L456.3 271.4 L461.7 270.3 L466.8 282.3 L473.6 284.3 L480.5 282.3 L487.3 287.7 L494.0 287.7 L500.9 291.2 L507.7 291.8 L513.9 283.6 L518.7 290.5 L522.0 298.6 L526.8 294.6 L530.3 292.5" fill="none" stroke="#8C8C14" stroke-width="1.7" stroke-linejoin="round"/>
<path d="M341.50 291.70 C344.58 291.25 353.58 289.95 360.00 289.00 C366.42 288.05 372.50 287.30 380.00 286.00 C387.50 284.70 397.20 282.82 405.00 281.20 C412.80 279.58 421.35 277.93 426.80 276.30 C432.25 274.67 435.00 272.78 437.70 271.40 C440.40 270.02 441.18 269.00 443.00 268.00 C444.82 267.00 447.30 265.80 448.60 265.40 C449.90 265.00 449.52 264.67 450.80 265.60 C452.08 266.53 454.77 269.70 456.30 271.00 C457.83 272.30 458.25 271.97 460.00 273.40 C461.75 274.83 464.53 277.78 466.80 279.60 C469.07 281.42 470.18 282.83 473.60 284.30 C477.02 285.77 482.75 287.33 487.30 288.40 C491.85 289.47 496.35 290.13 500.90 290.70 C505.45 291.27 509.67 291.50 514.60 291.80 C519.53 292.10 527.85 292.38 530.50 292.50" fill="none" stroke="#F62A2A" stroke-width="2.1" stroke-linejoin="round" stroke-linecap="round"/>
<line x1="399.50" y1="279.00" x2="399.50" y2="285.00" stroke="#1E3CFF" stroke-width="1.3" stroke-linecap="butt"/>
<path d="M399.50 288.50 L397.30 284.50 L401.70 284.50 Z" fill="#1E3CFF"/>
<line x1="426.30" y1="269.20" x2="426.30" y2="289.90" stroke="#A8A020" stroke-width="1.5" stroke-linecap="butt"/>
<line x1="451.90" y1="262.10" x2="440.08" y2="271.75" stroke="#000" stroke-width="1.3" stroke-linecap="butt"/>
<path d="M436.60 274.60 L438.83 269.42 L442.12 273.45 Z" fill="#000"/>
<line x1="465.00" y1="268.00" x2="454.88" y2="272.70" stroke="#40B040" stroke-width="1.3" stroke-linecap="butt"/>
<path d="M450.80 274.60 L454.24 270.13 L456.43 274.85 Z" fill="#40B040"/>
<path d="M342.00 384.22 L343.00 384.24 L344.00 384.27 L345.00 384.29 L346.00 384.31 L347.00 384.33 L348.00 384.35 L349.00 384.38 L350.00 384.40 L351.00 384.42 L352.00 384.44 L353.00 384.47 L354.00 384.49 L355.00 384.51 L356.00 384.53 L357.00 384.55 L358.00 384.58 L359.00 384.60 L360.00 384.62 L361.00 384.64 L362.00 384.66 L363.00 384.69 L364.00 384.71 L365.00 384.73 L366.00 384.75 L367.00 384.77 L368.00 384.80 L369.00 384.82 L370.00 384.84 L371.00 384.86 L372.00 384.89 L373.00 384.91 L374.00 384.93 L375.00 384.95 L376.00 384.97 L377.00 384.99 L378.00 385.01 L379.00 385.03 L380.00 385.04 L381.00 385.03 L382.00 385.01 L383.00 384.95 L384.00 384.84 L385.00 384.65 L386.00 384.35 L387.00 383.90 L388.00 383.27 L389.00 382.42 L390.00 381.35 L391.00 380.05 L392.00 378.58 L393.00 377.01 L394.00 375.45 L395.00 374.04 L396.00 372.92 L397.00 372.20 L398.00 371.96 L399.00 372.24 L400.00 373.00 L401.00 374.17 L402.00 375.63 L403.00 377.23 L404.00 378.84 L405.00 380.36 L406.00 381.70 L407.00 382.82 L408.00 383.71 L409.00 384.39 L410.00 384.88 L411.00 385.23 L412.00 385.46 L413.00 385.61 L414.00 385.72 L415.00 385.78 L416.00 385.83 L417.00 385.87 L418.00 385.90 L419.00 385.92 L420.00 385.95 L421.00 385.97 L422.00 385.99 L423.00 386.01 L424.00 386.03 L425.00 386.06 L426.00 386.08 L427.00 386.10 L428.00 386.12 L429.00 386.15 L430.00 386.17 L431.00 386.19 L432.00 386.21 L433.00 386.23 L434.00 386.26 L435.00 386.28 L436.00 386.30 L437.00 386.32 L438.00 386.34 L439.00 386.37 L440.00 386.39 L441.00 386.41 L442.00 386.43 L443.00 386.45 L444.00 386.48 L445.00 386.50 L446.00 386.52 L447.00 386.54 L448.00 386.57 L449.00 386.59 L450.00 386.61 L451.00 386.63 L452.00 386.65 L453.00 386.68 L454.00 386.70 L455.00 386.72 L456.00 386.74 L457.00 386.76 L458.00 386.79 L459.00 386.81 L460.00 386.83 L461.00 386.85 L462.00 386.87 L463.00 386.90 L464.00 386.92 L465.00 386.94 L466.00 386.96 L467.00 386.99 L468.00 387.01 L469.00 387.03 L470.00 387.05 L471.00 387.07 L472.00 387.10 L473.00 387.12 L474.00 387.14 L475.00 387.16 L476.00 387.18 L477.00 387.21 L478.00 387.23 L479.00 387.25 L480.00 387.27 L481.00 387.29 L482.00 387.32 L483.00 387.34 L484.00 387.36 L485.00 387.38 L486.00 387.41 L487.00 387.43 L488.00 387.45 L489.00 387.47 L490.00 387.49 L491.00 387.52 L492.00 387.54 L493.00 387.56 L494.00 387.58 L495.00 387.60 L496.00 387.63 L497.00 387.65 L498.00 387.67 L499.00 387.69 L500.00 387.71 L501.00 387.74 L502.00 387.76 L503.00 387.78 L504.00 387.80 L505.00 387.83 L506.00 387.85 L507.00 387.87 L508.00 387.89 L509.00 387.91 L510.00 387.94 L511.00 387.96 L512.00 387.98 L513.00 388.00 L514.00 388.02 L515.00 388.05 L516.00 388.07 L517.00 388.09 L518.00 388.11 L519.00 388.13 L520.00 388.16 L521.00 388.18 L522.00 388.20 L523.00 388.22 L524.00 388.25 L525.00 388.27 L526.00 388.29 L527.00 388.31 L528.00 388.33 L529.00 388.36 L530.00 388.38 L530.00 388.38 L342.00 384.22 Z" fill="url(#g16)" stroke="none"/>
<path d="M342.00 384.22 L343.00 384.24 L344.00 384.27 L345.00 384.29 L346.00 384.31 L347.00 384.33 L348.00 384.35 L349.00 384.38 L350.00 384.40 L351.00 384.42 L352.00 384.44 L353.00 384.47 L354.00 384.49 L355.00 384.51 L356.00 384.53 L357.00 384.55 L358.00 384.58 L359.00 384.60 L360.00 384.62 L361.00 384.64 L362.00 384.66 L363.00 384.69 L364.00 384.71 L365.00 384.73 L366.00 384.75 L367.00 384.77 L368.00 384.80 L369.00 384.82 L370.00 384.84 L371.00 384.86 L372.00 384.88 L373.00 384.90 L374.00 384.92 L375.00 384.94 L376.00 384.96 L377.00 384.98 L378.00 384.99 L379.00 385.00 L380.00 385.01 L381.00 385.01 L382.00 385.00 L383.00 384.99 L384.00 384.96 L385.00 384.92 L386.00 384.86 L387.00 384.77 L388.00 384.65 L389.00 384.50 L390.00 384.29 L391.00 384.04 L392.00 383.72 L393.00 383.33 L394.00 382.85 L395.00 382.26 L396.00 381.57 L397.00 380.75 L398.00 379.80 L399.00 378.69 L400.00 377.43 L401.00 376.01 L402.00 374.42 L403.00 372.66 L404.00 370.74 L405.00 368.66 L406.00 366.45 L407.00 364.12 L408.00 361.69 L409.00 359.21 L410.00 356.71 L411.00 354.23 L412.00 351.81 L413.00 349.49 L414.00 347.34 L415.00 345.39 L416.00 343.68 L417.00 342.26 L418.00 341.16 L419.00 340.40 L420.00 340.01 L421.00 340.00 L422.00 340.36 L423.00 341.09 L424.00 342.16 L425.00 343.57 L426.00 345.26 L427.00 347.21 L428.00 349.38 L429.00 351.70 L430.00 354.15 L431.00 356.67 L432.00 359.22 L433.00 361.75 L434.00 364.23 L435.00 366.63 L436.00 368.91 L437.00 371.06 L438.00 373.06 L439.00 374.89 L440.00 376.56 L441.00 378.06 L442.00 379.40 L443.00 380.58 L444.00 381.61 L445.00 382.50 L446.00 383.26 L447.00 383.90 L448.00 384.45 L449.00 384.90 L450.00 385.28 L451.00 385.59 L452.00 385.85 L453.00 386.06 L454.00 386.22 L455.00 386.36 L456.00 386.47 L457.00 386.56 L458.00 386.64 L459.00 386.70 L460.00 386.75 L461.00 386.80 L462.00 386.83 L463.00 386.87 L464.00 386.90 L465.00 386.93 L466.00 386.95 L467.00 386.98 L468.00 387.00 L469.00 387.03 L470.00 387.05 L471.00 387.07 L472.00 387.09 L473.00 387.12 L474.00 387.14 L475.00 387.16 L476.00 387.18 L477.00 387.21 L478.00 387.23 L479.00 387.25 L480.00 387.27 L481.00 387.29 L482.00 387.32 L483.00 387.34 L484.00 387.36 L485.00 387.38 L486.00 387.41 L487.00 387.43 L488.00 387.45 L489.00 387.47 L490.00 387.49 L491.00 387.52 L492.00 387.54 L493.00 387.56 L494.00 387.58 L495.00 387.60 L496.00 387.63 L497.00 387.65 L498.00 387.67 L499.00 387.69 L500.00 387.71 L501.00 387.74 L502.00 387.76 L503.00 387.78 L504.00 387.80 L505.00 387.83 L506.00 387.85 L507.00 387.87 L508.00 387.89 L509.00 387.91 L510.00 387.94 L511.00 387.96 L512.00 387.98 L513.00 388.00 L514.00 388.02 L515.00 388.05 L516.00 388.07 L517.00 388.09 L518.00 388.11 L519.00 388.13 L520.00 388.16 L521.00 388.18 L522.00 388.20 L523.00 388.22 L524.00 388.25 L525.00 388.27 L526.00 388.29 L527.00 388.31 L528.00 388.33 L529.00 388.36 L530.00 388.38 L530.00 388.38 L342.00 384.22 Z" fill="url(#g17)" stroke="none"/>
<path d="M400.00 384.56 L401.00 384.52 L402.00 384.48 L403.00 384.43 L404.00 384.38 L405.00 384.32 L406.00 384.24 L407.00 384.16 L408.00 384.07 L409.00 383.96 L410.00 383.83 L411.00 383.69 L412.00 383.52 L413.00 383.33 L414.00 383.10 L415.00 382.83 L416.00 382.52 L417.00 382.14 L418.00 381.68 L419.00 381.12 L420.00 380.40 L421.00 379.48 L422.00 378.29 L423.00 376.72 L424.00 374.66 L425.00 371.99 L426.00 368.59 L427.00 364.36 L428.00 359.27 L429.00 353.42 L430.00 347.17 L431.00 341.26 L432.00 336.87 L433.00 335.23 L434.00 336.91 L435.00 341.35 L436.00 347.30 L437.00 353.59 L438.00 359.49 L439.00 364.62 L440.00 368.90 L441.00 372.35 L442.00 375.06 L443.00 377.16 L444.00 378.77 L445.00 380.01 L446.00 380.98 L447.00 381.74 L448.00 382.35 L449.00 382.85 L450.00 383.27 L451.00 383.63 L452.00 383.94 L453.00 384.21 L454.00 384.45 L455.00 384.66 L456.00 384.85 L457.00 385.02 L458.00 385.17 L459.00 385.31 L460.00 385.44 L461.00 385.55 L462.00 385.66 L463.00 385.76 L464.00 385.85 L465.00 385.94 L466.00 386.02 L467.00 386.09 L468.00 386.17 L469.00 386.23 L470.00 386.30 L471.00 386.36 L472.00 386.41 L473.00 386.47 L474.00 386.52 L475.00 386.57 L476.00 386.62 L477.00 386.67 L478.00 386.71 L479.00 386.76 L480.00 386.80 L481.00 386.84 L482.00 386.88 L483.00 386.92 L484.00 386.96 L485.00 387.00 L486.00 387.03 L487.00 387.07 L488.00 387.10 L489.00 387.14 L490.00 387.17 L491.00 387.20 L492.00 387.24 L493.00 387.27 L494.00 387.30 L495.00 387.33 L496.00 387.36 L497.00 387.39 L498.00 387.42 L499.00 387.45 L500.00 387.48 L500.00 387.71 L400.00 385.50 Z" fill="url(#g18)" stroke="none"/>
<path d="M342.00 384.22 L343.00 384.24 L344.00 384.27 L345.00 384.29 L346.00 384.31 L347.00 384.33 L348.00 384.35 L349.00 384.38 L350.00 384.40 L351.00 384.42 L352.00 384.44 L353.00 384.47 L354.00 384.49 L355.00 384.51 L356.00 384.53 L357.00 384.55 L358.00 384.58 L359.00 384.60 L360.00 384.62 L361.00 384.64 L362.00 384.66 L363.00 384.69 L364.00 384.71 L365.00 384.73 L366.00 384.75 L367.00 384.77 L368.00 384.80 L369.00 384.82 L370.00 384.84 L371.00 384.86 L372.00 384.89 L373.00 384.91 L374.00 384.93 L375.00 384.95 L376.00 384.97 L377.00 384.99 L378.00 385.01 L379.00 385.03 L380.00 385.04 L381.00 385.03 L382.00 385.01 L383.00 384.95 L384.00 384.84 L385.00 384.65 L386.00 384.35 L387.00 383.90 L388.00 383.27 L389.00 382.42 L390.00 381.35 L391.00 380.05 L392.00 378.58 L393.00 377.01 L394.00 375.45 L395.00 374.04 L396.00 372.92 L397.00 372.20 L398.00 371.96 L399.00 372.24 L400.00 373.00 L401.00 374.17 L402.00 375.63 L403.00 377.23 L404.00 378.84 L405.00 380.36 L406.00 381.70 L407.00 382.82 L408.00 383.71 L409.00 384.39 L410.00 384.88 L411.00 385.23 L412.00 385.46 L413.00 385.61 L414.00 385.72 L415.00 385.78 L416.00 385.83 L417.00 385.87 L418.00 385.90 L419.00 385.92 L420.00 385.95 L421.00 385.97 L422.00 385.99 L423.00 386.01 L424.00 386.03 L425.00 386.06 L426.00 386.08 L427.00 386.10 L428.00 386.12 L429.00 386.15 L430.00 386.17 L431.00 386.19 L432.00 386.21 L433.00 386.23 L434.00 386.26 L435.00 386.28 L436.00 386.30 L437.00 386.32 L438.00 386.34 L439.00 386.37 L440.00 386.39 L441.00 386.41 L442.00 386.43 L443.00 386.45 L444.00 386.48 L445.00 386.50 L446.00 386.52 L447.00 386.54 L448.00 386.57 L449.00 386.59 L450.00 386.61 L451.00 386.63 L452.00 386.65 L453.00 386.68 L454.00 386.70 L455.00 386.72 L456.00 386.74 L457.00 386.76 L458.00 386.79 L459.00 386.81 L460.00 386.83 L461.00 386.85 L462.00 386.87 L463.00 386.90 L464.00 386.92 L465.00 386.94 L466.00 386.96 L467.00 386.99 L468.00 387.01 L469.00 387.03 L470.00 387.05 L471.00 387.07 L472.00 387.10 L473.00 387.12 L474.00 387.14 L475.00 387.16 L476.00 387.18 L477.00 387.21 L478.00 387.23 L479.00 387.25 L480.00 387.27 L481.00 387.29 L482.00 387.32 L483.00 387.34 L484.00 387.36 L485.00 387.38 L486.00 387.41 L487.00 387.43 L488.00 387.45 L489.00 387.47 L490.00 387.49 L491.00 387.52 L492.00 387.54 L493.00 387.56 L494.00 387.58 L495.00 387.60 L496.00 387.63 L497.00 387.65 L498.00 387.67 L499.00 387.69 L500.00 387.71 L501.00 387.74 L502.00 387.76 L503.00 387.78 L504.00 387.80 L505.00 387.83 L506.00 387.85 L507.00 387.87 L508.00 387.89 L509.00 387.91 L510.00 387.94 L511.00 387.96 L512.00 387.98 L513.00 388.00 L514.00 388.02 L515.00 388.05 L516.00 388.07 L517.00 388.09 L518.00 388.11 L519.00 388.13 L520.00 388.16 L521.00 388.18 L522.00 388.20 L523.00 388.22 L524.00 388.25 L525.00 388.27 L526.00 388.29 L527.00 388.31 L528.00 388.33 L529.00 388.36 L530.00 388.38" fill="none" stroke="#1E9AE6" stroke-width="1.8" stroke-linejoin="round" stroke-linecap="round"/>
<path d="M342.00 384.22 L343.00 384.24 L344.00 384.27 L345.00 384.29 L346.00 384.31 L347.00 384.33 L348.00 384.35 L349.00 384.38 L350.00 384.40 L351.00 384.42 L352.00 384.44 L353.00 384.47 L354.00 384.49 L355.00 384.51 L356.00 384.53 L357.00 384.55 L358.00 384.58 L359.00 384.60 L360.00 384.62 L361.00 384.64 L362.00 384.66 L363.00 384.69 L364.00 384.71 L365.00 384.73 L366.00 384.75 L367.00 384.77 L368.00 384.80 L369.00 384.82 L370.00 384.84 L371.00 384.86 L372.00 384.88 L373.00 384.90 L374.00 384.92 L375.00 384.94 L376.00 384.96 L377.00 384.98 L378.00 384.99 L379.00 385.00 L380.00 385.01 L381.00 385.01 L382.00 385.00 L383.00 384.99 L384.00 384.96 L385.00 384.92 L386.00 384.86 L387.00 384.77 L388.00 384.65 L389.00 384.50 L390.00 384.29 L391.00 384.04 L392.00 383.72 L393.00 383.33 L394.00 382.85 L395.00 382.26 L396.00 381.57 L397.00 380.75 L398.00 379.80 L399.00 378.69 L400.00 377.43 L401.00 376.01 L402.00 374.42 L403.00 372.66 L404.00 370.74 L405.00 368.66 L406.00 366.45 L407.00 364.12 L408.00 361.69 L409.00 359.21 L410.00 356.71 L411.00 354.23 L412.00 351.81 L413.00 349.49 L414.00 347.34 L415.00 345.39 L416.00 343.68 L417.00 342.26 L418.00 341.16 L419.00 340.40 L420.00 340.01 L421.00 340.00 L422.00 340.36 L423.00 341.09 L424.00 342.16 L425.00 343.57 L426.00 345.26 L427.00 347.21 L428.00 349.38 L429.00 351.70 L430.00 354.15 L431.00 356.67 L432.00 359.22 L433.00 361.75 L434.00 364.23 L435.00 366.63 L436.00 368.91 L437.00 371.06 L438.00 373.06 L439.00 374.89 L440.00 376.56 L441.00 378.06 L442.00 379.40 L443.00 380.58 L444.00 381.61 L445.00 382.50 L446.00 383.26 L447.00 383.90 L448.00 384.45 L449.00 384.90 L450.00 385.28 L451.00 385.59 L452.00 385.85 L453.00 386.06 L454.00 386.22 L455.00 386.36 L456.00 386.47 L457.00 386.56 L458.00 386.64 L459.00 386.70 L460.00 386.75 L461.00 386.80 L462.00 386.83 L463.00 386.87 L464.00 386.90 L465.00 386.93 L466.00 386.95 L467.00 386.98 L468.00 387.00 L469.00 387.03 L470.00 387.05 L471.00 387.07 L472.00 387.09 L473.00 387.12 L474.00 387.14 L475.00 387.16 L476.00 387.18 L477.00 387.21 L478.00 387.23 L479.00 387.25 L480.00 387.27 L481.00 387.29 L482.00 387.32 L483.00 387.34 L484.00 387.36 L485.00 387.38 L486.00 387.41 L487.00 387.43 L488.00 387.45 L489.00 387.47 L490.00 387.49 L491.00 387.52 L492.00 387.54 L493.00 387.56 L494.00 387.58 L495.00 387.60 L496.00 387.63 L497.00 387.65 L498.00 387.67 L499.00 387.69 L500.00 387.71 L501.00 387.74 L502.00 387.76 L503.00 387.78 L504.00 387.80 L505.00 387.83 L506.00 387.85 L507.00 387.87 L508.00 387.89 L509.00 387.91 L510.00 387.94 L511.00 387.96 L512.00 387.98 L513.00 388.00 L514.00 388.02 L515.00 388.05 L516.00 388.07 L517.00 388.09 L518.00 388.11 L519.00 388.13 L520.00 388.16 L521.00 388.18 L522.00 388.20 L523.00 388.22 L524.00 388.25 L525.00 388.27 L526.00 388.29 L527.00 388.31 L528.00 388.33 L529.00 388.36 L530.00 388.38" fill="none" stroke="#BF9A22" stroke-width="1.8" stroke-linejoin="round" stroke-linecap="round"/>
<path d="M408.00 384.07 L409.00 383.96 L410.00 383.83 L411.00 383.69 L412.00 383.52 L413.00 383.33 L414.00 383.10 L415.00 382.83 L416.00 382.52 L417.00 382.14 L418.00 381.68 L419.00 381.12 L420.00 380.40 L421.00 379.48 L422.00 378.29 L423.00 376.72 L424.00 374.66 L425.00 371.99 L426.00 368.59 L427.00 364.36 L428.00 359.27 L429.00 353.42 L430.00 347.17 L431.00 341.26 L432.00 336.87 L433.00 335.23 L434.00 336.91 L435.00 341.35 L436.00 347.30 L437.00 353.59 L438.00 359.49 L439.00 364.62 L440.00 368.90 L441.00 372.35 L442.00 375.06 L443.00 377.16 L444.00 378.77 L445.00 380.01 L446.00 380.98 L447.00 381.74 L448.00 382.35 L449.00 382.85 L450.00 383.27 L451.00 383.63 L452.00 383.94 L453.00 384.21 L454.00 384.45 L455.00 384.66 L456.00 384.85" fill="none" stroke="#9B30F0" stroke-width="1.8" stroke-linejoin="round" stroke-linecap="round"/>
<path d="M342.00 382.42 L342.50 382.43 L343.00 382.44 L343.50 382.46 L344.00 382.47 L344.50 382.48 L345.00 382.49 L345.50 382.50 L346.00 382.51 L346.50 382.52 L347.00 382.53 L347.50 382.54 L348.00 382.55 L348.50 382.57 L349.00 382.58 L349.50 382.59 L350.00 382.60 L350.50 382.61 L351.00 382.62 L351.50 382.63 L352.00 382.64 L352.50 382.65 L353.00 382.67 L353.50 382.68 L354.00 382.69 L354.50 382.70 L355.00 382.71 L355.50 382.72 L356.00 382.73 L356.50 382.74 L357.00 382.75 L357.50 382.76 L358.00 382.78 L358.50 382.79 L359.00 382.80 L359.50 382.81 L360.00 382.82 L360.50 382.83 L361.00 382.84 L361.50 382.85 L362.00 382.86 L362.50 382.88 L363.00 382.89 L363.50 382.90 L364.00 382.91 L364.50 382.92 L365.00 382.93 L365.50 382.94 L366.00 382.95 L366.50 382.96 L367.00 382.97 L367.50 382.99 L368.00 383.00 L368.50 383.01 L369.00 383.02 L369.50 383.03 L370.00 383.04 L370.50 383.05 L371.00 383.06 L371.50 383.07 L372.00 383.09 L372.50 383.10 L373.00 383.11 L373.50 383.12 L374.00 383.13 L374.50 383.14 L375.00 383.15 L375.50 383.16 L376.00 383.17 L376.50 383.18 L377.00 383.20 L377.50 383.21 L378.00 383.22 L378.50 383.23 L379.00 383.24 L379.50 383.25 L380.00 383.26 L380.50 383.27 L381.00 383.28 L381.50 383.30 L382.00 383.31 L382.50 383.32 L383.00 383.33 L383.50 383.34 L384.00 383.35 L384.50 383.36 L385.00 383.37 L385.50 383.38 L386.00 383.39 L386.50 383.41 L387.00 383.42 L387.50 383.43 L388.00 383.44 L388.50 383.45 L389.00 383.46 L389.50 383.47 L390.00 383.48 L390.50 383.49 L391.00 383.51 L391.50 383.52 L392.00 383.53 L392.50 383.54 L393.00 383.55 L393.50 383.56 L394.00 383.57 L394.50 383.58 L395.00 383.59 L395.50 383.60 L396.00 383.62 L396.50 383.63 L397.00 383.64 L397.50 383.65 L398.00 383.66 L398.50 383.67 L399.00 383.68 L399.50 383.69 L400.00 385.50 L400.50 385.52 L401.00 385.53 L401.50 385.54 L402.00 385.55 L402.50 385.56 L403.00 385.57 L403.50 385.58 L404.00 385.59 L404.50 385.60 L405.00 385.61 L405.50 385.63 L406.00 385.64 L406.50 385.65 L407.00 385.66 L407.50 385.67 L408.00 385.68 L408.50 385.69 L409.00 385.70 L409.50 385.71 L410.00 385.73 L410.50 385.74 L411.00 385.75 L411.50 385.76 L412.00 385.77 L412.50 385.78 L413.00 385.79 L413.50 385.80 L414.00 385.81 L414.50 385.82 L415.00 385.84 L415.50 385.85 L416.00 385.86 L416.50 385.87 L417.00 385.88 L417.50 385.89 L418.00 385.90 L418.50 385.91 L419.00 385.92 L419.50 385.94 L420.00 385.95 L420.50 385.96 L421.00 385.97 L421.50 385.98 L422.00 385.99 L422.50 386.00 L423.00 386.01 L423.50 386.02 L424.00 386.03 L424.50 386.05 L425.00 386.06 L425.50 386.07 L426.00 386.08 L426.50 386.09 L427.00 386.10 L427.50 386.11 L428.00 386.12 L428.50 386.13 L429.00 386.15 L429.50 386.16 L430.00 386.17 L430.50 386.18 L431.00 386.19 L431.50 386.20 L432.00 386.21 L432.50 386.22 L433.00 386.23 L433.50 386.24 L434.00 386.26 L434.50 386.27 L435.00 386.28 L435.50 386.29 L436.00 386.30 L436.50 386.31 L437.00 386.32 L437.50 386.33 L438.00 386.34 L438.50 386.36 L439.00 386.37 L439.50 386.38 L440.00 386.39 L440.50 386.40 L441.00 386.41 L441.50 386.42 L442.00 386.43 L442.50 386.44 L443.00 386.45 L443.50 386.47 L444.00 386.48 L444.50 386.49 L445.00 386.50 L445.50 386.51 L446.00 386.52 L446.50 386.53 L447.00 386.54 L447.50 386.55 L448.00 386.57 L448.50 386.58 L449.00 386.59 L449.50 386.60 L450.00 386.61 L450.50 386.62 L451.00 386.63 L451.50 386.64 L452.00 386.65 L452.50 386.66 L453.00 386.68 L453.50 386.69 L454.00 386.70 L454.50 386.71 L455.00 386.72 L455.50 386.73 L456.00 386.74 L456.50 386.75 L457.00 386.76 L457.50 386.78 L458.00 386.79 L458.50 386.80 L459.00 386.81 L459.50 386.82 L460.00 386.83 L460.50 386.84 L461.00 386.85 L461.50 386.86 L462.00 386.87 L462.50 386.89 L463.00 386.90 L463.50 386.91 L464.00 386.92 L464.50 386.93 L465.00 386.94 L465.50 386.95 L466.00 386.96 L466.50 386.97 L467.00 386.99 L467.50 387.00 L468.00 387.01 L468.50 387.02 L469.00 387.03 L469.50 387.04 L470.00 387.05 L470.50 387.06 L471.00 387.07 L471.50 387.08 L472.00 387.10 L472.50 387.11 L473.00 387.12 L473.50 387.13 L474.00 387.14 L474.50 387.15 L475.00 387.16 L475.50 387.17 L476.00 387.18 L476.50 387.20 L477.00 387.21 L477.50 387.22 L478.00 387.23 L478.50 387.24 L479.00 387.25 L479.50 387.26 L480.00 387.27 L480.50 387.28 L481.00 387.29 L481.50 387.31 L482.00 387.32 L482.50 387.33 L483.00 387.34 L483.50 387.35 L484.00 387.36 L484.50 387.37 L485.00 387.38 L485.50 387.39 L486.00 387.41 L486.50 387.42 L487.00 387.43 L487.50 387.44 L488.00 387.45 L488.50 387.46 L489.00 387.47 L489.50 387.48 L490.00 387.49 L490.50 387.50 L491.00 387.52 L491.50 387.53 L492.00 387.54 L492.50 387.55 L493.00 387.56 L493.50 387.57 L494.00 387.58 L494.50 387.59 L495.00 387.60 L495.50 387.62 L496.00 387.63 L496.50 387.64 L497.00 387.65 L497.50 387.66 L498.00 387.67 L498.50 387.68 L499.00 387.69 L499.50 387.70 L500.00 387.71 L500.50 387.73 L501.00 387.74 L501.50 387.75 L502.00 387.76 L502.50 387.77 L503.00 387.78 L503.50 387.79 L504.00 387.80 L504.50 387.81 L505.00 387.83 L505.50 387.84 L506.00 387.85 L506.50 387.86 L507.00 387.87 L507.50 387.88 L508.00 387.89 L508.50 387.90 L509.00 387.91 L509.50 387.92 L510.00 387.94 L510.50 387.95 L511.00 387.96 L511.50 387.97 L512.00 387.98 L512.50 387.99 L513.00 388.00 L513.50 388.01 L514.00 388.02 L514.50 388.04 L515.00 388.05 L515.50 388.06 L516.00 388.07 L516.50 388.08 L517.00 388.09 L517.50 388.10 L518.00 388.11 L518.50 388.12 L519.00 388.13 L519.50 388.15 L520.00 388.16 L520.50 388.17 L521.00 388.18 L521.50 388.19 L522.00 388.20 L522.50 388.21 L523.00 388.22 L523.50 388.23 L524.00 388.25 L524.50 388.26 L525.00 388.27 L525.50 388.28 L526.00 388.29 L526.50 388.30 L527.00 388.31 L527.50 388.32 L528.00 388.33 L528.50 388.34 L529.00 388.36 L529.50 388.37 L530.00 388.38" fill="none" stroke="#E0A526" stroke-width="1.4" stroke-linejoin="round" stroke-linecap="round"/>
<path d="M342.00 382.60 C345.00 382.57 353.17 382.83 360.00 382.40 C366.83 381.97 377.67 381.48 383.00 380.00 C388.33 378.52 389.83 376.17 392.00 373.50 C394.17 370.83 394.43 367.92 396.00 364.00 C397.57 360.08 399.52 353.50 401.40 350.00 C403.28 346.50 405.42 345.00 407.30 343.00 C409.18 341.00 410.92 339.78 412.70 338.00 C414.48 336.22 416.28 334.30 418.00 332.30 C419.72 330.30 421.20 328.33 423.00 326.00 C424.80 323.67 427.47 320.47 428.80 318.30 C430.13 316.13 430.20 313.97 431.00 313.00 C431.80 312.03 432.60 311.33 433.60 312.50 C434.60 313.67 435.85 316.42 437.00 320.00 C438.15 323.58 439.33 328.67 440.50 334.00 C441.67 339.33 442.75 346.33 444.00 352.00 C445.25 357.67 446.67 363.83 448.00 368.00 C449.33 372.17 450.33 374.67 452.00 377.00 C453.67 379.33 455.00 380.70 458.00 382.00 C461.00 383.30 458.00 383.83 470.00 384.80 C482.00 385.77 520.00 387.30 530.00 387.80" fill="none" stroke="#4A4A4A" stroke-width="1.7" stroke-linejoin="round" stroke-linecap="round"/>
<path d="M342.00 380.80 C345.00 380.70 353.12 380.50 360.00 380.20 C366.88 379.90 377.92 380.30 383.30 379.00 C388.68 377.70 390.23 375.00 392.30 372.40 C394.37 369.80 394.58 365.30 395.70 363.40 C396.82 361.50 397.87 361.23 399.00 361.00 C400.13 360.77 401.00 363.50 402.50 362.00 C404.00 360.50 405.92 355.73 408.00 352.00 C410.08 348.27 412.33 344.87 415.00 339.60 C417.67 334.33 421.55 325.57 424.00 320.40 C426.45 315.23 428.20 310.25 429.70 308.60 C431.20 306.95 431.78 308.43 433.00 310.50 C434.22 312.57 435.55 317.08 437.00 321.00 C438.45 324.92 440.37 329.50 441.70 334.00 C443.03 338.50 443.62 341.83 445.00 348.00 C446.38 354.17 448.33 365.92 450.00 371.00 C451.67 376.08 453.20 376.57 455.00 378.50 C456.80 380.43 456.63 381.43 460.80 382.60 C464.97 383.77 468.47 384.73 480.00 385.50 C491.53 386.27 521.67 386.92 530.00 387.20" fill="none" stroke="#F62A2A" stroke-width="2.1" stroke-linejoin="round" stroke-linecap="round"/>
<path d="M342.00 384.22 L342.50 384.23 L343.00 384.24 L343.50 384.26 L344.00 384.27 L344.50 384.28 L345.00 384.29 L345.50 384.30 L346.00 384.31 L346.50 384.32 L347.00 384.33 L347.50 384.34 L348.00 384.35 L348.50 384.37 L349.00 384.38 L349.50 384.39 L350.00 384.40 L350.50 384.41 L351.00 384.42 L351.50 384.43 L352.00 384.44 L352.50 384.45 L353.00 384.47 L353.50 384.48 L354.00 384.49 L354.50 384.50 L355.00 384.51 L355.50 384.52 L356.00 384.53 L356.50 384.54 L357.00 384.55 L357.50 384.56 L358.00 384.58 L358.50 384.59 L359.00 384.60 L359.50 384.61 L360.00 384.62 L360.50 384.63 L361.00 384.64 L361.50 384.65 L362.00 384.66 L362.50 384.68 L363.00 384.69 L363.50 384.70 L364.00 384.71 L364.50 384.72 L365.00 384.73 L365.50 384.74 L366.00 384.75 L366.50 384.76 L367.00 384.77 L367.50 384.79 L368.00 384.80 L368.50 384.81 L369.00 384.82 L369.50 384.83 L370.00 384.84 L370.50 384.85 L371.00 384.86 L371.50 384.87 L372.00 384.89 L372.50 384.90 L373.00 384.91 L373.50 384.92 L374.00 384.93 L374.50 384.94 L375.00 384.95 L375.50 384.96 L376.00 384.97 L376.50 384.98 L377.00 385.00 L377.50 385.01 L378.00 385.02 L378.50 385.03 L379.00 385.04 L379.50 385.05 L380.00 385.06 L380.50 385.07 L381.00 385.08 L381.50 385.10 L382.00 385.11 L382.50 385.12 L383.00 385.13 L383.50 385.14 L384.00 385.15 L384.50 385.16 L385.00 385.17 L385.50 385.18 L386.00 385.19 L386.50 385.21 L387.00 385.22 L387.50 385.23 L388.00 385.24 L388.50 385.25 L389.00 385.26 L389.50 385.27 L390.00 385.28 L390.50 385.29 L391.00 385.31 L391.50 385.32 L392.00 385.33 L392.50 385.34 L393.00 385.35 L393.50 385.36 L394.00 385.37 L394.50 385.38 L395.00 385.39 L395.50 385.40 L396.00 385.42 L396.50 385.43 L397.00 385.44 L397.50 385.45 L398.00 385.46 L398.50 385.47 L399.00 385.48 L399.50 385.49 L400.00 385.50 L400.50 385.52 L401.00 385.53 L401.50 385.54 L402.00 385.55 L402.50 385.56 L403.00 385.57 L403.50 385.58 L404.00 385.59 L404.50 385.60 L405.00 385.61 L405.50 385.63 L406.00 385.64 L406.50 385.65 L407.00 385.66 L407.50 385.67 L408.00 385.68 L408.50 385.69 L409.00 385.70 L409.50 385.71 L410.00 385.73 L410.50 385.74 L411.00 385.75 L411.50 385.76 L412.00 385.77 L412.50 385.78 L413.00 385.79 L413.50 385.80 L414.00 385.81 L414.50 385.82 L415.00 385.84 L415.50 385.85 L416.00 385.86 L416.50 385.87 L417.00 385.88 L417.50 385.89 L418.00 385.90 L418.50 385.91 L419.00 385.92 L419.50 385.94 L420.00 385.95 L420.50 385.96 L421.00 385.97 L421.50 385.98 L422.00 385.99 L422.50 386.00 L423.00 386.01 L423.50 386.02 L424.00 386.03 L424.50 386.05 L425.00 386.06 L425.50 386.07 L426.00 386.08 L426.50 386.09 L427.00 386.10 L427.50 386.11 L428.00 386.12 L428.50 386.13 L429.00 386.15 L429.50 386.16 L430.00 386.17 L430.50 386.18 L431.00 386.19 L431.50 386.20 L432.00 386.21 L432.50 386.22 L433.00 386.23 L433.50 386.24 L434.00 386.26 L434.50 386.27 L435.00 386.28 L435.50 386.29 L436.00 386.30 L436.50 386.31 L437.00 386.32 L437.50 386.33 L438.00 386.34 L438.50 386.36 L439.00 386.37 L439.50 386.38 L440.00 386.39 L440.50 386.40 L441.00 386.41 L441.50 386.42 L442.00 386.43 L442.50 386.44 L443.00 386.45 L443.50 386.47 L444.00 386.48 L444.50 386.49 L445.00 386.50 L445.50 386.51 L446.00 386.52 L446.50 386.53 L447.00 386.54 L447.50 386.55 L448.00 386.57 L448.50 386.58 L449.00 386.59 L449.50 386.60 L450.00 386.61 L450.50 386.62 L451.00 386.63 L451.50 386.64 L452.00 386.65 L452.50 386.66 L453.00 386.68 L453.50 386.69 L454.00 386.70 L454.50 386.71 L455.00 386.72 L455.50 386.73 L456.00 386.74 L456.50 386.75 L457.00 386.76 L457.50 386.78 L458.00 386.79 L458.50 386.80 L459.00 386.81 L459.50 386.82 L460.00 386.83 L460.50 386.84 L461.00 386.85 L461.50 386.86 L462.00 386.87 L462.50 386.89 L463.00 386.90 L463.50 386.91 L464.00 386.92 L464.50 386.93 L465.00 386.94 L465.50 386.95 L466.00 386.96 L466.50 386.97 L467.00 386.99 L467.50 387.00 L468.00 387.01 L468.50 387.02 L469.00 387.03 L469.50 387.04 L470.00 387.05 L470.50 387.06 L471.00 387.07 L471.50 387.08 L472.00 387.10 L472.50 387.11 L473.00 387.12 L473.50 387.13 L474.00 387.14 L474.50 387.15 L475.00 387.16 L475.50 387.17 L476.00 387.18 L476.50 387.20 L477.00 387.21 L477.50 387.22 L478.00 387.23 L478.50 387.24 L479.00 387.25 L479.50 387.26 L480.00 387.27 L480.50 387.28 L481.00 387.29 L481.50 387.31 L482.00 387.32 L482.50 387.33 L483.00 387.34 L483.50 387.35 L484.00 387.36 L484.50 387.37 L485.00 387.38 L485.50 387.39 L486.00 387.41 L486.50 387.42 L487.00 387.43 L487.50 387.44 L488.00 387.45 L488.50 387.46 L489.00 387.47 L489.50 387.48 L490.00 387.49 L490.50 387.50 L491.00 387.52 L491.50 387.53 L492.00 387.54 L492.50 387.55 L493.00 387.56 L493.50 387.57 L494.00 387.58 L494.50 387.59 L495.00 387.60 L495.50 387.62 L496.00 387.63 L496.50 387.64 L497.00 387.65 L497.50 387.66 L498.00 387.67 L498.50 387.68 L499.00 387.69 L499.50 387.70 L500.00 387.71 L500.50 387.73 L501.00 387.74 L501.50 387.75 L502.00 387.76 L502.50 387.77 L503.00 387.78 L503.50 387.79 L504.00 387.80 L504.50 387.81 L505.00 387.83 L505.50 387.84 L506.00 387.85 L506.50 387.86 L507.00 387.87 L507.50 387.88 L508.00 387.89 L508.50 387.90 L509.00 387.91 L509.50 387.92 L510.00 387.94 L510.50 387.95 L511.00 387.96 L511.50 387.97 L512.00 387.98 L512.50 387.99 L513.00 388.00 L513.50 388.01 L514.00 388.02 L514.50 388.04 L515.00 388.05 L515.50 388.06 L516.00 388.07 L516.50 388.08 L517.00 388.09 L517.50 388.10 L518.00 388.11 L518.50 388.12 L519.00 388.13 L519.50 388.15 L520.00 388.16 L520.50 388.17 L521.00 388.18 L521.50 388.19 L522.00 388.20 L522.50 388.21 L523.00 388.22 L523.50 388.23 L524.00 388.25 L524.50 388.26 L525.00 388.27 L525.50 388.28 L526.00 388.29 L526.50 388.30 L527.00 388.31 L527.50 388.32 L528.00 388.33 L528.50 388.34 L529.00 388.36 L529.50 388.37 L530.00 388.38" fill="none" stroke="#1E9AE6" stroke-width="2.0" stroke-linejoin="round" stroke-linecap="round"/>
<line x1="382.00" y1="360.00" x2="396.80" y2="370.20" stroke="#20C8D8" stroke-width="1.3" stroke-linecap="butt"/>
<line x1="406.00" y1="327.60" x2="419.50" y2="338.50" stroke="#A08A10" stroke-width="1.3" stroke-linecap="butt"/>
<line x1="435.40" y1="332.80" x2="443.80" y2="327.60" stroke="#B070F0" stroke-width="1.3" stroke-linecap="butt"/>
<line x1="461.90" y1="368.00" x2="448.47" y2="379.13" stroke="#20A030" stroke-width="1.3" stroke-linecap="butt"/>
<path d="M445.00 382.00 L447.19 376.81 L450.51 380.81 Z" fill="#20A030"/>
<text x="343.50" y="256.80" font-size="13.20" fill="#111" text-anchor="start" font-weight="bold" textLength="15.8" lengthAdjust="spacingAndGlyphs">(d)</text>
<text x="362.50" y="256.80" font-size="13.60" fill="#111" text-anchor="start" font-weight="bold" textLength="26.8" lengthAdjust="spacingAndGlyphs">S 2p</text>
<text x="381.00" y="278.50" font-size="10.60" fill="#111" text-anchor="start" font-weight="bold" textLength="37.3" lengthAdjust="spacingAndGlyphs">162.9 eV</text>
<text x="408.00" y="264.70" font-size="10.60" fill="#111" text-anchor="start" font-weight="bold" textLength="35.0" lengthAdjust="spacingAndGlyphs">161.5 eV</text>
<text x="445.00" y="260.30" font-size="10.60" fill="#111" text-anchor="start" font-weight="bold" textLength="39.0" lengthAdjust="spacingAndGlyphs">161.0 eV</text>
<text x="467.00" y="271.00" font-size="10.60" fill="#111" text-anchor="start" font-weight="bold" textLength="37.0" lengthAdjust="spacingAndGlyphs">160.3 eV</text>
<text x="473.00" y="308.00" font-size="9.60" fill="#111" text-anchor="start" font-weight="bold" textLength="57.0" lengthAdjust="spacingAndGlyphs">10SQDs/SPI*5</text>
<text x="382.00" y="327.60" font-size="10.60" fill="#111" text-anchor="start" font-weight="bold" textLength="37.5" lengthAdjust="spacingAndGlyphs">161.8 eV</text>
<text x="377.60" y="339.80" font-size="11.20" fill="#111" text-anchor="start" font-weight="bold" textLength="12.4" lengthAdjust="spacingAndGlyphs">2p</text>
<text x="390.00" y="342.20" font-size="8.80" fill="#111" text-anchor="start" font-weight="bold" textLength="10.0" lengthAdjust="spacingAndGlyphs">1/2</text>
<text x="442.20" y="326.00" font-size="10.60" fill="#111" text-anchor="start" font-weight="bold" textLength="38.5" lengthAdjust="spacingAndGlyphs">161.3 eV</text>
<text x="455.00" y="351.60" font-size="11.20" fill="#111" text-anchor="start" font-weight="bold" textLength="11.4" lengthAdjust="spacingAndGlyphs">2p</text>
<text x="466.40" y="354.40" font-size="8.80" fill="#111" text-anchor="start" font-weight="bold" textLength="11.3" lengthAdjust="spacingAndGlyphs">3/2</text>
<text x="369.70" y="360.00" font-size="10.60" fill="#111" text-anchor="start" font-weight="bold" textLength="36.2" lengthAdjust="spacingAndGlyphs">163.0 eV</text>
<text x="449.40" y="368.00" font-size="10.60" fill="#111" text-anchor="start" font-weight="bold" textLength="38.6" lengthAdjust="spacingAndGlyphs">160.5 eV</text>
<text x="484.50" y="380.40" font-size="10.60" fill="#111" text-anchor="start" font-weight="bold" textLength="19.0" lengthAdjust="spacingAndGlyphs">SnS</text>
<text x="503.50" y="382.60" font-size="8.20" fill="#111" text-anchor="start" font-weight="bold">2</text>
<text x="508.50" y="380.40" font-size="10.60" fill="#111" text-anchor="start" font-weight="bold" textLength="18.0" lengthAdjust="spacingAndGlyphs">*1/5</text>
</svg></body></html>
